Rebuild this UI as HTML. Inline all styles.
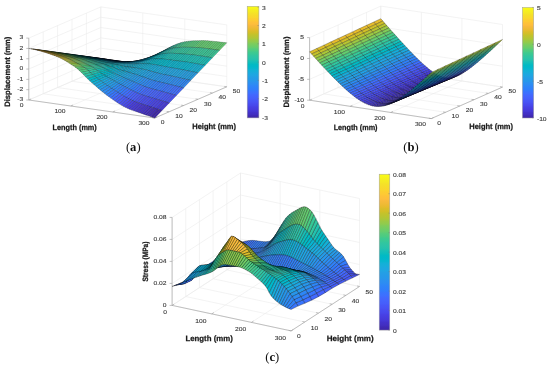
<!DOCTYPE html>
<html><head><meta charset="utf-8"><style>
html,body{margin:0;padding:0;background:#fff;}
body{width:550px;height:369px;overflow:hidden;}
svg{display:block;text-rendering:geometricPrecision;}
.tk{font-family:"Liberation Sans",Arial,sans-serif;font-size:5.7px;fill:#3c3c3c;stroke:#3c3c3c;stroke-width:0.12px;}
.al{font-family:"Liberation Sans",Arial,sans-serif;font-size:7.6px;font-weight:bold;fill:#1a1a1a;stroke:#1a1a1a;stroke-width:0.25px;}
.cap{font-family:"Liberation Serif","Times New Roman",serif;font-size:12.6px;fill:#111;}
</style></head><body>
<svg width="550" height="369" viewBox="0 0 550 369">
<rect width="550" height="369" fill="#fff"/>
<line x1="28.8" y1="100" x2="100.8" y2="68.8" stroke="#ebebeb" stroke-width="0.6"/>
<line x1="70.8" y1="106" x2="142.8" y2="74.8" stroke="#ebebeb" stroke-width="0.6"/>
<line x1="112.8" y1="112" x2="184.8" y2="80.8" stroke="#ebebeb" stroke-width="0.6"/>
<line x1="154.8" y1="118" x2="226.8" y2="86.8" stroke="#ebebeb" stroke-width="0.6"/>
<line x1="28.8" y1="100" x2="154.8" y2="118" stroke="#ebebeb" stroke-width="0.6"/>
<line x1="43.2" y1="93.76" x2="169.2" y2="111.76" stroke="#ebebeb" stroke-width="0.6"/>
<line x1="57.6" y1="87.52" x2="183.6" y2="105.52" stroke="#ebebeb" stroke-width="0.6"/>
<line x1="72" y1="81.28" x2="198" y2="99.28" stroke="#ebebeb" stroke-width="0.6"/>
<line x1="86.4" y1="75.04" x2="212.4" y2="93.04" stroke="#ebebeb" stroke-width="0.6"/>
<line x1="100.8" y1="68.8" x2="226.8" y2="86.8" stroke="#ebebeb" stroke-width="0.6"/>
<line x1="28.8" y1="100" x2="28.8" y2="38.1" stroke="#ebebeb" stroke-width="0.6"/>
<line x1="43.2" y1="93.76" x2="43.2" y2="31.86" stroke="#ebebeb" stroke-width="0.6"/>
<line x1="57.6" y1="87.52" x2="57.6" y2="25.62" stroke="#ebebeb" stroke-width="0.6"/>
<line x1="72" y1="81.28" x2="72" y2="19.38" stroke="#ebebeb" stroke-width="0.6"/>
<line x1="86.4" y1="75.04" x2="86.4" y2="13.14" stroke="#ebebeb" stroke-width="0.6"/>
<line x1="100.8" y1="68.8" x2="100.8" y2="6.9" stroke="#ebebeb" stroke-width="0.6"/>
<line x1="28.8" y1="100" x2="100.8" y2="68.8" stroke="#ebebeb" stroke-width="0.6"/>
<line x1="28.8" y1="89.68" x2="100.8" y2="58.48" stroke="#ebebeb" stroke-width="0.6"/>
<line x1="28.8" y1="79.37" x2="100.8" y2="48.17" stroke="#ebebeb" stroke-width="0.6"/>
<line x1="28.8" y1="69.05" x2="100.8" y2="37.85" stroke="#ebebeb" stroke-width="0.6"/>
<line x1="28.8" y1="58.73" x2="100.8" y2="27.53" stroke="#ebebeb" stroke-width="0.6"/>
<line x1="28.8" y1="48.42" x2="100.8" y2="17.22" stroke="#ebebeb" stroke-width="0.6"/>
<line x1="28.8" y1="38.1" x2="100.8" y2="6.9" stroke="#ebebeb" stroke-width="0.6"/>
<line x1="100.8" y1="68.8" x2="100.8" y2="6.9" stroke="#ebebeb" stroke-width="0.6"/>
<line x1="142.8" y1="74.8" x2="142.8" y2="12.9" stroke="#ebebeb" stroke-width="0.6"/>
<line x1="184.8" y1="80.8" x2="184.8" y2="18.9" stroke="#ebebeb" stroke-width="0.6"/>
<line x1="226.8" y1="86.8" x2="226.8" y2="24.9" stroke="#ebebeb" stroke-width="0.6"/>
<line x1="100.8" y1="68.8" x2="226.8" y2="86.8" stroke="#ebebeb" stroke-width="0.6"/>
<line x1="100.8" y1="58.48" x2="226.8" y2="76.48" stroke="#ebebeb" stroke-width="0.6"/>
<line x1="100.8" y1="48.17" x2="226.8" y2="66.17" stroke="#ebebeb" stroke-width="0.6"/>
<line x1="100.8" y1="37.85" x2="226.8" y2="55.85" stroke="#ebebeb" stroke-width="0.6"/>
<line x1="100.8" y1="27.53" x2="226.8" y2="45.53" stroke="#ebebeb" stroke-width="0.6"/>
<line x1="100.8" y1="17.22" x2="226.8" y2="35.22" stroke="#ebebeb" stroke-width="0.6"/>
<line x1="100.8" y1="6.9" x2="226.8" y2="24.9" stroke="#ebebeb" stroke-width="0.6"/>
<line x1="28.8" y1="100" x2="154.8" y2="118" stroke="#9a9a9a" stroke-width="0.6"/>
<line x1="154.8" y1="118" x2="226.8" y2="86.8" stroke="#9a9a9a" stroke-width="0.6"/>
<line x1="28.8" y1="100" x2="28.8" y2="38.1" stroke="#9a9a9a" stroke-width="0.6"/>
<line x1="28.8" y1="100" x2="31.09" y2="99.01" stroke="#9a9a9a" stroke-width="0.6"/>
<line x1="70.8" y1="106" x2="73.09" y2="105.01" stroke="#9a9a9a" stroke-width="0.6"/>
<line x1="112.8" y1="112" x2="115.09" y2="111.01" stroke="#9a9a9a" stroke-width="0.6"/>
<line x1="154.8" y1="118" x2="157.09" y2="117.01" stroke="#9a9a9a" stroke-width="0.6"/>
<line x1="154.8" y1="118" x2="152.33" y2="117.65" stroke="#9a9a9a" stroke-width="0.6"/>
<line x1="169.2" y1="111.76" x2="166.73" y2="111.41" stroke="#9a9a9a" stroke-width="0.6"/>
<line x1="183.6" y1="105.52" x2="181.13" y2="105.17" stroke="#9a9a9a" stroke-width="0.6"/>
<line x1="198" y1="99.28" x2="195.53" y2="98.93" stroke="#9a9a9a" stroke-width="0.6"/>
<line x1="212.4" y1="93.04" x2="209.93" y2="92.69" stroke="#9a9a9a" stroke-width="0.6"/>
<line x1="226.8" y1="86.8" x2="224.33" y2="86.45" stroke="#9a9a9a" stroke-width="0.6"/>
<line x1="28.8" y1="100" x2="26.3" y2="100" stroke="#9a9a9a" stroke-width="0.6"/>
<line x1="28.8" y1="89.68" x2="26.3" y2="89.68" stroke="#9a9a9a" stroke-width="0.6"/>
<line x1="28.8" y1="79.37" x2="26.3" y2="79.37" stroke="#9a9a9a" stroke-width="0.6"/>
<line x1="28.8" y1="69.05" x2="26.3" y2="69.05" stroke="#9a9a9a" stroke-width="0.6"/>
<line x1="28.8" y1="58.73" x2="26.3" y2="58.73" stroke="#9a9a9a" stroke-width="0.6"/>
<line x1="28.8" y1="48.42" x2="26.3" y2="48.42" stroke="#9a9a9a" stroke-width="0.6"/>
<line x1="28.8" y1="38.1" x2="26.3" y2="38.1" stroke="#9a9a9a" stroke-width="0.6"/>
<g stroke="#000" stroke-width="0.3" stroke-opacity="0.7" stroke-linejoin="round">
<polygon points="93.6,57.48 95.7,57.78 102.9,58.78 100.8,58.48" fill="#3e6fff"/>
<polygon points="95.7,57.78 97.8,58.09 105,59.08 102.9,58.78" fill="#3e6fff"/>
<polygon points="97.8,58.09 99.9,58.4 107.1,59.38 105,59.08" fill="#3e6fff"/>
<polygon points="99.9,58.4 102,58.71 109.2,59.67 107.1,59.38" fill="#3e6fff"/>
<polygon points="102,58.71 104.1,59.03 111.3,59.96 109.2,59.67" fill="#3e6fff"/>
<polygon points="104.1,59.03 106.2,59.35 113.4,60.25 111.3,59.96" fill="#3e6fff"/>
<polygon points="106.2,59.35 108.3,59.68 115.5,60.54 113.4,60.25" fill="#3e6fff"/>
<polygon points="108.3,59.68 110.4,60 117.6,60.83 115.5,60.54" fill="#3e6fff"/>
<polygon points="110.4,60 112.5,60.33 119.7,61.11 117.6,60.83" fill="#3e6fff"/>
<polygon points="112.5,60.33 114.6,60.65 121.8,61.4 119.7,61.11" fill="#3e6fff"/>
<polygon points="114.6,60.65 116.7,60.98 123.9,61.67 121.8,61.4" fill="#3e6fff"/>
<polygon points="116.7,60.98 118.8,61.26 126,61.9 123.9,61.67" fill="#3e6fff"/>
<polygon points="86.4,56.47 88.5,56.78 95.7,57.78 93.6,57.48" fill="#2d8cf3"/>
<polygon points="118.8,61.26 120.9,61.47 128.1,62.06 126,61.9" fill="#3e6fff"/>
<polygon points="88.5,56.78 90.6,57.09 97.8,58.09 95.7,57.78" fill="#2d8cf3"/>
<polygon points="120.9,61.47 123,61.65 130.2,62.16 128.1,62.06" fill="#3e6fff"/>
<polygon points="90.6,57.09 92.7,57.42 99.9,58.4 97.8,58.09" fill="#2d8cf3"/>
<polygon points="123,61.65 125.1,61.8 132.3,62.21 130.2,62.16" fill="#3e6fff"/>
<polygon points="92.7,57.42 94.8,57.76 102,58.71 99.9,58.4" fill="#2d8cf3"/>
<polygon points="125.1,61.8 127.2,61.92 134.4,62.23 132.3,62.21" fill="#3875fe"/>
<polygon points="94.8,57.76 96.9,58.1 104.1,59.03 102,58.71" fill="#2d8cf3"/>
<polygon points="127.2,61.92 129.3,62.02 136.5,62.21 134.4,62.23" fill="#3875fe"/>
<polygon points="96.9,58.1 99,58.45 106.2,59.35 104.1,59.03" fill="#2d8cf3"/>
<polygon points="129.3,62.02 131.4,61.99 138.6,62.04 136.5,62.21" fill="#3875fe"/>
<polygon points="99,58.45 101.1,58.81 108.3,59.68 106.2,59.35" fill="#2d8cf3"/>
<polygon points="101.1,58.81 103.2,59.18 110.4,60 108.3,59.68" fill="#2e87f7"/>
<polygon points="131.4,61.99 133.5,61.82 140.7,61.71 138.6,62.04" fill="#3875fe"/>
<polygon points="103.2,59.18 105.3,59.54 112.5,60.33 110.4,60" fill="#2e87f7"/>
<polygon points="133.5,61.82 135.6,61.54 142.8,61.25 140.7,61.71" fill="#327cfc"/>
<polygon points="105.3,59.54 107.4,59.91 114.6,60.65 112.5,60.33" fill="#2e87f7"/>
<polygon points="135.6,61.54 137.7,61.18 144.9,60.69 142.8,61.25" fill="#327cfc"/>
<polygon points="107.4,59.91 109.5,60.28 116.7,60.98 114.6,60.65" fill="#2e87f7"/>
<polygon points="137.7,61.18 139.8,60.77 147,60.08 144.9,60.69" fill="#2f81fa"/>
<polygon points="109.5,60.28 111.6,60.61 118.8,61.26 116.7,60.98" fill="#2e87f7"/>
<polygon points="79.2,55.46 81.3,55.77 88.5,56.78 86.4,56.47" fill="#23a0e5"/>
<polygon points="139.8,60.77 141.9,60.31 149.1,59.38 147,60.08" fill="#2e87f7"/>
<polygon points="111.6,60.61 113.7,60.89 120.9,61.47 118.8,61.26" fill="#2e87f7"/>
<polygon points="81.3,55.77 83.4,56.1 90.6,57.09 88.5,56.78" fill="#23a0e5"/>
<polygon points="141.9,60.31 144,59.67 151.2,58.48 149.1,59.38" fill="#2d8cf3"/>
<polygon points="113.7,60.89 115.8,61.14 123,61.65 120.9,61.47" fill="#2e87f7"/>
<polygon points="83.4,56.1 85.5,56.44 92.7,57.42 90.6,57.09" fill="#23a0e5"/>
<polygon points="115.8,61.14 117.9,61.38 125.1,61.8 123,61.65" fill="#2e87f7"/>
<polygon points="144,59.67 146.1,58.9 153.3,57.4 151.2,58.48" fill="#2b91ef"/>
<polygon points="85.5,56.44 87.6,56.8 94.8,57.76 92.7,57.42" fill="#23a0e5"/>
<polygon points="117.9,61.38 120,61.61 127.2,61.92 125.1,61.8" fill="#2e87f7"/>
<polygon points="87.6,56.8 89.7,57.17 96.9,58.1 94.8,57.76" fill="#23a0e5"/>
<polygon points="146.1,58.9 148.2,58.05 155.4,56.22 153.3,57.4" fill="#2797eb"/>
<polygon points="120,61.61 122.1,61.82 129.3,62.02 127.2,61.92" fill="#2e87f7"/>
<polygon points="89.7,57.17 91.8,57.56 99,58.45 96.9,58.1" fill="#23a0e5"/>
<polygon points="148.2,58.05 150.3,57.16 157.5,54.99 155.4,56.22" fill="#259be8"/>
<polygon points="122.1,61.82 124.2,61.93 131.4,61.99 129.3,62.02" fill="#2e87f7"/>
<polygon points="91.8,57.56 93.9,57.95 101.1,58.81 99,58.45" fill="#23a0e5"/>
<polygon points="150.3,57.16 152.4,56.27 159.6,53.77 157.5,54.99" fill="#23a0e5"/>
<polygon points="124.2,61.93 126.3,61.93 133.5,61.82 131.4,61.99" fill="#2d8cf3"/>
<polygon points="93.9,57.95 96,58.35 103.2,59.18 101.1,58.81" fill="#23a0e5"/>
<polygon points="96,58.35 98.1,58.76 105.3,59.54 103.2,59.18" fill="#259be8"/>
<polygon points="126.3,61.93 128.4,61.83 135.6,61.54 133.5,61.82" fill="#2d8cf3"/>
<polygon points="152.4,56.27 154.5,55.37 161.7,52.54 159.6,53.77" fill="#20a5e3"/>
<polygon points="98.1,58.76 100.2,59.17 107.4,59.91 105.3,59.54" fill="#259be8"/>
<polygon points="128.4,61.83 130.5,61.67 137.7,61.18 135.6,61.54" fill="#2d8cf3"/>
<polygon points="154.5,55.37 156.6,54.35 163.8,51.2 161.7,52.54" fill="#18addb"/>
<polygon points="100.2,59.17 102.3,59.59 109.5,60.28 107.4,59.91" fill="#259be8"/>
<polygon points="130.5,61.67 132.6,61.47 139.8,60.77 137.7,61.18" fill="#2b91ef"/>
<polygon points="156.6,54.35 158.7,53.28 165.9,49.81 163.8,51.2" fill="#12b1d6"/>
<polygon points="102.3,59.59 104.4,59.97 111.6,60.61 109.5,60.28" fill="#259be8"/>
<polygon points="132.6,61.47 134.7,61.23 141.9,60.31 139.8,60.77" fill="#2b91ef"/>
<polygon points="72,54.46 74.1,54.77 81.3,55.77 79.2,55.46" fill="#12b1d6"/>
<polygon points="104.4,59.97 106.5,60.31 113.7,60.89 111.6,60.61" fill="#259be8"/>
<polygon points="158.7,53.28 160.8,52.24 168,48.44 165.9,49.81" fill="#08b5d0"/>
<polygon points="74.1,54.77 76.2,55.11 83.4,56.1 81.3,55.77" fill="#12b1d6"/>
<polygon points="134.7,61.23 136.8,60.86 144,59.67 141.9,60.31" fill="#2797eb"/>
<polygon points="106.5,60.31 108.6,60.63 115.8,61.14 113.7,60.89" fill="#259be8"/>
<polygon points="76.2,55.11 78.3,55.47 85.5,56.44 83.4,56.1" fill="#12b1d6"/>
<polygon points="160.8,52.24 162.9,51.29 170.1,47.19 168,48.44" fill="#02bac3"/>
<polygon points="136.8,60.86 138.9,60.4 146.1,58.9 144,59.67" fill="#259be8"/>
<polygon points="108.6,60.63 110.7,60.96 117.9,61.38 115.8,61.14" fill="#259be8"/>
<polygon points="78.3,55.47 80.4,55.85 87.6,56.8 85.5,56.44" fill="#12b1d6"/>
<polygon points="162.9,51.29 165,50.5 172.2,46.11 170.1,47.19" fill="#0bbdbd"/>
<polygon points="110.7,60.96 112.8,61.3 120,61.61 117.9,61.38" fill="#259be8"/>
<polygon points="138.9,60.4 141,59.88 148.2,58.05 146.1,58.9" fill="#259be8"/>
<polygon points="80.4,55.85 82.5,56.24 89.7,57.17 87.6,56.8" fill="#12b1d6"/>
<polygon points="112.8,61.3 114.9,61.63 122.1,61.82 120,61.61" fill="#259be8"/>
<polygon points="165,50.5 167.1,49.83 174.3,45.18 172.2,46.11" fill="#19bfb6"/>
<polygon points="141,59.88 143.1,59.32 150.3,57.16 148.2,58.05" fill="#23a0e5"/>
<polygon points="82.5,56.24 84.6,56.66 91.8,57.56 89.7,57.17" fill="#12b1d6"/>
<polygon points="114.9,61.63 117,61.88 124.2,61.93 122.1,61.82" fill="#259be8"/>
<polygon points="167.1,49.83 169.2,49.19 176.4,44.29 174.3,45.18" fill="#24c1ae"/>
<polygon points="84.6,56.66 86.7,57.08 93.9,57.95 91.8,57.56" fill="#12b1d6"/>
<polygon points="143.1,59.32 145.2,58.78 152.4,56.27 150.3,57.16" fill="#20a5e3"/>
<polygon points="117,61.88 119.1,62.04 126.3,61.93 124.2,61.93" fill="#259be8"/>
<polygon points="86.7,57.08 88.8,57.52 96,58.35 93.9,57.95" fill="#12b1d6"/>
<polygon points="169.2,49.19 171.3,48.62 178.5,43.47 176.4,44.29" fill="#2cc4a7"/>
<polygon points="145.2,58.78 147.3,58.2 154.5,55.37 152.4,56.27" fill="#1ca9df"/>
<polygon points="119.1,62.04 121.2,62.12 128.4,61.83 126.3,61.93" fill="#259be8"/>
<polygon points="88.8,57.52 90.9,57.97 98.1,58.76 96,58.35" fill="#12b1d6"/>
<polygon points="171.3,48.62 173.4,48.13 180.6,42.76 178.5,43.47" fill="#31c69f"/>
<polygon points="147.3,58.2 149.4,57.5 156.6,54.35 154.5,55.37" fill="#18addb"/>
<polygon points="121.2,62.12 123.3,62.16 130.5,61.67 128.4,61.83" fill="#259be8"/>
<polygon points="90.9,57.97 93,58.43 100.2,59.17 98.1,58.76" fill="#18addb"/>
<polygon points="173.4,48.13 175.5,47.76 182.7,42.18 180.6,42.76" fill="#37c897"/>
<polygon points="149.4,57.5 151.5,56.75 158.7,53.28 156.6,54.35" fill="#12b1d6"/>
<polygon points="93,58.43 95.1,58.89 102.3,59.59 100.2,59.17" fill="#18addb"/>
<polygon points="123.3,62.16 125.4,62.17 132.6,61.47 130.5,61.67" fill="#23a0e5"/>
<polygon points="175.5,47.76 177.6,47.54 184.8,41.76 182.7,42.18" fill="#3fca8e"/>
<polygon points="95.1,58.89 97.2,59.32 104.4,59.97 102.3,59.59" fill="#18addb"/>
<polygon points="125.4,62.17 127.5,62.15 134.7,61.23 132.6,61.47" fill="#23a0e5"/>
<polygon points="151.5,56.75 153.6,56.03 160.8,52.24 158.7,53.28" fill="#08b5d0"/>
<polygon points="64.8,53.45 66.9,53.77 74.1,54.77 72,54.46" fill="#19bfb6"/>
<polygon points="177.6,47.54 179.7,47.4 186.9,41.45 184.8,41.76" fill="#3fca8e"/>
<polygon points="97.2,59.32 99.3,59.72 106.5,60.31 104.4,59.97" fill="#18addb"/>
<polygon points="127.5,62.15 129.6,62.05 136.8,60.86 134.7,61.23" fill="#23a0e5"/>
<polygon points="153.6,56.03 155.7,55.39 162.9,51.29 160.8,52.24" fill="#01b8ca"/>
<polygon points="66.9,53.77 69,54.11 76.2,55.11 74.1,54.77" fill="#0bbdbd"/>
<polygon points="99.3,59.72 101.4,60.13 108.6,60.63 106.5,60.31" fill="#18addb"/>
<polygon points="179.7,47.4 181.8,47.32 189,41.2 186.9,41.45" fill="#4acb84"/>
<polygon points="129.6,62.05 131.7,61.9 138.9,60.4 136.8,60.86" fill="#20a5e3"/>
<polygon points="69,54.11 71.1,54.49 78.3,55.47 76.2,55.11" fill="#0bbdbd"/>
<polygon points="155.7,55.39 157.8,54.88 165,50.5 162.9,51.29" fill="#02bac3"/>
<polygon points="101.4,60.13 103.5,60.55 110.7,60.96 108.6,60.63" fill="#18addb"/>
<polygon points="181.8,47.32 183.9,47.29 191.1,41.01 189,41.2" fill="#4acb84"/>
<polygon points="71.1,54.49 73.2,54.89 80.4,55.85 78.3,55.47" fill="#0bbdbd"/>
<polygon points="131.7,61.9 133.8,61.71 141,59.88 138.9,60.4" fill="#20a5e3"/>
<polygon points="157.8,54.88 159.9,54.47 167.1,49.83 165,50.5" fill="#0bbdbd"/>
<polygon points="103.5,60.55 105.6,60.98 112.8,61.3 110.7,60.96" fill="#18addb"/>
<polygon points="183.9,47.29 186,47.29 193.2,40.87 191.1,41.01" fill="#4acb84"/>
<polygon points="73.2,54.89 75.3,55.31 82.5,56.24 80.4,55.85" fill="#0bbdbd"/>
<polygon points="133.8,61.71 135.9,61.49 143.1,59.32 141,59.88" fill="#1ca9df"/>
<polygon points="105.6,60.98 107.7,61.43 114.9,61.63 112.8,61.3" fill="#1ca9df"/>
<polygon points="159.9,54.47 162,54.1 169.2,49.19 167.1,49.83" fill="#19bfb6"/>
<polygon points="186,47.29 188.1,47.33 195.3,40.78 193.2,40.87" fill="#57cc7a"/>
<polygon points="75.3,55.31 77.4,55.76 84.6,56.66 82.5,56.24" fill="#0bbdbd"/>
<polygon points="135.9,61.49 138,61.28 145.2,58.78 143.1,59.32" fill="#1ca9df"/>
<polygon points="107.7,61.43 109.8,61.82 117,61.88 114.9,61.63" fill="#1ca9df"/>
<polygon points="162,54.1 164.1,53.76 171.3,48.62 169.2,49.19" fill="#19bfb6"/>
<polygon points="188.1,47.33 190.2,47.37 197.4,40.71 195.3,40.78" fill="#57cc7a"/>
<polygon points="77.4,55.76 79.5,56.22 86.7,57.08 84.6,56.66" fill="#0bbdbd"/>
<polygon points="109.8,61.82 111.9,62.15 119.1,62.04 117,61.88" fill="#1ca9df"/>
<polygon points="138,61.28 140.1,61.03 147.3,58.2 145.2,58.78" fill="#18addb"/>
<polygon points="79.5,56.22 81.6,56.7 88.8,57.52 86.7,57.08" fill="#0bbdbd"/>
<polygon points="164.1,53.76 166.2,53.5 173.4,48.13 171.3,48.62" fill="#24c1ae"/>
<polygon points="190.2,47.37 192.3,47.42 199.5,40.65 197.4,40.71" fill="#57cc7a"/>
<polygon points="111.9,62.15 114,62.42 121.2,62.12 119.1,62.04" fill="#1ca9df"/>
<polygon points="140.1,61.03 142.2,60.65 149.4,57.5 147.3,58.2" fill="#18addb"/>
<polygon points="81.6,56.7 83.7,57.19 90.9,57.97 88.8,57.52" fill="#0bbdbd"/>
<polygon points="192.3,47.42 194.4,47.48 201.6,40.62 199.5,40.65" fill="#57cc7a"/>
<polygon points="166.2,53.5 168.3,53.34 175.5,47.76 173.4,48.13" fill="#2cc4a7"/>
<polygon points="114,62.42 116.1,62.65 123.3,62.16 121.2,62.12" fill="#1ca9df"/>
<polygon points="83.7,57.19 85.8,57.69 93,58.43 90.9,57.97" fill="#02bac3"/>
<polygon points="142.2,60.65 144.3,60.23 151.5,56.75 149.4,57.5" fill="#12b1d6"/>
<polygon points="194.4,47.48 196.5,47.56 203.7,40.62 201.6,40.62" fill="#64cd6f"/>
<polygon points="168.3,53.34 170.4,53.31 177.6,47.54 175.5,47.76" fill="#2cc4a7"/>
<polygon points="116.1,62.65 118.2,62.87 125.4,62.17 123.3,62.16" fill="#1ca9df"/>
<polygon points="85.8,57.69 87.9,58.19 95.1,58.89 93,58.43" fill="#02bac3"/>
<polygon points="144.3,60.23 146.4,59.82 153.6,56.03 151.5,56.75" fill="#08b5d0"/>
<polygon points="196.5,47.56 198.6,47.69 205.8,40.68 203.7,40.62" fill="#64cd6f"/>
<polygon points="170.4,53.31 172.5,53.35 179.7,47.4 177.6,47.54" fill="#2cc4a7"/>
<polygon points="118.2,62.87 120.3,63.07 127.5,62.15 125.4,62.17" fill="#1ca9df"/>
<polygon points="87.9,58.19 90,58.68 97.2,59.32 95.1,58.89" fill="#02bac3"/>
<polygon points="198.6,47.69 200.7,47.87 207.9,40.79 205.8,40.68" fill="#64cd6f"/>
<polygon points="146.4,59.82 148.5,59.49 155.7,55.39 153.6,56.03" fill="#08b5d0"/>
<polygon points="172.5,53.35 174.6,53.44 181.8,47.32 179.7,47.4" fill="#31c69f"/>
<polygon points="57.6,52.44 59.7,52.76 66.9,53.77 64.8,53.45" fill="#37c897"/>
<polygon points="120.3,63.07 122.4,63.25 129.6,62.05 127.5,62.15" fill="#1ca9df"/>
<polygon points="90,58.68 92.1,59.14 99.3,59.72 97.2,59.32" fill="#02bac3"/>
<polygon points="200.7,47.87 202.8,48.1 210,40.97 207.9,40.79" fill="#64cd6f"/>
<polygon points="59.7,52.76 61.8,53.12 69,54.11 66.9,53.77" fill="#37c897"/>
<polygon points="148.5,59.49 150.6,59.26 157.8,54.88 155.7,55.39" fill="#01b8ca"/>
<polygon points="174.6,53.44 176.7,53.57 183.9,47.29 181.8,47.32" fill="#31c69f"/>
<polygon points="122.4,63.25 124.5,63.4 131.7,61.9 129.6,62.05" fill="#18addb"/>
<polygon points="92.1,59.14 94.2,59.62 101.4,60.13 99.3,59.72" fill="#02bac3"/>
<polygon points="202.8,48.1 204.9,48.35 212.1,41.17 210,40.97" fill="#64cd6f"/>
<polygon points="61.8,53.12 63.9,53.51 71.1,54.49 69,54.11" fill="#37c897"/>
<polygon points="176.7,53.57 178.8,53.71 186,47.29 183.9,47.29" fill="#31c69f"/>
<polygon points="150.6,59.26 152.7,59.12 159.9,54.47 157.8,54.88" fill="#02bac3"/>
<polygon points="94.2,59.62 96.3,60.13 103.5,60.55 101.4,60.13" fill="#01b8ca"/>
<polygon points="124.5,63.4 126.6,63.54 133.8,61.71 131.7,61.9" fill="#18addb"/>
<polygon points="204.9,48.35 207,48.62 214.2,41.39 212.1,41.17" fill="#64cd6f"/>
<polygon points="63.9,53.51 66,53.93 73.2,54.89 71.1,54.49" fill="#37c897"/>
<polygon points="178.8,53.71 180.9,53.88 188.1,47.33 186,47.29" fill="#31c69f"/>
<polygon points="96.3,60.13 98.4,60.67 105.6,60.98 103.5,60.55" fill="#01b8ca"/>
<polygon points="152.7,59.12 154.8,59 162,54.1 159.9,54.47" fill="#02bac3"/>
<polygon points="126.6,63.54 128.7,63.66 135.9,61.49 133.8,61.71" fill="#18addb"/>
<polygon points="207,48.62 209.1,48.9 216.3,41.62 214.2,41.39" fill="#64cd6f"/>
<polygon points="66,53.93 68.1,54.38 75.3,55.31 73.2,54.89" fill="#31c69f"/>
<polygon points="180.9,53.88 183,54.04 190.2,47.37 188.1,47.33" fill="#31c69f"/>
<polygon points="98.4,60.67 100.5,61.24 107.7,61.43 105.6,60.98" fill="#01b8ca"/>
<polygon points="154.8,59 156.9,58.91 164.1,53.76 162,54.1" fill="#02bac3"/>
<polygon points="128.7,63.66 130.8,63.78 138,61.28 135.9,61.49" fill="#18addb"/>
<polygon points="68.1,54.38 70.2,54.86 77.4,55.76 75.3,55.31" fill="#31c69f"/>
<polygon points="209.1,48.9 211.2,49.18 218.4,41.85 216.3,41.62" fill="#64cd6f"/>
<polygon points="100.5,61.24 102.6,61.77 109.8,61.82 107.7,61.43" fill="#01b8ca"/>
<polygon points="183,54.04 185.1,54.18 192.3,47.42 190.2,47.37" fill="#31c69f"/>
<polygon points="156.9,58.91 159,58.87 166.2,53.5 164.1,53.76" fill="#0bbdbd"/>
<polygon points="130.8,63.78 132.9,63.85 140.1,61.03 138,61.28" fill="#18addb"/>
<polygon points="70.2,54.86 72.3,55.36 79.5,56.22 77.4,55.76" fill="#31c69f"/>
<polygon points="211.2,49.18 213.3,49.46 220.5,42.08 218.4,41.85" fill="#64cd6f"/>
<polygon points="102.6,61.77 104.7,62.26 111.9,62.15 109.8,61.82" fill="#08b5d0"/>
<polygon points="185.1,54.18 187.2,54.33 194.4,47.48 192.3,47.42" fill="#37c897"/>
<polygon points="159,58.87 161.1,58.92 168.3,53.34 166.2,53.5" fill="#0bbdbd"/>
<polygon points="132.9,63.85 135,63.8 142.2,60.65 140.1,61.03" fill="#12b1d6"/>
<polygon points="72.3,55.36 74.4,55.87 81.6,56.7 79.5,56.22" fill="#31c69f"/>
<polygon points="213.3,49.46 215.4,49.74 222.6,42.31 220.5,42.08" fill="#64cd6f"/>
<polygon points="104.7,62.26 106.8,62.71 114,62.42 111.9,62.15" fill="#08b5d0"/>
<polygon points="187.2,54.33 189.3,54.5 196.5,47.56 194.4,47.48" fill="#37c897"/>
<polygon points="161.1,58.92 163.2,59.08 170.4,53.31 168.3,53.34" fill="#0bbdbd"/>
<polygon points="74.4,55.87 76.5,56.4 83.7,57.19 81.6,56.7" fill="#31c69f"/>
<polygon points="135,63.8 137.1,63.7 144.3,60.23 142.2,60.65" fill="#12b1d6"/>
<polygon points="215.4,49.74 217.5,50.01 224.7,42.53 222.6,42.31" fill="#64cd6f"/>
<polygon points="106.8,62.71 108.9,63.14 116.1,62.65 114,62.42" fill="#08b5d0"/>
<polygon points="189.3,54.5 191.4,54.69 198.6,47.69 196.5,47.56" fill="#37c897"/>
<polygon points="163.2,59.08 165.3,59.31 172.5,53.35 170.4,53.31" fill="#19bfb6"/>
<polygon points="76.5,56.4 78.6,56.95 85.8,57.69 83.7,57.19" fill="#2cc4a7"/>
<polygon points="217.5,50.01 219.6,50.27 226.8,42.75 224.7,42.53" fill="#64cd6f"/>
<polygon points="137.1,63.7 139.2,63.62 146.4,59.82 144.3,60.23" fill="#12b1d6"/>
<polygon points="108.9,63.14 111,63.56 118.2,62.87 116.1,62.65" fill="#08b5d0"/>
<polygon points="191.4,54.69 193.5,54.94 200.7,47.87 198.6,47.69" fill="#37c897"/>
<polygon points="78.6,56.95 80.7,57.5 87.9,58.19 85.8,57.69" fill="#2cc4a7"/>
<polygon points="165.3,59.31 167.4,59.56 174.6,53.44 172.5,53.35" fill="#19bfb6"/>
<polygon points="139.2,63.62 141.3,63.58 148.5,59.49 146.4,59.82" fill="#08b5d0"/>
<polygon points="111,63.56 113.1,63.99 120.3,63.07 118.2,62.87" fill="#08b5d0"/>
<polygon points="193.5,54.94 195.6,55.22 202.8,48.1 200.7,47.87" fill="#37c897"/>
<polygon points="80.7,57.5 82.8,58.04 90,58.68 87.9,58.19" fill="#2cc4a7"/>
<polygon points="167.4,59.56 169.5,59.84 176.7,53.57 174.6,53.44" fill="#19bfb6"/>
<polygon points="113.1,63.99 115.2,64.44 122.4,63.25 120.3,63.07" fill="#08b5d0"/>
<polygon points="141.3,63.58 143.4,63.65 150.6,59.26 148.5,59.49" fill="#08b5d0"/>
<polygon points="50.4,51.44 52.5,51.76 59.7,52.76 57.6,52.44" fill="#64cd6f"/>
<polygon points="195.6,55.22 197.7,55.53 204.9,48.35 202.8,48.1" fill="#37c897"/>
<polygon points="82.8,58.04 84.9,58.56 92.1,59.14 90,58.68" fill="#2cc4a7"/>
<polygon points="169.5,59.84 171.6,60.14 178.8,53.71 176.7,53.57" fill="#19bfb6"/>
<polygon points="115.2,64.44 117.3,64.9 124.5,63.4 122.4,63.25" fill="#08b5d0"/>
<polygon points="143.4,63.65 145.5,63.77 152.7,59.12 150.6,59.26" fill="#08b5d0"/>
<polygon points="52.5,51.76 54.6,52.13 61.8,53.12 59.7,52.76" fill="#64cd6f"/>
<polygon points="197.7,55.53 199.8,55.84 207,48.62 204.9,48.35" fill="#37c897"/>
<polygon points="84.9,58.56 87,59.11 94.2,59.62 92.1,59.14" fill="#24c1ae"/>
<polygon points="171.6,60.14 173.7,60.43 180.9,53.88 178.8,53.71" fill="#19bfb6"/>
<polygon points="117.3,64.9 119.4,65.37 126.6,63.54 124.5,63.4" fill="#12b1d6"/>
<polygon points="54.6,52.13 56.7,52.53 63.9,53.51 61.8,53.12" fill="#64cd6f"/>
<polygon points="145.5,63.77 147.6,63.91 154.8,59 152.7,59.12" fill="#08b5d0"/>
<polygon points="199.8,55.84 201.9,56.17 209.1,48.9 207,48.62" fill="#37c897"/>
<polygon points="87,59.11 89.1,59.71 96.3,60.13 94.2,59.62" fill="#24c1ae"/>
<polygon points="173.7,60.43 175.8,60.7 183,54.04 180.9,53.88" fill="#19bfb6"/>
<polygon points="119.4,65.37 121.5,65.83 128.7,63.66 126.6,63.54" fill="#12b1d6"/>
<polygon points="56.7,52.53 58.8,52.98 66,53.93 63.9,53.51" fill="#64cd6f"/>
<polygon points="147.6,63.91 149.7,64.06 156.9,58.91 154.8,59" fill="#01b8ca"/>
<polygon points="201.9,56.17 204,56.51 211.2,49.18 209.1,48.9" fill="#37c897"/>
<polygon points="89.1,59.71 91.2,60.36 98.4,60.67 96.3,60.13" fill="#24c1ae"/>
<polygon points="175.8,60.7 177.9,60.95 185.1,54.18 183,54.04" fill="#19bfb6"/>
<polygon points="121.5,65.83 123.6,66.29 130.8,63.78 128.7,63.66" fill="#12b1d6"/>
<polygon points="58.8,52.98 60.9,53.45 68.1,54.38 66,53.93" fill="#64cd6f"/>
<polygon points="91.2,60.36 93.3,61.04 100.5,61.24 98.4,60.67" fill="#24c1ae"/>
<polygon points="204,56.51 206.1,56.84 213.3,49.46 211.2,49.18" fill="#37c897"/>
<polygon points="149.7,64.06 151.8,64.25 159,58.87 156.9,58.91" fill="#01b8ca"/>
<polygon points="177.9,60.95 180,61.19 187.2,54.33 185.1,54.18" fill="#19bfb6"/>
<polygon points="123.6,66.29 125.7,66.68 132.9,63.85 130.8,63.78" fill="#12b1d6"/>
<polygon points="60.9,53.45 63,53.96 70.2,54.86 68.1,54.38" fill="#57cc7a"/>
<polygon points="93.3,61.04 95.4,61.72 102.6,61.77 100.5,61.24" fill="#19bfb6"/>
<polygon points="206.1,56.84 208.2,57.17 215.4,49.74 213.3,49.46" fill="#37c897"/>
<polygon points="151.8,64.25 153.9,64.51 161.1,58.92 159,58.87" fill="#01b8ca"/>
<polygon points="180,61.19 182.1,61.43 189.3,54.5 187.2,54.33" fill="#19bfb6"/>
<polygon points="63,53.96 65.1,54.49 72.3,55.36 70.2,54.86" fill="#57cc7a"/>
<polygon points="125.7,66.68 127.8,66.95 135,63.8 132.9,63.85" fill="#12b1d6"/>
<polygon points="95.4,61.72 97.5,62.36 104.7,62.26 102.6,61.77" fill="#19bfb6"/>
<polygon points="208.2,57.17 210.3,57.49 217.5,50.01 215.4,49.74" fill="#37c897"/>
<polygon points="153.9,64.51 156,64.86 163.2,59.08 161.1,58.92" fill="#01b8ca"/>
<polygon points="182.1,61.43 184.2,61.7 191.4,54.69 189.3,54.5" fill="#19bfb6"/>
<polygon points="65.1,54.49 67.2,55.04 74.4,55.87 72.3,55.36" fill="#57cc7a"/>
<polygon points="97.5,62.36 99.6,63 106.8,62.71 104.7,62.26" fill="#0bbdbd"/>
<polygon points="127.8,66.95 129.9,67.17 137.1,63.7 135,63.8" fill="#12b1d6"/>
<polygon points="210.3,57.49 212.4,57.8 219.6,50.27 217.5,50.01" fill="#37c897"/>
<polygon points="156,64.86 158.1,65.26 165.3,59.31 163.2,59.08" fill="#01b8ca"/>
<polygon points="184.2,61.7 186.3,62.01 193.5,54.94 191.4,54.69" fill="#19bfb6"/>
<polygon points="67.2,55.04 69.3,55.62 76.5,56.4 74.4,55.87" fill="#57cc7a"/>
<polygon points="99.6,63 101.7,63.63 108.9,63.14 106.8,62.71" fill="#0bbdbd"/>
<polygon points="129.9,67.17 132,67.41 139.2,63.62 137.1,63.7" fill="#12b1d6"/>
<polygon points="158.1,65.26 160.2,65.69 167.4,59.56 165.3,59.31" fill="#01b8ca"/>
<polygon points="186.3,62.01 188.4,62.35 195.6,55.22 193.5,54.94" fill="#19bfb6"/>
<polygon points="69.3,55.62 71.4,56.2 78.6,56.95 76.5,56.4" fill="#57cc7a"/>
<polygon points="101.7,63.63 103.8,64.26 111,63.56 108.9,63.14" fill="#0bbdbd"/>
<polygon points="132,67.41 134.1,67.68 141.3,63.58 139.2,63.62" fill="#12b1d6"/>
<polygon points="160.2,65.69 162.3,66.12 169.5,59.84 167.4,59.56" fill="#01b8ca"/>
<polygon points="188.4,62.35 190.5,62.7 197.7,55.53 195.6,55.22" fill="#19bfb6"/>
<polygon points="71.4,56.2 73.5,56.8 80.7,57.5 78.6,56.95" fill="#4acb84"/>
<polygon points="103.8,64.26 105.9,64.91 113.1,63.99 111,63.56" fill="#02bac3"/>
<polygon points="134.1,67.68 136.2,68.03 143.4,63.65 141.3,63.58" fill="#12b1d6"/>
<polygon points="162.3,66.12 164.4,66.56 171.6,60.14 169.5,59.84" fill="#01b8ca"/>
<polygon points="73.5,56.8 75.6,57.39 82.8,58.04 80.7,57.5" fill="#4acb84"/>
<polygon points="190.5,62.7 192.6,63.07 199.8,55.84 197.7,55.53" fill="#19bfb6"/>
<polygon points="105.9,64.91 108,65.63 115.2,64.44 113.1,63.99" fill="#02bac3"/>
<polygon points="136.2,68.03 138.3,68.42 145.5,63.77 143.4,63.65" fill="#12b1d6"/>
<polygon points="164.4,66.56 166.5,66.98 173.7,60.43 171.6,60.14" fill="#08b5d0"/>
<polygon points="43.2,50.43 45.3,50.76 52.5,51.76 50.4,51.44" fill="#9dc943"/>
<polygon points="75.6,57.39 77.7,57.97 84.9,58.56 82.8,58.04" fill="#4acb84"/>
<polygon points="192.6,63.07 194.7,63.45 201.9,56.17 199.8,55.84" fill="#19bfb6"/>
<polygon points="108,65.63 110.1,66.4 117.3,64.9 115.2,64.44" fill="#02bac3"/>
<polygon points="138.3,68.42 140.4,68.81 147.6,63.91 145.5,63.77" fill="#12b1d6"/>
<polygon points="166.5,66.98 168.6,67.37 175.8,60.7 173.7,60.43" fill="#08b5d0"/>
<polygon points="45.3,50.76 47.4,51.13 54.6,52.13 52.5,51.76" fill="#9dc943"/>
<polygon points="77.7,57.97 79.8,58.6 87,59.11 84.9,58.56" fill="#3fca8e"/>
<polygon points="110.1,66.4 112.2,67.2 119.4,65.37 117.3,64.9" fill="#01b8ca"/>
<polygon points="194.7,63.45 196.8,63.84 204,56.51 201.9,56.17" fill="#19bfb6"/>
<polygon points="140.4,68.81 142.5,69.21 149.7,64.06 147.6,63.91" fill="#12b1d6"/>
<polygon points="168.6,67.37 170.7,67.71 177.9,60.95 175.8,60.7" fill="#08b5d0"/>
<polygon points="47.4,51.13 49.5,51.56 56.7,52.53 54.6,52.13" fill="#9dc943"/>
<polygon points="79.8,58.6 81.9,59.3 89.1,59.71 87,59.11" fill="#3fca8e"/>
<polygon points="112.2,67.2 114.3,68 121.5,65.83 119.4,65.37" fill="#01b8ca"/>
<polygon points="196.8,63.84 198.9,64.22 206.1,56.84 204,56.51" fill="#19bfb6"/>
<polygon points="142.5,69.21 144.6,69.62 151.8,64.25 149.7,64.06" fill="#12b1d6"/>
<polygon points="170.7,67.71 172.8,68.04 180,61.19 177.9,60.95" fill="#08b5d0"/>
<polygon points="49.5,51.56 51.6,52.02 58.8,52.98 56.7,52.53" fill="#9dc943"/>
<polygon points="81.9,59.3 84,60.05 91.2,60.36 89.1,59.71" fill="#3fca8e"/>
<polygon points="114.3,68 116.4,68.79 123.6,66.29 121.5,65.83" fill="#08b5d0"/>
<polygon points="198.9,64.22 201,64.6 208.2,57.17 206.1,56.84" fill="#19bfb6"/>
<polygon points="144.6,69.62 146.7,70.09 153.9,64.51 151.8,64.25" fill="#12b1d6"/>
<polygon points="172.8,68.04 174.9,68.37 182.1,61.43 180,61.19" fill="#08b5d0"/>
<polygon points="84,60.05 86.1,60.85 93.3,61.04 91.2,60.36" fill="#37c897"/>
<polygon points="51.6,52.02 53.7,52.52 60.9,53.45 58.8,52.98" fill="#9dc943"/>
<polygon points="116.4,68.79 118.5,69.51 125.7,66.68 123.6,66.29" fill="#08b5d0"/>
<polygon points="201,64.6 203.1,64.96 210.3,57.49 208.2,57.17" fill="#19bfb6"/>
<polygon points="146.7,70.09 148.8,70.63 156,64.86 153.9,64.51" fill="#18addb"/>
<polygon points="86.1,60.85 88.2,61.66 95.4,61.72 93.3,61.04" fill="#37c897"/>
<polygon points="174.9,68.37 177,68.71 184.2,61.7 182.1,61.43" fill="#08b5d0"/>
<polygon points="53.7,52.52 55.8,53.06 63,53.96 60.9,53.45" fill="#9dc943"/>
<polygon points="118.5,69.51 120.6,70.1 127.8,66.95 125.7,66.68" fill="#12b1d6"/>
<polygon points="203.1,64.96 205.2,65.32 212.4,57.8 210.3,57.49" fill="#0bbdbd"/>
<polygon points="148.8,70.63 150.9,71.21 158.1,65.26 156,64.86" fill="#18addb"/>
<polygon points="88.2,61.66 90.3,62.47 97.5,62.36 95.4,61.72" fill="#31c69f"/>
<polygon points="55.8,53.06 57.9,53.63 65.1,54.49 63,53.96" fill="#8fcb4e"/>
<polygon points="177,68.71 179.1,69.08 186.3,62.01 184.2,61.7" fill="#08b5d0"/>
<polygon points="120.6,70.1 122.7,70.65 129.9,67.17 127.8,66.95" fill="#12b1d6"/>
<polygon points="90.3,62.47 92.4,63.29 99.6,63 97.5,62.36" fill="#31c69f"/>
<polygon points="150.9,71.21 153,71.81 160.2,65.69 158.1,65.26" fill="#18addb"/>
<polygon points="57.9,53.63 60,54.22 67.2,55.04 65.1,54.49" fill="#8fcb4e"/>
<polygon points="179.1,69.08 181.2,69.47 188.4,62.35 186.3,62.01" fill="#08b5d0"/>
<polygon points="122.7,70.65 124.8,71.2 132,67.41 129.9,67.17" fill="#12b1d6"/>
<polygon points="92.4,63.29 94.5,64.12 101.7,63.63 99.6,63" fill="#2cc4a7"/>
<polygon points="153,71.81 155.1,72.4 162.3,66.12 160.2,65.69" fill="#18addb"/>
<polygon points="60,54.22 62.1,54.83 69.3,55.62 67.2,55.04" fill="#8fcb4e"/>
<polygon points="181.2,69.47 183.3,69.88 190.5,62.7 188.4,62.35" fill="#08b5d0"/>
<polygon points="124.8,71.2 126.9,71.78 134.1,67.68 132,67.41" fill="#18addb"/>
<polygon points="94.5,64.12 96.6,64.96 103.8,64.26 101.7,63.63" fill="#24c1ae"/>
<polygon points="155.1,72.4 157.2,72.98 164.4,66.56 162.3,66.12" fill="#1ca9df"/>
<polygon points="62.1,54.83 64.2,55.46 71.4,56.2 69.3,55.62" fill="#8fcb4e"/>
<polygon points="183.3,69.88 185.4,70.3 192.6,63.07 190.5,62.7" fill="#08b5d0"/>
<polygon points="126.9,71.78 129,72.41 136.2,68.03 134.1,67.68" fill="#18addb"/>
<polygon points="96.6,64.96 98.7,65.83 105.9,64.91 103.8,64.26" fill="#24c1ae"/>
<polygon points="157.2,72.98 159.3,73.53 166.5,66.98 164.4,66.56" fill="#1ca9df"/>
<polygon points="64.2,55.46 66.3,56.11 73.5,56.8 71.4,56.2" fill="#81cc59"/>
<polygon points="185.4,70.3 187.5,70.73 194.7,63.45 192.6,63.07" fill="#08b5d0"/>
<polygon points="129,72.41 131.1,73.07 138.3,68.42 136.2,68.03" fill="#18addb"/>
<polygon points="98.7,65.83 100.8,66.82 108,65.63 105.9,64.91" fill="#19bfb6"/>
<polygon points="159.3,73.53 161.4,74.03 168.6,67.37 166.5,66.98" fill="#1ca9df"/>
<polygon points="66.3,56.11 68.4,56.75 75.6,57.39 73.5,56.8" fill="#81cc59"/>
<polygon points="187.5,70.73 189.6,71.17 196.8,63.84 194.7,63.45" fill="#12b1d6"/>
<polygon points="131.1,73.07 133.2,73.72 140.4,68.81 138.3,68.42" fill="#1ca9df"/>
<polygon points="100.8,66.82 102.9,67.9 110.1,66.4 108,65.63" fill="#19bfb6"/>
<polygon points="36,49.42 38.1,49.75 45.3,50.76 43.2,50.43" fill="#dcbd29"/>
<polygon points="68.4,56.75 70.5,57.39 77.7,57.97 75.6,57.39" fill="#72cd64"/>
<polygon points="161.4,74.03 163.5,74.48 170.7,67.71 168.6,67.37" fill="#20a5e3"/>
<polygon points="189.6,71.17 191.7,71.6 198.9,64.22 196.8,63.84" fill="#12b1d6"/>
<polygon points="133.2,73.72 135.3,74.35 142.5,69.21 140.4,68.81" fill="#1ca9df"/>
<polygon points="102.9,67.9 105,69.03 112.2,67.2 110.1,66.4" fill="#0bbdbd"/>
<polygon points="38.1,49.75 40.2,50.14 47.4,51.13 45.3,50.76" fill="#dcbd29"/>
<polygon points="70.5,57.39 72.6,58.1 79.8,58.6 77.7,57.97" fill="#72cd64"/>
<polygon points="163.5,74.48 165.6,74.9 172.8,68.04 170.7,67.71" fill="#20a5e3"/>
<polygon points="135.3,74.35 137.4,74.99 144.6,69.62 142.5,69.21" fill="#1ca9df"/>
<polygon points="191.7,71.6 193.8,72.02 201,64.6 198.9,64.22" fill="#12b1d6"/>
<polygon points="105,69.03 107.1,70.17 114.3,68 112.2,67.2" fill="#02bac3"/>
<polygon points="72.6,58.1 74.7,58.88 81.9,59.3 79.8,58.6" fill="#72cd64"/>
<polygon points="40.2,50.14 42.3,50.58 49.5,51.56 47.4,51.13" fill="#d1bf27"/>
<polygon points="165.6,74.9 167.7,75.31 174.9,68.37 172.8,68.04" fill="#20a5e3"/>
<polygon points="137.4,74.99 139.5,75.67 146.7,70.09 144.6,69.62" fill="#20a5e3"/>
<polygon points="107.1,70.17 109.2,71.29 116.4,68.79 114.3,68" fill="#01b8ca"/>
<polygon points="193.8,72.02 195.9,72.44 203.1,64.96 201,64.6" fill="#12b1d6"/>
<polygon points="74.7,58.88 76.8,59.73 84,60.05 81.9,59.3" fill="#64cd6f"/>
<polygon points="42.3,50.58 44.4,51.07 51.6,52.02 49.5,51.56" fill="#d1bf27"/>
<polygon points="167.7,75.31 169.8,75.72 177,68.71 174.9,68.37" fill="#20a5e3"/>
<polygon points="109.2,71.29 111.3,72.34 118.5,69.51 116.4,68.79" fill="#08b5d0"/>
<polygon points="139.5,75.67 141.6,76.41 148.8,70.63 146.7,70.09" fill="#20a5e3"/>
<polygon points="195.9,72.44 198,72.85 205.2,65.32 203.1,64.96" fill="#12b1d6"/>
<polygon points="76.8,59.73 78.9,60.65 86.1,60.85 84,60.05" fill="#64cd6f"/>
<polygon points="44.4,51.07 46.5,51.59 53.7,52.52 51.6,52.02" fill="#d1bf27"/>
<polygon points="169.8,75.72 171.9,76.15 179.1,69.08 177,68.71" fill="#20a5e3"/>
<polygon points="111.3,72.34 113.4,73.25 120.6,70.1 118.5,69.51" fill="#12b1d6"/>
<polygon points="141.6,76.41 143.7,77.17 150.9,71.21 148.8,70.63" fill="#23a0e5"/>
<polygon points="78.9,60.65 81,61.61 88.2,61.66 86.1,60.85" fill="#57cc7a"/>
<polygon points="46.5,51.59 48.6,52.16 55.8,53.06 53.7,52.52" fill="#d1bf27"/>
<polygon points="113.4,73.25 115.5,74.12 122.7,70.65 120.6,70.1" fill="#12b1d6"/>
<polygon points="171.9,76.15 174,76.6 181.2,69.47 179.1,69.08" fill="#20a5e3"/>
<polygon points="143.7,77.17 145.8,77.93 153,71.81 150.9,71.21" fill="#23a0e5"/>
<polygon points="81,61.61 83.1,62.58 90.3,62.47 88.2,61.66" fill="#4acb84"/>
<polygon points="48.6,52.16 50.7,52.76 57.9,53.63 55.8,53.06" fill="#d1bf27"/>
<polygon points="115.5,74.12 117.6,75 124.8,71.2 122.7,70.65" fill="#18addb"/>
<polygon points="145.8,77.93 147.9,78.68 155.1,72.4 153,71.81" fill="#259be8"/>
<polygon points="174,76.6 176.1,77.06 183.3,69.88 181.2,69.47" fill="#20a5e3"/>
<polygon points="83.1,62.58 85.2,63.58 92.4,63.29 90.3,62.47" fill="#4acb84"/>
<polygon points="50.7,52.76 52.8,53.39 60,54.22 57.9,53.63" fill="#c5c22a"/>
<polygon points="117.6,75 119.7,75.88 126.9,71.78 124.8,71.2" fill="#18addb"/>
<polygon points="147.9,78.68 150,79.4 157.2,72.98 155.1,72.4" fill="#259be8"/>
<polygon points="176.1,77.06 178.2,77.53 185.4,70.3 183.3,69.88" fill="#20a5e3"/>
<polygon points="85.2,63.58 87.3,64.61 94.5,64.12 92.4,63.29" fill="#3fca8e"/>
<polygon points="52.8,53.39 54.9,54.05 62.1,54.83 60,54.22" fill="#c5c22a"/>
<polygon points="119.7,75.88 121.8,76.8 129,72.41 126.9,71.78" fill="#1ca9df"/>
<polygon points="150,79.4 152.1,80.08 159.3,73.53 157.2,72.98" fill="#259be8"/>
<polygon points="178.2,77.53 180.3,78.01 187.5,70.73 185.4,70.3" fill="#23a0e5"/>
<polygon points="87.3,64.61 89.4,65.65 96.6,64.96 94.5,64.12" fill="#37c897"/>
<polygon points="54.9,54.05 57,54.72 64.2,55.46 62.1,54.83" fill="#c5c22a"/>
<polygon points="121.8,76.8 123.9,77.72 131.1,73.07 129,72.41" fill="#20a5e3"/>
<polygon points="152.1,80.08 154.2,80.7 161.4,74.03 159.3,73.53" fill="#2797eb"/>
<polygon points="180.3,78.01 182.4,78.5 189.6,71.17 187.5,70.73" fill="#23a0e5"/>
<polygon points="89.4,65.65 91.5,66.75 98.7,65.83 96.6,64.96" fill="#31c69f"/>
<polygon points="123.9,77.72 126,78.62 133.2,73.72 131.1,73.07" fill="#20a5e3"/>
<polygon points="57,54.72 59.1,55.41 66.3,56.11 64.2,55.46" fill="#b9c431"/>
<polygon points="154.2,80.7 156.3,81.24 163.5,74.48 161.4,74.03" fill="#2797eb"/>
<polygon points="91.5,66.75 93.6,68.01 100.8,66.82 98.7,65.83" fill="#31c69f"/>
<polygon points="182.4,78.5 184.5,78.98 191.7,71.6 189.6,71.17" fill="#23a0e5"/>
<polygon points="126,78.62 128.1,79.5 135.3,74.35 133.2,73.72" fill="#23a0e5"/>
<polygon points="59.1,55.41 61.2,56.1 68.4,56.75 66.3,56.11" fill="#b9c431"/>
<polygon points="93.6,68.01 95.7,69.4 102.9,67.9 100.8,66.82" fill="#2cc4a7"/>
<polygon points="156.3,81.24 158.4,81.75 165.6,74.9 163.5,74.48" fill="#2797eb"/>
<polygon points="184.5,78.98 186.6,79.45 193.8,72.02 191.7,71.6" fill="#23a0e5"/>
<polygon points="128.1,79.5 130.2,80.36 137.4,74.99 135.3,74.35" fill="#259be8"/>
<polygon points="28.8,48.42 30.9,48.75 38.1,49.75 36,49.42" fill="#febe3c"/>
<polygon points="61.2,56.1 63.3,56.81 70.5,57.39 68.4,56.75" fill="#abc739"/>
<polygon points="95.7,69.4 97.8,70.86 105,69.03 102.9,67.9" fill="#19bfb6"/>
<polygon points="158.4,81.75 160.5,82.24 167.7,75.31 165.6,74.9" fill="#2b91ef"/>
<polygon points="186.6,79.45 188.7,79.92 195.9,72.44 193.8,72.02" fill="#23a0e5"/>
<polygon points="97.8,70.86 99.9,72.34 107.1,70.17 105,69.03" fill="#0bbdbd"/>
<polygon points="130.2,80.36 132.3,81.25 139.5,75.67 137.4,74.99" fill="#259be8"/>
<polygon points="63.3,56.81 65.4,57.59 72.6,58.1 70.5,57.39" fill="#abc739"/>
<polygon points="30.9,48.75 33,49.15 40.2,50.14 38.1,49.75" fill="#febe3c"/>
<polygon points="160.5,82.24 162.6,82.73 169.8,75.72 167.7,75.31" fill="#2b91ef"/>
<polygon points="188.7,79.92 190.8,80.37 198,72.85 195.9,72.44" fill="#259be8"/>
<polygon points="99.9,72.34 102,73.8 109.2,71.29 107.1,70.17" fill="#02bac3"/>
<polygon points="132.3,81.25 134.4,82.18 141.6,76.41 139.5,75.67" fill="#2797eb"/>
<polygon points="65.4,57.59 67.5,58.46 74.7,58.88 72.6,58.1" fill="#9dc943"/>
<polygon points="33,49.15 35.1,49.6 42.3,50.58 40.2,50.14" fill="#febe3c"/>
<polygon points="162.6,82.73 164.7,83.22 171.9,76.15 169.8,75.72" fill="#2b91ef"/>
<polygon points="102,73.8 104.1,75.17 111.3,72.34 109.2,71.29" fill="#01b8ca"/>
<polygon points="134.4,82.18 136.5,83.12 143.7,77.17 141.6,76.41" fill="#2797eb"/>
<polygon points="67.5,58.46 69.6,59.42 76.8,59.73 74.7,58.88" fill="#9dc943"/>
<polygon points="35.1,49.6 37.2,50.11 44.4,51.07 42.3,50.58" fill="#febe3c"/>
<polygon points="104.1,75.17 106.2,76.4 113.4,73.25 111.3,72.34" fill="#08b5d0"/>
<polygon points="164.7,83.22 166.8,83.73 174,76.6 171.9,76.15" fill="#2b91ef"/>
<polygon points="136.5,83.12 138.6,84.05 145.8,77.93 143.7,77.17" fill="#2b91ef"/>
<polygon points="69.6,59.42 71.7,60.46 78.9,60.65 76.8,59.73" fill="#8fcb4e"/>
<polygon points="37.2,50.11 39.3,50.66 46.5,51.59 44.4,51.07" fill="#f8ba3d"/>
<polygon points="106.2,76.4 108.3,77.6 115.5,74.12 113.4,73.25" fill="#12b1d6"/>
<polygon points="166.8,83.73 168.9,84.24 176.1,77.06 174,76.6" fill="#2b91ef"/>
<polygon points="71.7,60.46 73.8,61.55 81,61.61 78.9,60.65" fill="#81cc59"/>
<polygon points="138.6,84.05 140.7,84.96 147.9,78.68 145.8,77.93" fill="#2d8cf3"/>
<polygon points="39.3,50.66 41.4,51.26 48.6,52.16 46.5,51.59" fill="#f8ba3d"/>
<polygon points="108.3,77.6 110.4,78.79 117.6,75 115.5,74.12" fill="#18addb"/>
<polygon points="168.9,84.24 171,84.76 178.2,77.53 176.1,77.06" fill="#2d8cf3"/>
<polygon points="73.8,61.55 75.9,62.69 83.1,62.58 81,61.61" fill="#81cc59"/>
<polygon points="140.7,84.96 142.8,85.82 150,79.4 147.9,78.68" fill="#2d8cf3"/>
<polygon points="110.4,78.79 112.5,79.98 119.7,75.88 117.6,75" fill="#1ca9df"/>
<polygon points="41.4,51.26 43.5,51.9 50.7,52.76 48.6,52.16" fill="#f8ba3d"/>
<polygon points="75.9,62.69 78,63.88 85.2,63.58 83.1,62.58" fill="#72cd64"/>
<polygon points="171,84.76 173.1,85.29 180.3,78.01 178.2,77.53" fill="#2d8cf3"/>
<polygon points="142.8,85.82 144.9,86.63 152.1,80.08 150,79.4" fill="#2e87f7"/>
<polygon points="112.5,79.98 114.6,81.18 121.8,76.8 119.7,75.88" fill="#20a5e3"/>
<polygon points="43.5,51.9 45.6,52.57 52.8,53.39 50.7,52.76" fill="#f0ba36"/>
<polygon points="78,63.88 80.1,65.1 87.3,64.61 85.2,63.58" fill="#64cd6f"/>
<polygon points="173.1,85.29 175.2,85.83 182.4,78.5 180.3,78.01" fill="#2d8cf3"/>
<polygon points="144.9,86.63 147,87.36 154.2,80.7 152.1,80.08" fill="#2e87f7"/>
<polygon points="114.6,81.18 116.7,82.37 123.9,77.72 121.8,76.8" fill="#23a0e5"/>
<polygon points="45.6,52.57 47.7,53.26 54.9,54.05 52.8,53.39" fill="#f0ba36"/>
<polygon points="80.1,65.1 82.2,66.35 89.4,65.65 87.3,64.61" fill="#57cc7a"/>
<polygon points="175.2,85.83 177.3,86.36 184.5,78.98 182.4,78.5" fill="#2d8cf3"/>
<polygon points="147,87.36 149.1,88.01 156.3,81.24 154.2,80.7" fill="#2f81fa"/>
<polygon points="116.7,82.37 118.8,83.53 126,78.62 123.9,77.72" fill="#259be8"/>
<polygon points="82.2,66.35 84.3,67.68 91.5,66.75 89.4,65.65" fill="#4acb84"/>
<polygon points="47.7,53.26 49.8,53.98 57,54.72 54.9,54.05" fill="#f0ba36"/>
<polygon points="149.1,88.01 151.2,88.61 158.4,81.75 156.3,81.24" fill="#2f81fa"/>
<polygon points="177.3,86.36 179.4,86.88 186.6,79.45 184.5,78.98" fill="#2e87f7"/>
<polygon points="118.8,83.53 120.9,84.65 128.1,79.5 126,78.62" fill="#2797eb"/>
<polygon points="84.3,67.68 86.4,69.21 93.6,68.01 91.5,66.75" fill="#3fca8e"/>
<polygon points="49.8,53.98 51.9,54.71 59.1,55.41 57,54.72" fill="#e6bb2d"/>
<polygon points="120.9,84.65 123,85.73 130.2,80.36 128.1,79.5" fill="#2b91ef"/>
<polygon points="151.2,88.61 153.3,89.18 160.5,82.24 158.4,81.75" fill="#327cfc"/>
<polygon points="179.4,86.88 181.5,87.39 188.7,79.92 186.6,79.45" fill="#2e87f7"/>
<polygon points="86.4,69.21 88.5,70.9 95.7,69.4 93.6,68.01" fill="#37c897"/>
<polygon points="51.9,54.71 54,55.46 61.2,56.1 59.1,55.41" fill="#e6bb2d"/>
<polygon points="88.5,70.9 90.6,72.69 97.8,70.86 95.7,69.4" fill="#2cc4a7"/>
<polygon points="123,85.73 125.1,86.83 132.3,81.25 130.2,80.36" fill="#2b91ef"/>
<polygon points="153.3,89.18 155.4,89.74 162.6,82.73 160.5,82.24" fill="#327cfc"/>
<polygon points="181.5,87.39 183.6,87.9 190.8,80.37 188.7,79.92" fill="#2e87f7"/>
<polygon points="54,55.46 56.1,56.22 63.3,56.81 61.2,56.1" fill="#dcbd29"/>
<polygon points="90.6,72.69 92.7,74.51 99.9,72.34 97.8,70.86" fill="#24c1ae"/>
<polygon points="125.1,86.83 127.2,87.95 134.4,82.18 132.3,81.25" fill="#2d8cf3"/>
<polygon points="155.4,89.74 157.5,90.29 164.7,83.22 162.6,82.73" fill="#327cfc"/>
<polygon points="56.1,56.22 58.2,57.08 65.4,57.59 63.3,56.81" fill="#dcbd29"/>
<polygon points="92.7,74.51 94.8,76.3 102,73.8 99.9,72.34" fill="#0bbdbd"/>
<polygon points="127.2,87.95 129.3,89.08 136.5,83.12 134.4,82.18" fill="#2e87f7"/>
<polygon points="157.5,90.29 159.6,90.85 166.8,83.73 164.7,83.22" fill="#327cfc"/>
<polygon points="94.8,76.3 96.9,78 104.1,75.17 102,73.8" fill="#01b8ca"/>
<polygon points="58.2,57.08 60.3,58.05 67.5,58.46 65.4,57.59" fill="#d1bf27"/>
<polygon points="129.3,89.08 131.4,90.18 138.6,84.05 136.5,83.12" fill="#2f81fa"/>
<polygon points="96.9,78 99,79.55 106.2,76.4 104.1,75.17" fill="#08b5d0"/>
<polygon points="159.6,90.85 161.7,91.41 168.9,84.24 166.8,83.73" fill="#3875fe"/>
<polygon points="60.3,58.05 62.4,59.11 69.6,59.42 67.5,58.46" fill="#d1bf27"/>
<polygon points="131.4,90.18 133.5,91.24 140.7,84.96 138.6,84.05" fill="#327cfc"/>
<polygon points="99,79.55 101.1,81.07 108.3,77.6 106.2,76.4" fill="#12b1d6"/>
<polygon points="161.7,91.41 163.8,91.98 171,84.76 168.9,84.24" fill="#3875fe"/>
<polygon points="62.4,59.11 64.5,60.26 71.7,60.46 69.6,59.42" fill="#c5c22a"/>
<polygon points="133.5,91.24 135.6,92.24 142.8,85.82 140.7,84.96" fill="#3875fe"/>
<polygon points="101.1,81.07 103.2,82.58 110.4,78.79 108.3,77.6" fill="#1ca9df"/>
<polygon points="64.5,60.26 66.6,61.5 73.8,61.55 71.7,60.46" fill="#b9c431"/>
<polygon points="163.8,91.98 165.9,92.57 173.1,85.29 171,84.76" fill="#3875fe"/>
<polygon points="135.6,92.24 137.7,93.18 144.9,86.63 142.8,85.82" fill="#3875fe"/>
<polygon points="103.2,82.58 105.3,84.08 112.5,79.98 110.4,78.79" fill="#20a5e3"/>
<polygon points="66.6,61.5 68.7,62.8 75.9,62.69 73.8,61.55" fill="#abc739"/>
<polygon points="165.9,92.57 168,93.16 175.2,85.83 173.1,85.29" fill="#3875fe"/>
<polygon points="105.3,84.08 107.4,85.56 114.6,81.18 112.5,79.98" fill="#23a0e5"/>
<polygon points="137.7,93.18 139.8,94.02 147,87.36 144.9,86.63" fill="#3e6fff"/>
<polygon points="68.7,62.8 70.8,64.17 78,63.88 75.9,62.69" fill="#9dc943"/>
<polygon points="107.4,85.56 109.5,87.02 116.7,82.37 114.6,81.18" fill="#259be8"/>
<polygon points="168,93.16 170.1,93.73 177.3,86.36 175.2,85.83" fill="#3e6fff"/>
<polygon points="139.8,94.02 141.9,94.77 149.1,88.01 147,87.36" fill="#4269fe"/>
<polygon points="70.8,64.17 72.9,65.59 80.1,65.1 78,63.88" fill="#8fcb4e"/>
<polygon points="109.5,87.02 111.6,88.43 118.8,83.53 116.7,82.37" fill="#2797eb"/>
<polygon points="170.1,93.73 172.2,94.31 179.4,86.88 177.3,86.36" fill="#3e6fff"/>
<polygon points="141.9,94.77 144,95.46 151.2,88.61 149.1,88.01" fill="#4269fe"/>
<polygon points="72.9,65.59 75,67.05 82.2,66.35 80.1,65.1" fill="#81cc59"/>
<polygon points="111.6,88.43 113.7,89.79 120.9,84.65 118.8,83.53" fill="#2d8cf3"/>
<polygon points="172.2,94.31 174.3,94.87 181.5,87.39 179.4,86.88" fill="#3e6fff"/>
<polygon points="75,67.05 77.1,68.6 84.3,67.68 82.2,66.35" fill="#64cd6f"/>
<polygon points="144,95.46 146.1,96.12 153.3,89.18 151.2,88.61" fill="#4269fe"/>
<polygon points="113.7,89.79 115.8,91.11 123,85.73 120.9,84.65" fill="#2e87f7"/>
<polygon points="77.1,68.6 79.2,70.4 86.4,69.21 84.3,67.68" fill="#57cc7a"/>
<polygon points="174.3,94.87 176.4,95.42 183.6,87.9 181.5,87.39" fill="#4269fe"/>
<polygon points="146.1,96.12 148.2,96.75 155.4,89.74 153.3,89.18" fill="#4563fd"/>
<polygon points="115.8,91.11 117.9,92.41 125.1,86.83 123,85.73" fill="#2f81fa"/>
<polygon points="79.2,70.4 81.3,72.4 88.5,70.9 86.4,69.21" fill="#4acb84"/>
<polygon points="148.2,96.75 150.3,97.36 157.5,90.29 155.4,89.74" fill="#4563fd"/>
<polygon points="117.9,92.41 120,93.73 127.2,87.95 125.1,86.83" fill="#327cfc"/>
<polygon points="81.3,72.4 83.4,74.51 90.6,72.69 88.5,70.9" fill="#37c897"/>
<polygon points="83.4,74.51 85.5,76.68 92.7,74.51 90.6,72.69" fill="#2cc4a7"/>
<polygon points="120,93.73 122.1,95.03 129.3,89.08 127.2,87.95" fill="#3875fe"/>
<polygon points="150.3,97.36 152.4,97.98 159.6,90.85 157.5,90.29" fill="#4563fd"/>
<polygon points="85.5,76.68 87.6,78.81 94.8,76.3 92.7,74.51" fill="#19bfb6"/>
<polygon points="122.1,95.03 124.2,96.3 131.4,90.18 129.3,89.08" fill="#3e6fff"/>
<polygon points="152.4,97.98 154.5,98.59 161.7,91.41 159.6,90.85" fill="#465efb"/>
<polygon points="87.6,78.81 89.7,80.82 96.9,78 94.8,76.3" fill="#02bac3"/>
<polygon points="124.2,96.3 126.3,97.52 133.5,91.24 131.4,90.18" fill="#4269fe"/>
<polygon points="89.7,80.82 91.8,82.7 99,79.55 96.9,78" fill="#08b5d0"/>
<polygon points="154.5,98.59 156.6,99.21 163.8,91.98 161.7,91.41" fill="#465efb"/>
<polygon points="126.3,97.52 128.4,98.67 135.6,92.24 133.5,91.24" fill="#4563fd"/>
<polygon points="91.8,82.7 93.9,84.54 101.1,81.07 99,79.55" fill="#12b1d6"/>
<polygon points="156.6,99.21 158.7,99.85 165.9,92.57 163.8,91.98" fill="#465efb"/>
<polygon points="93.9,84.54 96,86.37 103.2,82.58 101.1,81.07" fill="#1ca9df"/>
<polygon points="128.4,98.67 130.5,99.73 137.7,93.18 135.6,92.24" fill="#465efb"/>
<polygon points="158.7,99.85 160.8,100.48 168,93.16 165.9,92.57" fill="#4758f8"/>
<polygon points="96,86.37 98.1,88.18 105.3,84.08 103.2,82.58" fill="#20a5e3"/>
<polygon points="130.5,99.73 132.6,100.69 139.8,94.02 137.7,93.18" fill="#465efb"/>
<polygon points="98.1,88.18 100.2,89.94 107.4,85.56 105.3,84.08" fill="#259be8"/>
<polygon points="160.8,100.48 162.9,101.11 170.1,93.73 168,93.16" fill="#4758f8"/>
<polygon points="132.6,100.69 134.7,101.54 141.9,94.77 139.8,94.02" fill="#4758f8"/>
<polygon points="100.2,89.94 102.3,91.67 109.5,87.02 107.4,85.56" fill="#2b91ef"/>
<polygon points="162.9,101.11 165,101.73 172.2,94.31 170.1,93.73" fill="#4758f8"/>
<polygon points="134.7,101.54 136.8,102.32 144,95.46 141.9,94.77" fill="#4852f4"/>
<polygon points="102.3,91.67 104.4,93.33 111.6,88.43 109.5,87.02" fill="#2d8cf3"/>
<polygon points="165,101.73 167.1,102.35 174.3,94.87 172.2,94.31" fill="#4852f4"/>
<polygon points="104.4,93.33 106.5,94.94 113.7,89.79 111.6,88.43" fill="#2e87f7"/>
<polygon points="136.8,102.32 138.9,103.06 146.1,96.12 144,95.46" fill="#4852f4"/>
<polygon points="167.1,102.35 169.2,102.95 176.4,95.42 174.3,94.87" fill="#4852f4"/>
<polygon points="106.5,94.94 108.6,96.48 115.8,91.11 113.7,89.79" fill="#327cfc"/>
<polygon points="138.9,103.06 141,103.76 148.2,96.75 146.1,96.12" fill="#484df0"/>
<polygon points="108.6,96.48 110.7,97.99 117.9,92.41 115.8,91.11" fill="#3875fe"/>
<polygon points="141,103.76 143.1,104.44 150.3,97.36 148.2,96.75" fill="#484df0"/>
<polygon points="110.7,97.99 112.8,99.5 120,93.73 117.9,92.41" fill="#3e6fff"/>
<polygon points="143.1,104.44 145.2,105.1 152.4,97.98 150.3,97.36" fill="#484df0"/>
<polygon points="112.8,99.5 114.9,100.98 122.1,95.03 120,93.73" fill="#4563fd"/>
<polygon points="145.2,105.1 147.3,105.77 154.5,98.59 152.4,97.98" fill="#4747eb"/>
<polygon points="114.9,100.98 117,102.42 124.2,96.3 122.1,95.03" fill="#465efb"/>
<polygon points="117,102.42 119.1,103.8 126.3,97.52 124.2,96.3" fill="#4758f8"/>
<polygon points="147.3,105.77 149.4,106.44 156.6,99.21 154.5,98.59" fill="#4747eb"/>
<polygon points="119.1,103.8 121.2,105.09 128.4,98.67 126.3,97.52" fill="#4852f4"/>
<polygon points="149.4,106.44 151.5,107.13 158.7,99.85 156.6,99.21" fill="#4741e5"/>
<polygon points="121.2,105.09 123.3,106.28 130.5,99.73 128.4,98.67" fill="#484df0"/>
<polygon points="151.5,107.13 153.6,107.81 160.8,100.48 158.7,99.85" fill="#4741e5"/>
<polygon points="123.3,106.28 125.4,107.35 132.6,100.69 130.5,99.73" fill="#4747eb"/>
<polygon points="153.6,107.81 155.7,108.49 162.9,101.11 160.8,100.48" fill="#4741e5"/>
<polygon points="125.4,107.35 127.5,108.3 134.7,101.54 132.6,100.69" fill="#4741e5"/>
<polygon points="155.7,108.49 157.8,109.16 165,101.73 162.9,101.11" fill="#463cde"/>
<polygon points="127.5,108.3 129.6,109.18 136.8,102.32 134.7,101.54" fill="#463cde"/>
<polygon points="157.8,109.16 159.9,109.82 167.1,102.35 165,101.73" fill="#463cde"/>
<polygon points="129.6,109.18 131.7,109.99 138.9,103.06 136.8,102.32" fill="#463cde"/>
<polygon points="159.9,109.82 162,110.47 169.2,102.95 167.1,102.35" fill="#4537d5"/>
<polygon points="131.7,109.99 133.8,110.77 141,103.76 138.9,103.06" fill="#4537d5"/>
<polygon points="133.8,110.77 135.9,111.51 143.1,104.44 141,103.76" fill="#4537d5"/>
<polygon points="135.9,111.51 138,112.23 145.2,105.1 143.1,104.44" fill="#4332cb"/>
<polygon points="138,112.23 140.1,112.94 147.3,105.77 145.2,105.1" fill="#4332cb"/>
<polygon points="140.1,112.94 142.2,113.67 149.4,106.44 147.3,105.77" fill="#4332cb"/>
<polygon points="142.2,113.67 144.3,114.41 151.5,107.13 149.4,106.44" fill="#422ec0"/>
<polygon points="144.3,114.41 146.4,115.14 153.6,107.81 151.5,107.13" fill="#422ec0"/>
<polygon points="146.4,115.14 148.5,115.87 155.7,108.49 153.6,107.81" fill="#402ab4"/>
<polygon points="148.5,115.87 150.6,116.59 157.8,109.16 155.7,108.49" fill="#402ab4"/>
<polygon points="150.6,116.59 152.7,117.3 159.9,109.82 157.8,109.16" fill="#3e26a8"/>
<polygon points="152.7,117.3 154.8,118 162,110.47 159.9,109.82" fill="#3e26a8"/>
</g>
<line x1="309.6" y1="100.2" x2="380.8" y2="68.7" stroke="#ebebeb" stroke-width="0.6"/>
<line x1="350.17" y1="106.33" x2="421.37" y2="74.83" stroke="#ebebeb" stroke-width="0.6"/>
<line x1="390.73" y1="112.47" x2="461.93" y2="80.97" stroke="#ebebeb" stroke-width="0.6"/>
<line x1="431.3" y1="118.6" x2="502.5" y2="87.1" stroke="#ebebeb" stroke-width="0.6"/>
<line x1="309.6" y1="100.2" x2="431.3" y2="118.6" stroke="#ebebeb" stroke-width="0.6"/>
<line x1="323.84" y1="93.9" x2="445.54" y2="112.3" stroke="#ebebeb" stroke-width="0.6"/>
<line x1="338.08" y1="87.6" x2="459.78" y2="106" stroke="#ebebeb" stroke-width="0.6"/>
<line x1="352.32" y1="81.3" x2="474.02" y2="99.7" stroke="#ebebeb" stroke-width="0.6"/>
<line x1="366.56" y1="75" x2="488.26" y2="93.4" stroke="#ebebeb" stroke-width="0.6"/>
<line x1="380.8" y1="68.7" x2="502.5" y2="87.1" stroke="#ebebeb" stroke-width="0.6"/>
<line x1="309.6" y1="100.2" x2="309.6" y2="37.6" stroke="#ebebeb" stroke-width="0.6"/>
<line x1="323.84" y1="93.9" x2="323.84" y2="31.3" stroke="#ebebeb" stroke-width="0.6"/>
<line x1="338.08" y1="87.6" x2="338.08" y2="25" stroke="#ebebeb" stroke-width="0.6"/>
<line x1="352.32" y1="81.3" x2="352.32" y2="18.7" stroke="#ebebeb" stroke-width="0.6"/>
<line x1="366.56" y1="75" x2="366.56" y2="12.4" stroke="#ebebeb" stroke-width="0.6"/>
<line x1="380.8" y1="68.7" x2="380.8" y2="6.1" stroke="#ebebeb" stroke-width="0.6"/>
<line x1="309.6" y1="100.2" x2="380.8" y2="68.7" stroke="#ebebeb" stroke-width="0.6"/>
<line x1="309.6" y1="79.33" x2="380.8" y2="47.83" stroke="#ebebeb" stroke-width="0.6"/>
<line x1="309.6" y1="58.47" x2="380.8" y2="26.97" stroke="#ebebeb" stroke-width="0.6"/>
<line x1="309.6" y1="37.6" x2="380.8" y2="6.1" stroke="#ebebeb" stroke-width="0.6"/>
<line x1="380.8" y1="68.7" x2="380.8" y2="6.1" stroke="#ebebeb" stroke-width="0.6"/>
<line x1="421.37" y1="74.83" x2="421.37" y2="12.23" stroke="#ebebeb" stroke-width="0.6"/>
<line x1="461.93" y1="80.97" x2="461.93" y2="18.37" stroke="#ebebeb" stroke-width="0.6"/>
<line x1="502.5" y1="87.1" x2="502.5" y2="24.5" stroke="#ebebeb" stroke-width="0.6"/>
<line x1="380.8" y1="68.7" x2="502.5" y2="87.1" stroke="#ebebeb" stroke-width="0.6"/>
<line x1="380.8" y1="47.83" x2="502.5" y2="66.23" stroke="#ebebeb" stroke-width="0.6"/>
<line x1="380.8" y1="26.97" x2="502.5" y2="45.37" stroke="#ebebeb" stroke-width="0.6"/>
<line x1="380.8" y1="6.1" x2="502.5" y2="24.5" stroke="#ebebeb" stroke-width="0.6"/>
<line x1="309.6" y1="100.2" x2="431.3" y2="118.6" stroke="#9a9a9a" stroke-width="0.6"/>
<line x1="431.3" y1="118.6" x2="502.5" y2="87.1" stroke="#9a9a9a" stroke-width="0.6"/>
<line x1="309.6" y1="100.2" x2="309.6" y2="37.6" stroke="#9a9a9a" stroke-width="0.6"/>
<line x1="309.6" y1="100.2" x2="311.89" y2="99.19" stroke="#9a9a9a" stroke-width="0.6"/>
<line x1="350.17" y1="106.33" x2="352.45" y2="105.32" stroke="#9a9a9a" stroke-width="0.6"/>
<line x1="390.73" y1="112.47" x2="393.02" y2="111.46" stroke="#9a9a9a" stroke-width="0.6"/>
<line x1="431.3" y1="118.6" x2="433.59" y2="117.59" stroke="#9a9a9a" stroke-width="0.6"/>
<line x1="431.3" y1="118.6" x2="428.83" y2="118.23" stroke="#9a9a9a" stroke-width="0.6"/>
<line x1="445.54" y1="112.3" x2="443.07" y2="111.93" stroke="#9a9a9a" stroke-width="0.6"/>
<line x1="459.78" y1="106" x2="457.31" y2="105.63" stroke="#9a9a9a" stroke-width="0.6"/>
<line x1="474.02" y1="99.7" x2="471.55" y2="99.33" stroke="#9a9a9a" stroke-width="0.6"/>
<line x1="488.26" y1="93.4" x2="485.79" y2="93.03" stroke="#9a9a9a" stroke-width="0.6"/>
<line x1="502.5" y1="87.1" x2="500.03" y2="86.73" stroke="#9a9a9a" stroke-width="0.6"/>
<line x1="309.6" y1="100.2" x2="307.1" y2="100.2" stroke="#9a9a9a" stroke-width="0.6"/>
<line x1="309.6" y1="79.33" x2="307.1" y2="79.33" stroke="#9a9a9a" stroke-width="0.6"/>
<line x1="309.6" y1="58.47" x2="307.1" y2="58.47" stroke="#9a9a9a" stroke-width="0.6"/>
<line x1="309.6" y1="37.6" x2="307.1" y2="37.6" stroke="#9a9a9a" stroke-width="0.6"/>
<g stroke="#000" stroke-width="0.3" stroke-opacity="0.85" stroke-linejoin="round">
<polygon points="373.68,22.01 375.71,24.32 382.83,21.02 380.8,18.7" fill="#e6bb2d"/>
<polygon points="375.71,24.32 377.74,26.62 384.86,23.33 382.83,21.02" fill="#d1bf27"/>
<polygon points="377.74,26.62 379.76,28.92 386.88,25.63 384.86,23.33" fill="#b9c431"/>
<polygon points="379.76,28.92 381.79,31.21 388.91,27.93 386.88,25.63" fill="#9dc943"/>
<polygon points="381.79,31.21 383.82,33.49 390.94,30.22 388.91,27.93" fill="#81cc59"/>
<polygon points="383.82,33.49 385.85,35.76 392.97,32.49 390.94,30.22" fill="#64cd6f"/>
<polygon points="385.85,35.76 387.88,38.02 395,34.76 392.97,32.49" fill="#4acb84"/>
<polygon points="387.88,38.02 389.91,40.27 397.03,37.01 395,34.76" fill="#37c897"/>
<polygon points="389.91,40.27 391.94,42.5 399.06,39.26 397.03,37.01" fill="#2cc4a7"/>
<polygon points="391.94,42.5 393.96,44.71 401.08,41.48 399.06,39.26" fill="#19bfb6"/>
<polygon points="393.96,44.71 395.99,46.91 403.11,43.69 401.08,41.48" fill="#02bac3"/>
<polygon points="395.99,46.91 398.02,49.1 405.14,45.89 403.11,43.69" fill="#08b5d0"/>
<polygon points="398.02,49.1 400.05,51.26 407.17,48.06 405.14,45.89" fill="#12b1d6"/>
<polygon points="400.05,51.26 402.08,53.39 409.2,50.21 407.17,48.06" fill="#1ca9df"/>
<polygon points="402.08,53.39 404.11,55.5 411.23,52.34 409.2,50.21" fill="#23a0e5"/>
<polygon points="404.11,55.5 406.13,57.58 413.25,54.43 411.23,52.34" fill="#2797eb"/>
<polygon points="406.13,57.58 408.16,59.63 415.28,56.49 413.25,54.43" fill="#2d8cf3"/>
<polygon points="408.16,59.63 410.19,61.63 417.31,58.52 415.28,56.49" fill="#2f81fa"/>
<polygon points="410.19,61.63 412.22,63.59 419.34,60.5 417.31,58.52" fill="#327cfc"/>
<polygon points="366.56,25.31 368.59,27.62 375.71,24.32 373.68,22.01" fill="#e6bb2d"/>
<polygon points="412.22,63.59 414.25,65.51 421.37,62.43 419.34,60.5" fill="#3e6fff"/>
<polygon points="368.59,27.62 370.62,29.92 377.74,26.62 375.71,24.32" fill="#d1bf27"/>
<polygon points="414.25,65.51 416.27,67.36 423.39,64.31 421.37,62.43" fill="#4563fd"/>
<polygon points="370.62,29.92 372.64,32.21 379.76,28.92 377.74,26.62" fill="#b9c431"/>
<polygon points="372.64,32.21 374.67,34.49 381.79,31.21 379.76,28.92" fill="#9dc943"/>
<polygon points="416.27,67.36 418.3,69.15 425.42,66.12 423.39,64.31" fill="#465efb"/>
<polygon points="374.67,34.49 376.7,36.77 383.82,33.49 381.79,31.21" fill="#81cc59"/>
<polygon points="418.3,69.15 420.33,70.86 427.45,67.85 425.42,66.12" fill="#4852f4"/>
<polygon points="376.7,36.77 378.73,39.03 385.85,35.76 383.82,33.49" fill="#64cd6f"/>
<polygon points="420.33,70.86 422.36,72.48 429.48,69.5 427.45,67.85" fill="#484df0"/>
<polygon points="378.73,39.03 380.76,41.28 387.88,38.02 385.85,35.76" fill="#4acb84"/>
<polygon points="422.36,72.48 424.39,74 431.51,71.04 429.48,69.5" fill="#4741e5"/>
<polygon points="380.76,41.28 382.79,43.52 389.91,40.27 387.88,38.02" fill="#37c897"/>
<polygon points="382.79,43.52 384.81,45.74 391.94,42.5 389.91,40.27" fill="#2cc4a7"/>
<polygon points="424.39,74 426.42,75.41 433.54,72.47 431.51,71.04" fill="#463cde"/>
<polygon points="384.81,45.74 386.84,47.95 393.96,44.71 391.94,42.5" fill="#19bfb6"/>
<polygon points="426.42,75.41 428.44,76.68 435.56,73.77 433.54,72.47" fill="#4537d5"/>
<polygon points="386.84,47.95 388.87,50.13 395.99,46.91 393.96,44.71" fill="#02bac3"/>
<polygon points="388.87,50.13 390.9,52.3 398.02,49.1 395.99,46.91" fill="#08b5d0"/>
<polygon points="428.44,76.68 430.47,77.81 437.59,74.91 435.56,73.77" fill="#4332cb"/>
<polygon points="390.9,52.3 392.93,54.45 400.05,51.26 398.02,49.1" fill="#18addb"/>
<polygon points="430.47,77.81 432.5,78.77 439.62,75.89 437.59,74.91" fill="#422ec0"/>
<polygon points="392.93,54.45 394.96,56.57 402.08,53.39 400.05,51.26" fill="#1ca9df"/>
<polygon points="432.5,78.77 434.53,79.55 441.65,76.68 439.62,75.89" fill="#422ec0"/>
<polygon points="394.96,56.57 396.99,58.67 404.11,55.5 402.08,53.39" fill="#23a0e5"/>
<polygon points="396.99,58.67 399.01,60.73 406.13,57.58 404.11,55.5" fill="#2797eb"/>
<polygon points="434.53,79.55 436.56,80.14 443.68,77.28 441.65,76.68" fill="#402ab4"/>
<polygon points="399.01,60.73 401.04,62.76 408.16,59.63 406.13,57.58" fill="#2d8cf3"/>
<polygon points="401.04,62.76 403.07,64.75 410.19,61.63 408.16,59.63" fill="#2f81fa"/>
<polygon points="436.56,80.14 438.59,80.52 445.71,77.66 443.68,77.28" fill="#402ab4"/>
<polygon points="403.07,64.75 405.1,66.69 412.22,63.59 410.19,61.63" fill="#327cfc"/>
<polygon points="359.44,28.62 361.47,30.92 368.59,27.62 366.56,25.31" fill="#e6bb2d"/>
<polygon points="438.59,80.52 440.62,80.69 447.74,77.83 445.71,77.66" fill="#402ab4"/>
<polygon points="405.1,66.69 407.13,68.58 414.25,65.51 412.22,63.59" fill="#3e6fff"/>
<polygon points="361.47,30.92 363.5,33.22 370.62,29.92 368.59,27.62" fill="#d1bf27"/>
<polygon points="363.5,33.22 365.52,35.5 372.64,32.21 370.62,29.92" fill="#b9c431"/>
<polygon points="407.13,68.58 409.15,70.41 416.27,67.36 414.25,65.51" fill="#4563fd"/>
<polygon points="440.62,80.69 442.64,80.65 449.76,77.78 447.74,77.83" fill="#402ab4"/>
<polygon points="365.52,35.5 367.55,37.78 374.67,34.49 372.64,32.21" fill="#9dc943"/>
<polygon points="409.15,70.41 411.18,72.18 418.3,69.15 416.27,67.36" fill="#465efb"/>
<polygon points="367.55,37.78 369.58,40.04 376.7,36.77 374.67,34.49" fill="#81cc59"/>
<polygon points="411.18,72.18 413.21,73.86 420.33,70.86 418.3,69.15" fill="#4852f4"/>
<polygon points="442.64,80.65 444.67,80.41 451.79,77.52 449.76,77.78" fill="#402ab4"/>
<polygon points="369.58,40.04 371.61,42.3 378.73,39.03 376.7,36.77" fill="#64cd6f"/>
<polygon points="413.21,73.86 415.24,75.46 422.36,72.48 420.33,70.86" fill="#484df0"/>
<polygon points="371.61,42.3 373.64,44.54 380.76,41.28 378.73,39.03" fill="#4acb84"/>
<polygon points="444.67,80.41 446.7,79.97 453.82,77.07 451.79,77.52" fill="#422ec0"/>
<polygon points="373.64,44.54 375.67,46.77 382.79,43.52 380.76,41.28" fill="#37c897"/>
<polygon points="415.24,75.46 417.27,76.96 424.39,74 422.36,72.48" fill="#4747eb"/>
<polygon points="375.67,46.77 377.69,48.98 384.81,45.74 382.79,43.52" fill="#2cc4a7"/>
<polygon points="417.27,76.96 419.3,78.34 426.42,75.41 424.39,74" fill="#463cde"/>
<polygon points="446.7,79.97 448.73,79.35 455.85,76.43 453.82,77.07" fill="#422ec0"/>
<polygon points="377.69,48.98 379.72,51.18 386.84,47.95 384.81,45.74" fill="#19bfb6"/>
<polygon points="419.3,78.34 421.32,79.6 428.44,76.68 426.42,75.41" fill="#4537d5"/>
<polygon points="379.72,51.18 381.75,53.35 388.87,50.13 386.84,47.95" fill="#02bac3"/>
<polygon points="381.75,53.35 383.78,55.51 390.9,52.3 388.87,50.13" fill="#08b5d0"/>
<polygon points="448.73,79.35 450.76,78.56 457.88,75.62 455.85,76.43" fill="#4332cb"/>
<polygon points="421.32,79.6 423.35,80.7 430.47,77.81 428.44,76.68" fill="#4332cb"/>
<polygon points="383.78,55.51 385.81,57.65 392.93,54.45 390.9,52.3" fill="#18addb"/>
<polygon points="423.35,80.7 425.38,81.65 432.5,78.77 430.47,77.81" fill="#422ec0"/>
<polygon points="385.81,57.65 387.84,59.75 394.96,56.57 392.93,54.45" fill="#1ca9df"/>
<polygon points="450.76,78.56 452.79,77.63 459.91,74.66 457.88,75.62" fill="#463cde"/>
<polygon points="387.84,59.75 389.87,61.83 396.99,58.67 394.96,56.57" fill="#23a0e5"/>
<polygon points="425.38,81.65 427.41,82.42 434.53,79.55 432.5,78.77" fill="#422ec0"/>
<polygon points="389.87,61.83 391.89,63.88 399.01,60.73 396.99,58.67" fill="#2797eb"/>
<polygon points="452.79,77.63 454.81,76.57 461.93,73.56 459.91,74.66" fill="#4741e5"/>
<polygon points="427.41,82.42 429.44,83 436.56,80.14 434.53,79.55" fill="#402ab4"/>
<polygon points="391.89,63.88 393.92,65.89 401.04,62.76 399.01,60.73" fill="#2d8cf3"/>
<polygon points="393.92,65.89 395.95,67.86 403.07,64.75 401.04,62.76" fill="#2f81fa"/>
<polygon points="429.44,83 431.47,83.38 438.59,80.52 436.56,80.14" fill="#402ab4"/>
<polygon points="454.81,76.57 456.84,75.38 463.96,72.36 461.93,73.56" fill="#4747eb"/>
<polygon points="395.95,67.86 397.98,69.78 405.1,66.69 403.07,64.75" fill="#327cfc"/>
<polygon points="352.32,31.92 354.35,34.22 361.47,30.92 359.44,28.62" fill="#e6bb2d"/>
<polygon points="431.47,83.38 433.5,83.55 440.62,80.69 438.59,80.52" fill="#402ab4"/>
<polygon points="397.98,69.78 400.01,71.65 407.13,68.58 405.1,66.69" fill="#3e6fff"/>
<polygon points="354.35,34.22 356.38,36.51 363.5,33.22 361.47,30.92" fill="#d1bf27"/>
<polygon points="356.38,36.51 358.4,38.79 365.52,35.5 363.5,33.22" fill="#b9c431"/>
<polygon points="456.84,75.38 458.87,74.1 465.99,71.05 463.96,72.36" fill="#4852f4"/>
<polygon points="400.01,71.65 402.03,73.46 409.15,70.41 407.13,68.58" fill="#4563fd"/>
<polygon points="433.5,83.55 435.52,83.52 442.64,80.65 440.62,80.69" fill="#402ab4"/>
<polygon points="358.4,38.79 360.43,41.06 367.55,37.78 365.52,35.5" fill="#9dc943"/>
<polygon points="402.03,73.46 404.06,75.2 411.18,72.18 409.15,70.41" fill="#465efb"/>
<polygon points="360.43,41.06 362.46,43.32 369.58,40.04 367.55,37.78" fill="#81cc59"/>
<polygon points="404.06,75.2 406.09,76.87 413.21,73.86 411.18,72.18" fill="#4852f4"/>
<polygon points="458.87,74.1 460.9,72.73 468.02,69.65 465.99,71.05" fill="#4758f8"/>
<polygon points="435.52,83.52 437.55,83.29 444.67,80.41 442.64,80.65" fill="#402ab4"/>
<polygon points="362.46,43.32 364.49,45.57 371.61,42.3 369.58,40.04" fill="#64cd6f"/>
<polygon points="406.09,76.87 408.12,78.44 415.24,75.46 413.21,73.86" fill="#484df0"/>
<polygon points="364.49,45.57 366.52,47.8 373.64,44.54 371.61,42.3" fill="#4acb84"/>
<polygon points="437.55,83.29 439.58,82.87 446.7,79.97 444.67,80.41" fill="#422ec0"/>
<polygon points="366.52,47.8 368.55,50.02 375.67,46.77 373.64,44.54" fill="#37c897"/>
<polygon points="408.12,78.44 410.15,79.92 417.27,76.96 415.24,75.46" fill="#4747eb"/>
<polygon points="460.9,72.73 462.93,71.28 470.05,68.18 468.02,69.65" fill="#4563fd"/>
<polygon points="368.55,50.02 370.57,52.22 377.69,48.98 375.67,46.77" fill="#2cc4a7"/>
<polygon points="410.15,79.92 412.18,81.28 419.3,78.34 417.27,76.96" fill="#4741e5"/>
<polygon points="370.57,52.22 372.6,54.41 379.72,51.18 377.69,48.98" fill="#19bfb6"/>
<polygon points="439.58,82.87 441.61,82.27 448.73,79.35 446.7,79.97" fill="#4332cb"/>
<polygon points="462.93,71.28 464.95,69.76 472.07,66.64 470.05,68.18" fill="#3e6fff"/>
<polygon points="412.18,81.28 414.2,82.51 421.32,79.6 419.3,78.34" fill="#4537d5"/>
<polygon points="372.6,54.41 374.63,56.58 381.75,53.35 379.72,51.18" fill="#02bac3"/>
<polygon points="374.63,56.58 376.66,58.72 383.78,55.51 381.75,53.35" fill="#08b5d0"/>
<polygon points="441.61,82.27 443.64,81.51 450.76,78.56 448.73,79.35" fill="#4537d5"/>
<polygon points="414.2,82.51 416.23,83.6 423.35,80.7 421.32,79.6" fill="#4537d5"/>
<polygon points="376.66,58.72 378.69,60.84 385.81,57.65 383.78,55.51" fill="#18addb"/>
<polygon points="464.95,69.76 466.98,68.19 474.1,65.04 472.07,66.64" fill="#327cfc"/>
<polygon points="416.23,83.6 418.26,84.53 425.38,81.65 423.35,80.7" fill="#4332cb"/>
<polygon points="378.69,60.84 380.72,62.93 387.84,59.75 385.81,57.65" fill="#20a5e3"/>
<polygon points="443.64,81.51 445.67,80.61 452.79,77.63 450.76,78.56" fill="#463cde"/>
<polygon points="380.72,62.93 382.75,65 389.87,61.83 387.84,59.75" fill="#23a0e5"/>
<polygon points="418.26,84.53 420.29,85.29 427.41,82.42 425.38,81.65" fill="#422ec0"/>
<polygon points="466.98,68.19 469.01,66.56 476.13,63.4 474.1,65.04" fill="#2e87f7"/>
<polygon points="382.75,65 384.77,67.03 391.89,63.88 389.87,61.83" fill="#2797eb"/>
<polygon points="445.67,80.61 447.69,79.57 454.81,76.57 452.79,77.63" fill="#4741e5"/>
<polygon points="420.29,85.29 422.32,85.86 429.44,83 427.41,82.42" fill="#422ec0"/>
<polygon points="384.77,67.03 386.8,69.02 393.92,65.89 391.89,63.88" fill="#2d8cf3"/>
<polygon points="386.8,69.02 388.83,70.97 395.95,67.86 393.92,65.89" fill="#2f81fa"/>
<polygon points="469.01,66.56 471.04,64.89 478.16,61.71 476.13,63.4" fill="#2b91ef"/>
<polygon points="422.32,85.86 424.35,86.24 431.47,83.38 429.44,83" fill="#402ab4"/>
<polygon points="447.69,79.57 449.72,78.41 456.84,75.38 454.81,76.57" fill="#4747eb"/>
<polygon points="388.83,70.97 390.86,72.88 397.98,69.78 395.95,67.86" fill="#327cfc"/>
<polygon points="345.2,35.23 347.23,37.52 354.35,34.22 352.32,31.92" fill="#e6bb2d"/>
<polygon points="347.23,37.52 349.26,39.81 356.38,36.51 354.35,34.22" fill="#d1bf27"/>
<polygon points="424.35,86.24 426.38,86.41 433.5,83.55 431.47,83.38" fill="#402ab4"/>
<polygon points="390.86,72.88 392.89,74.73 400.01,71.65 397.98,69.78" fill="#3e6fff"/>
<polygon points="471.04,64.89 473.07,63.18 480.19,59.98 478.16,61.71" fill="#259be8"/>
<polygon points="349.26,39.81 351.28,42.08 358.4,38.79 356.38,36.51" fill="#b9c431"/>
<polygon points="449.72,78.41 451.75,77.15 458.87,74.1 456.84,75.38" fill="#4852f4"/>
<polygon points="392.89,74.73 394.91,76.51 402.03,73.46 400.01,71.65" fill="#4563fd"/>
<polygon points="426.38,86.41 428.4,86.39 435.52,83.52 433.5,83.55" fill="#402ab4"/>
<polygon points="351.28,42.08 353.31,44.34 360.43,41.06 358.4,38.79" fill="#9dc943"/>
<polygon points="394.91,76.51 396.94,78.23 404.06,75.2 402.03,73.46" fill="#465efb"/>
<polygon points="353.31,44.34 355.34,46.6 362.46,43.32 360.43,41.06" fill="#81cc59"/>
<polygon points="473.07,63.18 475.1,61.43 482.22,58.22 480.19,59.98" fill="#20a5e3"/>
<polygon points="396.94,78.23 398.97,79.87 406.09,76.87 404.06,75.2" fill="#4758f8"/>
<polygon points="451.75,77.15 453.78,75.81 460.9,72.73 458.87,74.1" fill="#4758f8"/>
<polygon points="355.34,46.6 357.37,48.84 364.49,45.57 362.46,43.32" fill="#64cd6f"/>
<polygon points="428.4,86.39 430.43,86.18 437.55,83.29 435.52,83.52" fill="#422ec0"/>
<polygon points="357.37,48.84 359.4,51.06 366.52,47.8 364.49,45.57" fill="#4acb84"/>
<polygon points="398.97,79.87 401,81.43 408.12,78.44 406.09,76.87" fill="#484df0"/>
<polygon points="359.4,51.06 361.43,53.27 368.55,50.02 366.52,47.8" fill="#37c897"/>
<polygon points="430.43,86.18 432.46,85.78 439.58,82.87 437.55,83.29" fill="#422ec0"/>
<polygon points="475.1,61.43 477.12,59.66 484.25,56.43 482.22,58.22" fill="#18addb"/>
<polygon points="401,81.43 403.03,82.88 410.15,79.92 408.12,78.44" fill="#4747eb"/>
<polygon points="453.78,75.81 455.81,74.38 462.93,71.28 460.9,72.73" fill="#4563fd"/>
<polygon points="361.43,53.27 363.46,55.46 370.57,52.22 368.55,50.02" fill="#2cc4a7"/>
<polygon points="403.03,82.88 405.06,84.21 412.18,81.28 410.15,79.92" fill="#4741e5"/>
<polygon points="363.46,55.46 365.48,57.64 372.6,54.41 370.57,52.22" fill="#19bfb6"/>
<polygon points="432.46,85.78 434.49,85.2 441.61,82.27 439.58,82.87" fill="#4332cb"/>
<polygon points="477.12,59.66 479.15,57.86 486.27,54.62 484.25,56.43" fill="#08b5d0"/>
<polygon points="455.81,74.38 457.83,72.89 464.95,69.76 462.93,71.28" fill="#3e6fff"/>
<polygon points="365.48,57.64 367.51,59.8 374.63,56.58 372.6,54.41" fill="#02bac3"/>
<polygon points="405.06,84.21 407.08,85.43 414.2,82.51 412.18,81.28" fill="#463cde"/>
<polygon points="367.51,59.8 369.54,61.93 376.66,58.72 374.63,56.58" fill="#08b5d0"/>
<polygon points="434.49,85.2 436.52,84.46 443.64,81.51 441.61,82.27" fill="#4537d5"/>
<polygon points="407.08,85.43 409.11,86.49 416.23,83.6 414.2,82.51" fill="#4537d5"/>
<polygon points="369.54,61.93 371.57,64.04 378.69,60.84 376.66,58.72" fill="#18addb"/>
<polygon points="457.83,72.89 459.86,71.33 466.98,68.19 464.95,69.76" fill="#327cfc"/>
<polygon points="479.15,57.86 481.18,56.03 488.3,52.78 486.27,54.62" fill="#02bac3"/>
<polygon points="409.11,86.49 411.14,87.41 418.26,84.53 416.23,83.6" fill="#4332cb"/>
<polygon points="371.57,64.04 373.6,66.12 380.72,62.93 378.69,60.84" fill="#20a5e3"/>
<polygon points="436.52,84.46 438.55,83.58 445.67,80.61 443.64,81.51" fill="#463cde"/>
<polygon points="373.6,66.12 375.62,68.16 382.75,65 380.72,62.93" fill="#23a0e5"/>
<polygon points="411.14,87.41 413.17,88.15 420.29,85.29 418.26,84.53" fill="#422ec0"/>
<polygon points="459.86,71.33 461.89,69.73 469.01,66.56 466.98,68.19" fill="#2e87f7"/>
<polygon points="481.18,56.03 483.21,54.18 490.33,50.92 488.3,52.78" fill="#19bfb6"/>
<polygon points="375.62,68.16 377.65,70.18 384.77,67.03 382.75,65" fill="#2797eb"/>
<polygon points="438.55,83.58 440.57,82.57 447.69,79.57 445.67,80.61" fill="#4741e5"/>
<polygon points="413.17,88.15 415.2,88.72 422.32,85.86 420.29,85.29" fill="#422ec0"/>
<polygon points="377.65,70.18 379.68,72.15 386.8,69.02 384.77,67.03" fill="#2d8cf3"/>
<polygon points="379.68,72.15 381.71,74.09 388.83,70.97 386.8,69.02" fill="#2f81fa"/>
<polygon points="461.89,69.73 463.92,68.07 471.04,64.89 469.01,66.56" fill="#2b91ef"/>
<polygon points="415.2,88.72 417.23,89.09 424.35,86.24 422.32,85.86" fill="#422ec0"/>
<polygon points="483.21,54.18 485.24,52.32 492.36,49.05 490.33,50.92" fill="#2cc4a7"/>
<polygon points="440.57,82.57 442.6,81.44 449.72,78.41 447.69,79.57" fill="#484df0"/>
<polygon points="381.71,74.09 383.74,75.97 390.86,72.88 388.83,70.97" fill="#327cfc"/>
<polygon points="338.08,38.53 340.11,40.82 347.23,37.52 345.2,35.23" fill="#e6bb2d"/>
<polygon points="340.11,40.82 342.14,43.1 349.26,39.81 347.23,37.52" fill="#d1bf27"/>
<polygon points="383.74,75.97 385.77,77.8 392.89,74.73 390.86,72.88" fill="#3e6fff"/>
<polygon points="417.23,89.09 419.25,89.28 426.38,86.41 424.35,86.24" fill="#422ec0"/>
<polygon points="463.92,68.07 465.95,66.38 473.07,63.18 471.04,64.89" fill="#259be8"/>
<polygon points="342.14,43.1 344.17,45.37 351.28,42.08 349.26,39.81" fill="#b9c431"/>
<polygon points="485.24,52.32 487.27,50.43 494.39,47.16 492.36,49.05" fill="#3fca8e"/>
<polygon points="442.6,81.44 444.63,80.21 451.75,77.15 449.72,78.41" fill="#4852f4"/>
<polygon points="385.77,77.8 387.79,79.57 394.91,76.51 392.89,74.73" fill="#4269fe"/>
<polygon points="344.17,45.37 346.19,47.63 353.31,44.34 351.28,42.08" fill="#9dc943"/>
<polygon points="419.25,89.28 421.28,89.26 428.4,86.39 426.38,86.41" fill="#422ec0"/>
<polygon points="387.79,79.57 389.82,81.26 396.94,78.23 394.91,76.51" fill="#465efb"/>
<polygon points="346.19,47.63 348.22,49.87 355.34,46.6 353.31,44.34" fill="#81cc59"/>
<polygon points="465.95,66.38 467.98,64.65 475.1,61.43 473.07,63.18" fill="#20a5e3"/>
<polygon points="389.82,81.26 391.85,82.88 398.97,79.87 396.94,78.23" fill="#4758f8"/>
<polygon points="444.63,80.21 446.66,78.88 453.78,75.81 451.75,77.15" fill="#465efb"/>
<polygon points="487.27,50.43 489.3,48.53 496.42,45.25 494.39,47.16" fill="#57cc7a"/>
<polygon points="348.22,49.87 350.25,52.1 357.37,48.84 355.34,46.6" fill="#64cd6f"/>
<polygon points="421.28,89.26 423.31,89.06 430.43,86.18 428.4,86.39" fill="#422ec0"/>
<polygon points="350.25,52.1 352.28,54.32 359.4,51.06 357.37,48.84" fill="#4acb84"/>
<polygon points="391.85,82.88 393.88,84.41 401,81.43 398.97,79.87" fill="#484df0"/>
<polygon points="352.28,54.32 354.31,56.52 361.43,53.27 359.4,51.06" fill="#37c897"/>
<polygon points="467.98,64.65 470,62.89 477.12,59.66 475.1,61.43" fill="#18addb"/>
<polygon points="423.31,89.06 425.34,88.68 432.46,85.78 430.43,86.18" fill="#4332cb"/>
<polygon points="446.66,78.88 448.69,77.48 455.81,74.38 453.78,75.81" fill="#4563fd"/>
<polygon points="393.88,84.41 395.91,85.84 403.03,82.88 401,81.43" fill="#4747eb"/>
<polygon points="489.3,48.53 491.32,46.62 498.44,43.33 496.42,45.25" fill="#72cd64"/>
<polygon points="354.31,56.52 356.34,58.71 363.46,55.46 361.43,53.27" fill="#2cc4a7"/>
<polygon points="395.91,85.84 397.94,87.15 405.06,84.21 403.03,82.88" fill="#4741e5"/>
<polygon points="356.34,58.71 358.36,60.87 365.48,57.64 363.46,55.46" fill="#19bfb6"/>
<polygon points="425.34,88.68 427.37,88.12 434.49,85.2 432.46,85.78" fill="#4332cb"/>
<polygon points="470,62.89 472.03,61.1 479.15,57.86 477.12,59.66" fill="#08b5d0"/>
<polygon points="448.69,77.48 450.71,76.01 457.83,72.89 455.81,74.38" fill="#3e6fff"/>
<polygon points="358.36,60.87 360.39,63.02 367.51,59.8 365.48,57.64" fill="#02bac3"/>
<polygon points="397.94,87.15 399.97,88.34 407.08,85.43 405.06,84.21" fill="#463cde"/>
<polygon points="491.32,46.62 493.35,44.7 500.47,41.4 498.44,43.33" fill="#8fcb4e"/>
<polygon points="360.39,63.02 362.42,65.14 369.54,61.93 367.51,59.8" fill="#08b5d0"/>
<polygon points="427.37,88.12 429.4,87.41 436.52,84.46 434.49,85.2" fill="#4537d5"/>
<polygon points="399.97,88.34 401.99,89.39 409.11,86.49 407.08,85.43" fill="#4537d5"/>
<polygon points="362.42,65.14 364.45,67.23 371.57,64.04 369.54,61.93" fill="#18addb"/>
<polygon points="450.71,76.01 452.74,74.48 459.86,71.33 457.83,72.89" fill="#327cfc"/>
<polygon points="472.03,61.1 474.06,59.28 481.18,56.03 479.15,57.86" fill="#02bac3"/>
<polygon points="401.99,89.39 404.02,90.29 411.14,87.41 409.11,86.49" fill="#4332cb"/>
<polygon points="364.45,67.23 366.48,69.3 373.6,66.12 371.57,64.04" fill="#20a5e3"/>
<polygon points="493.35,44.7 495.38,42.76 502.5,39.46 500.47,41.4" fill="#b9c431"/>
<polygon points="429.4,87.41 431.43,86.55 438.55,83.58 436.52,84.46" fill="#463cde"/>
<polygon points="366.48,69.3 368.51,71.33 375.62,68.16 373.6,66.12" fill="#23a0e5"/>
<polygon points="404.02,90.29 406.05,91.02 413.17,88.15 411.14,87.41" fill="#4332cb"/>
<polygon points="452.74,74.48 454.77,72.89 461.89,69.73 459.86,71.33" fill="#2e87f7"/>
<polygon points="474.06,59.28 476.09,57.44 483.21,54.18 481.18,56.03" fill="#19bfb6"/>
<polygon points="368.51,71.33 370.53,73.33 377.65,70.18 375.62,68.16" fill="#2797eb"/>
<polygon points="431.43,86.55 433.45,85.57 440.57,82.57 438.55,83.58" fill="#4741e5"/>
<polygon points="406.05,91.02 408.08,91.58 415.2,88.72 413.17,88.15" fill="#422ec0"/>
<polygon points="370.53,73.33 372.56,75.29 379.68,72.15 377.65,70.18" fill="#2d8cf3"/>
<polygon points="372.56,75.29 374.59,77.2 381.71,74.09 379.68,72.15" fill="#2f81fa"/>
<polygon points="454.77,72.89 456.8,71.25 463.92,68.07 461.89,69.73" fill="#2b91ef"/>
<polygon points="476.09,57.44 478.12,55.59 485.24,52.32 483.21,54.18" fill="#2cc4a7"/>
<polygon points="408.08,91.58 410.11,91.95 417.23,89.09 415.2,88.72" fill="#422ec0"/>
<polygon points="433.45,85.57 435.48,84.47 442.6,81.44 440.57,82.57" fill="#484df0"/>
<polygon points="330.96,41.84 332.99,44.12 340.11,40.82 338.08,38.53" fill="#e6bb2d"/>
<polygon points="374.59,77.2 376.62,79.06 383.74,75.97 381.71,74.09" fill="#327cfc"/>
<polygon points="332.99,44.12 335.02,46.4 342.14,43.1 340.11,40.82" fill="#c5c22a"/>
<polygon points="376.62,79.06 378.65,80.87 385.77,77.8 383.74,75.97" fill="#3e6fff"/>
<polygon points="410.11,91.95 412.13,92.14 419.25,89.28 417.23,89.09" fill="#422ec0"/>
<polygon points="456.8,71.25 458.83,69.58 465.95,66.38 463.92,68.07" fill="#259be8"/>
<polygon points="335.02,46.4 337.05,48.66 344.17,45.37 342.14,43.1" fill="#abc739"/>
<polygon points="478.12,55.59 480.15,53.71 487.27,50.43 485.24,52.32" fill="#3fca8e"/>
<polygon points="435.48,84.47 437.51,83.26 444.63,80.21 442.6,81.44" fill="#4852f4"/>
<polygon points="378.65,80.87 380.68,82.62 387.79,79.57 385.77,77.8" fill="#4269fe"/>
<polygon points="337.05,48.66 339.07,50.91 346.19,47.63 344.17,45.37" fill="#8fcb4e"/>
<polygon points="412.13,92.14 414.16,92.13 421.28,89.26 419.25,89.28" fill="#422ec0"/>
<polygon points="380.68,82.62 382.7,84.29 389.82,81.26 387.79,79.57" fill="#465efb"/>
<polygon points="339.07,50.91 341.1,53.15 348.22,49.87 346.19,47.63" fill="#72cd64"/>
<polygon points="458.83,69.58 460.86,67.86 467.98,64.65 465.95,66.38" fill="#20a5e3"/>
<polygon points="480.15,53.71 482.18,51.82 489.3,48.53 487.27,50.43" fill="#57cc7a"/>
<polygon points="382.7,84.29 384.73,85.89 391.85,82.88 389.82,81.26" fill="#4758f8"/>
<polygon points="437.51,83.26 439.54,81.96 446.66,78.88 444.63,80.21" fill="#465efb"/>
<polygon points="341.1,53.15 343.13,55.37 350.25,52.1 348.22,49.87" fill="#64cd6f"/>
<polygon points="414.16,92.13 416.19,91.95 423.31,89.06 421.28,89.26" fill="#422ec0"/>
<polygon points="343.13,55.37 345.16,57.58 352.28,54.32 350.25,52.1" fill="#4acb84"/>
<polygon points="384.73,85.89 386.76,87.39 393.88,84.41 391.85,82.88" fill="#484df0"/>
<polygon points="345.16,57.58 347.19,59.77 354.31,56.52 352.28,54.32" fill="#37c897"/>
<polygon points="460.86,67.86 462.88,66.11 470,62.89 467.98,64.65" fill="#18addb"/>
<polygon points="416.19,91.95 418.22,91.58 425.34,88.68 423.31,89.06" fill="#4332cb"/>
<polygon points="439.54,81.96 441.57,80.58 448.69,77.48 446.66,78.88" fill="#4563fd"/>
<polygon points="386.76,87.39 388.79,88.79 395.91,85.84 393.88,84.41" fill="#4747eb"/>
<polygon points="482.18,51.82 484.2,49.91 491.32,46.62 489.3,48.53" fill="#72cd64"/>
<polygon points="347.19,59.77 349.22,61.95 356.34,58.71 354.31,56.52" fill="#2cc4a7"/>
<polygon points="388.79,88.79 390.82,90.09 397.94,87.15 395.91,85.84" fill="#4741e5"/>
<polygon points="349.22,61.95 351.24,64.1 358.36,60.87 356.34,58.71" fill="#19bfb6"/>
<polygon points="418.22,91.58 420.25,91.05 427.37,88.12 425.34,88.68" fill="#4332cb"/>
<polygon points="462.88,66.11 464.91,64.34 472.03,61.1 470,62.89" fill="#08b5d0"/>
<polygon points="441.57,80.58 443.59,79.14 450.71,76.01 448.69,77.48" fill="#3e6fff"/>
<polygon points="351.24,64.1 353.27,66.24 360.39,63.02 358.36,60.87" fill="#02bac3"/>
<polygon points="390.82,90.09 392.85,91.26 399.97,88.34 397.94,87.15" fill="#463cde"/>
<polygon points="484.2,49.91 486.23,47.99 493.35,44.7 491.32,46.62" fill="#8fcb4e"/>
<polygon points="353.27,66.24 355.3,68.34 362.42,65.14 360.39,63.02" fill="#08b5d0"/>
<polygon points="420.25,91.05 422.28,90.36 429.4,87.41 427.37,88.12" fill="#4537d5"/>
<polygon points="392.85,91.26 394.87,92.29 401.99,89.39 399.97,88.34" fill="#4537d5"/>
<polygon points="355.3,68.34 357.33,70.42 364.45,67.23 362.42,65.14" fill="#18addb"/>
<polygon points="443.59,79.14 445.62,77.62 452.74,74.48 450.71,76.01" fill="#327cfc"/>
<polygon points="464.91,64.34 466.94,62.53 474.06,59.28 472.03,61.1" fill="#02bac3"/>
<polygon points="486.23,47.99 488.26,46.06 495.38,42.76 493.35,44.7" fill="#b9c431"/>
<polygon points="357.33,70.42 359.36,72.48 366.48,69.3 364.45,67.23" fill="#20a5e3"/>
<polygon points="394.87,92.29 396.9,93.17 404.02,90.29 401.99,89.39" fill="#4332cb"/>
<polygon points="422.28,90.36 424.31,89.53 431.43,86.55 429.4,87.41" fill="#463cde"/>
<polygon points="359.36,72.48 361.39,74.5 368.51,71.33 366.48,69.3" fill="#23a0e5"/>
<polygon points="396.9,93.17 398.93,93.89 406.05,91.02 404.02,90.29" fill="#4332cb"/>
<polygon points="445.62,77.62 447.65,76.05 454.77,72.89 452.74,74.48" fill="#2e87f7"/>
<polygon points="466.94,62.53 468.97,60.7 476.09,57.44 474.06,59.28" fill="#19bfb6"/>
<polygon points="361.39,74.5 363.41,76.48 370.53,73.33 368.51,71.33" fill="#2797eb"/>
<polygon points="424.31,89.53 426.33,88.57 433.45,85.57 431.43,86.55" fill="#4747eb"/>
<polygon points="363.41,76.48 365.44,78.42 372.56,75.29 370.53,73.33" fill="#2d8cf3"/>
<polygon points="398.93,93.89 400.96,94.44 408.08,91.58 406.05,91.02" fill="#422ec0"/>
<polygon points="365.44,78.42 367.47,80.31 374.59,77.2 372.56,75.29" fill="#2f81fa"/>
<polygon points="447.65,76.05 449.68,74.44 456.8,71.25 454.77,72.89" fill="#2b91ef"/>
<polygon points="468.97,60.7 471,58.85 478.12,55.59 476.09,57.44" fill="#2cc4a7"/>
<polygon points="400.96,94.44 402.99,94.81 410.11,91.95 408.08,91.58" fill="#422ec0"/>
<polygon points="323.84,45.15 325.87,47.42 332.99,44.12 330.96,41.84" fill="#dcbd29"/>
<polygon points="426.33,88.57 428.36,87.49 435.48,84.47 433.45,85.57" fill="#484df0"/>
<polygon points="367.47,80.31 369.5,82.16 376.62,79.06 374.59,77.2" fill="#327cfc"/>
<polygon points="325.87,47.42 327.9,49.69 335.02,46.4 332.99,44.12" fill="#c5c22a"/>
<polygon points="369.5,82.16 371.53,83.95 378.65,80.87 376.62,79.06" fill="#3e6fff"/>
<polygon points="402.99,94.81 405.02,95 412.13,92.14 410.11,91.95" fill="#422ec0"/>
<polygon points="449.68,74.44 451.71,72.78 458.83,69.58 456.8,71.25" fill="#259be8"/>
<polygon points="327.9,49.69 329.93,51.95 337.05,48.66 335.02,46.4" fill="#abc739"/>
<polygon points="471,58.85 473.03,56.99 480.15,53.71 478.12,55.59" fill="#37c897"/>
<polygon points="428.36,87.49 430.39,86.31 437.51,83.26 435.48,84.47" fill="#4852f4"/>
<polygon points="371.53,83.95 373.56,85.67 380.68,82.62 378.65,80.87" fill="#4269fe"/>
<polygon points="329.93,51.95 331.95,54.19 339.07,50.91 337.05,48.66" fill="#8fcb4e"/>
<polygon points="405.02,95 407.04,95 414.16,92.13 412.13,92.14" fill="#422ec0"/>
<polygon points="373.56,85.67 375.58,87.32 382.7,84.29 380.68,82.62" fill="#465efb"/>
<polygon points="331.95,54.19 333.98,56.42 341.1,53.15 339.07,50.91" fill="#72cd64"/>
<polygon points="451.71,72.78 453.74,71.08 460.86,67.86 458.83,69.58" fill="#20a5e3"/>
<polygon points="473.03,56.99 475.06,55.1 482.18,51.82 480.15,53.71" fill="#57cc7a"/>
<polygon points="333.98,56.42 336.01,58.64 343.13,55.37 341.1,53.15" fill="#57cc7a"/>
<polygon points="430.39,86.31 432.42,85.04 439.54,81.96 437.51,83.26" fill="#465efb"/>
<polygon points="375.58,87.32 377.61,88.89 384.73,85.89 382.7,84.29" fill="#4758f8"/>
<polygon points="407.04,95 409.07,94.83 416.19,91.95 414.16,92.13" fill="#4332cb"/>
<polygon points="336.01,58.64 338.04,60.84 345.16,57.58 343.13,55.37" fill="#3fca8e"/>
<polygon points="377.61,88.89 379.64,90.37 386.76,87.39 384.73,85.89" fill="#4852f4"/>
<polygon points="338.04,60.84 340.07,63.02 347.19,59.77 345.16,57.58" fill="#31c69f"/>
<polygon points="453.74,71.08 455.76,69.34 462.88,66.11 460.86,67.86" fill="#18addb"/>
<polygon points="432.42,85.04 434.45,83.69 441.57,80.58 439.54,81.96" fill="#4563fd"/>
<polygon points="409.07,94.83 411.1,94.48 418.22,91.58 416.19,91.95" fill="#4332cb"/>
<polygon points="475.06,55.1 477.08,53.2 484.2,49.91 482.18,51.82" fill="#72cd64"/>
<polygon points="379.64,90.37 381.67,91.75 388.79,88.79 386.76,87.39" fill="#4747eb"/>
<polygon points="340.07,63.02 342.1,65.19 349.22,61.95 347.19,59.77" fill="#2cc4a7"/>
<polygon points="381.67,91.75 383.7,93.02 390.82,90.09 388.79,88.79" fill="#4741e5"/>
<polygon points="342.1,65.19 344.12,67.33 351.24,64.1 349.22,61.95" fill="#19bfb6"/>
<polygon points="411.1,94.48 413.13,93.97 420.25,91.05 418.22,91.58" fill="#4537d5"/>
<polygon points="455.76,69.34 457.79,67.58 464.91,64.34 462.88,66.11" fill="#08b5d0"/>
<polygon points="434.45,83.69 436.48,82.26 443.59,79.14 441.57,80.58" fill="#3e6fff"/>
<polygon points="344.12,67.33 346.15,69.46 353.27,66.24 351.24,64.1" fill="#02bac3"/>
<polygon points="477.08,53.2 479.11,51.28 486.23,47.99 484.2,49.91" fill="#8fcb4e"/>
<polygon points="383.7,93.02 385.73,94.17 392.85,91.26 390.82,90.09" fill="#463cde"/>
<polygon points="346.15,69.46 348.18,71.55 355.3,68.34 353.27,66.24" fill="#08b5d0"/>
<polygon points="413.13,93.97 415.16,93.31 422.28,90.36 420.25,91.05" fill="#463cde"/>
<polygon points="385.73,94.17 387.75,95.18 394.87,92.29 392.85,91.26" fill="#4537d5"/>
<polygon points="348.18,71.55 350.21,73.62 357.33,70.42 355.3,68.34" fill="#18addb"/>
<polygon points="457.79,67.58 459.82,65.78 466.94,62.53 464.91,64.34" fill="#02bac3"/>
<polygon points="436.48,82.26 438.5,80.77 445.62,77.62 443.59,79.14" fill="#327cfc"/>
<polygon points="479.11,51.28 481.14,49.36 488.26,46.06 486.23,47.99" fill="#abc739"/>
<polygon points="350.21,73.62 352.24,75.66 359.36,72.48 357.33,70.42" fill="#20a5e3"/>
<polygon points="387.75,95.18 389.78,96.05 396.9,93.17 394.87,92.29" fill="#4537d5"/>
<polygon points="415.16,93.31 417.19,92.5 424.31,89.53 422.28,90.36" fill="#4741e5"/>
<polygon points="352.24,75.66 354.27,77.66 361.39,74.5 359.36,72.48" fill="#23a0e5"/>
<polygon points="389.78,96.05 391.81,96.76 398.93,93.89 396.9,93.17" fill="#4332cb"/>
<polygon points="438.5,80.77 440.53,79.22 447.65,76.05 445.62,77.62" fill="#2e87f7"/>
<polygon points="459.82,65.78 461.85,63.96 468.97,60.7 466.94,62.53" fill="#19bfb6"/>
<polygon points="354.27,77.66 356.29,79.63 363.41,76.48 361.39,74.5" fill="#2797eb"/>
<polygon points="417.19,92.5 419.21,91.57 426.33,88.57 424.31,89.53" fill="#4747eb"/>
<polygon points="356.29,79.63 358.32,81.55 365.44,78.42 363.41,76.48" fill="#2d8cf3"/>
<polygon points="391.81,96.76 393.84,97.3 400.96,94.44 398.93,93.89" fill="#4332cb"/>
<polygon points="358.32,81.55 360.35,83.43 367.47,80.31 365.44,78.42" fill="#2f81fa"/>
<polygon points="440.53,79.22 442.56,77.62 449.68,74.44 447.65,76.05" fill="#2b91ef"/>
<polygon points="461.85,63.96 463.88,62.12 471,58.85 468.97,60.7" fill="#2cc4a7"/>
<polygon points="393.84,97.3 395.87,97.67 402.99,94.81 400.96,94.44" fill="#4332cb"/>
<polygon points="316.72,48.45 318.75,50.72 325.87,47.42 323.84,45.15" fill="#dcbd29"/>
<polygon points="419.21,91.57 421.24,90.52 428.36,87.49 426.33,88.57" fill="#484df0"/>
<polygon points="360.35,83.43 362.38,85.25 369.5,82.16 367.47,80.31" fill="#327cfc"/>
<polygon points="318.75,50.72 320.78,52.99 327.9,49.69 325.87,47.42" fill="#c5c22a"/>
<polygon points="362.38,85.25 364.41,87.02 371.53,83.95 369.5,82.16" fill="#3e6fff"/>
<polygon points="395.87,97.67 397.9,97.86 405.02,95 402.99,94.81" fill="#422ec0"/>
<polygon points="442.56,77.62 444.59,75.97 451.71,72.78 449.68,74.44" fill="#259be8"/>
<polygon points="320.78,52.99 322.81,55.24 329.93,51.95 327.9,49.69" fill="#abc739"/>
<polygon points="463.88,62.12 465.91,60.26 473.03,56.99 471,58.85" fill="#37c897"/>
<polygon points="364.41,87.02 366.44,88.72 373.56,85.67 371.53,83.95" fill="#4269fe"/>
<polygon points="421.24,90.52 423.27,89.37 430.39,86.31 428.36,87.49" fill="#4852f4"/>
<polygon points="322.81,55.24 324.83,57.48 331.95,54.19 329.93,51.95" fill="#8fcb4e"/>
<polygon points="397.9,97.86 399.92,97.87 407.04,95 405.02,95" fill="#4332cb"/>
<polygon points="366.44,88.72 368.46,90.35 375.58,87.32 373.56,85.67" fill="#465efb"/>
<polygon points="324.83,57.48 326.86,59.7 333.98,56.42 331.95,54.19" fill="#72cd64"/>
<polygon points="444.59,75.97 446.62,74.29 453.74,71.08 451.71,72.78" fill="#20a5e3"/>
<polygon points="465.91,60.26 467.94,58.38 475.06,55.1 473.03,56.99" fill="#57cc7a"/>
<polygon points="326.86,59.7 328.89,61.91 336.01,58.64 333.98,56.42" fill="#57cc7a"/>
<polygon points="423.27,89.37 425.3,88.12 432.42,85.04 430.39,86.31" fill="#465efb"/>
<polygon points="368.46,90.35 370.49,91.9 377.61,88.89 375.58,87.32" fill="#4758f8"/>
<polygon points="399.92,97.87 401.95,97.71 409.07,94.83 407.04,95" fill="#4332cb"/>
<polygon points="328.89,61.91 330.92,64.1 338.04,60.84 336.01,58.64" fill="#3fca8e"/>
<polygon points="370.49,91.9 372.52,93.35 379.64,90.37 377.61,88.89" fill="#4852f4"/>
<polygon points="330.92,64.1 332.95,66.28 340.07,63.02 338.04,60.84" fill="#31c69f"/>
<polygon points="446.62,74.29 448.64,72.57 455.76,69.34 453.74,71.08" fill="#18addb"/>
<polygon points="425.3,88.12 427.33,86.79 434.45,83.69 432.42,85.04" fill="#4563fd"/>
<polygon points="467.94,58.38 469.96,56.49 477.08,53.2 475.06,55.1" fill="#72cd64"/>
<polygon points="401.95,97.71 403.98,97.39 411.1,94.48 409.07,94.83" fill="#4332cb"/>
<polygon points="372.52,93.35 374.55,94.71 381.67,91.75 379.64,90.37" fill="#484df0"/>
<polygon points="332.95,66.28 334.98,68.43 342.1,65.19 340.07,63.02" fill="#24c1ae"/>
<polygon points="334.98,68.43 337,70.57 344.12,67.33 342.1,65.19" fill="#19bfb6"/>
<polygon points="374.55,94.71 376.58,95.96 383.7,93.02 381.67,91.75" fill="#4747eb"/>
<polygon points="403.98,97.39 406.01,96.9 413.13,93.97 411.1,94.48" fill="#4537d5"/>
<polygon points="448.64,72.57 450.67,70.81 457.79,67.58 455.76,69.34" fill="#08b5d0"/>
<polygon points="337,70.57 339.03,72.68 346.15,69.46 344.12,67.33" fill="#02bac3"/>
<polygon points="427.33,86.79 429.36,85.38 436.48,82.26 434.45,83.69" fill="#3e6fff"/>
<polygon points="469.96,56.49 471.99,54.58 479.11,51.28 477.08,53.2" fill="#8fcb4e"/>
<polygon points="376.58,95.96 378.61,97.09 385.73,94.17 383.7,93.02" fill="#4741e5"/>
<polygon points="339.03,72.68 341.06,74.76 348.18,71.55 346.15,69.46" fill="#08b5d0"/>
<polygon points="406.01,96.9 408.04,96.26 415.16,93.31 413.13,93.97" fill="#463cde"/>
<polygon points="378.61,97.09 380.63,98.08 387.75,95.18 385.73,94.17" fill="#463cde"/>
<polygon points="341.06,74.76 343.09,76.81 350.21,73.62 348.18,71.55" fill="#18addb"/>
<polygon points="450.67,70.81 452.7,69.03 459.82,65.78 457.79,67.58" fill="#02bac3"/>
<polygon points="429.36,85.38 431.38,83.91 438.5,80.77 436.48,82.26" fill="#327cfc"/>
<polygon points="471.99,54.58 474.02,52.65 481.14,49.36 479.11,51.28" fill="#abc739"/>
<polygon points="343.09,76.81 345.12,78.84 352.24,75.66 350.21,73.62" fill="#20a5e3"/>
<polygon points="380.63,98.08 382.66,98.93 389.78,96.05 387.75,95.18" fill="#4537d5"/>
<polygon points="408.04,96.26 410.07,95.48 417.19,92.5 415.16,93.31" fill="#4741e5"/>
<polygon points="345.12,78.84 347.15,80.83 354.27,77.66 352.24,75.66" fill="#23a0e5"/>
<polygon points="382.66,98.93 384.69,99.62 391.81,96.76 389.78,96.05" fill="#4332cb"/>
<polygon points="431.38,83.91 433.41,82.38 440.53,79.22 438.5,80.77" fill="#2e87f7"/>
<polygon points="452.7,69.03 454.73,67.22 461.85,63.96 459.82,65.78" fill="#19bfb6"/>
<polygon points="347.15,80.83 349.17,82.78 356.29,79.63 354.27,77.66" fill="#2797eb"/>
<polygon points="410.07,95.48 412.09,94.57 419.21,91.57 417.19,92.5" fill="#4747eb"/>
<polygon points="349.17,82.78 351.2,84.68 358.32,81.55 356.29,79.63" fill="#2d8cf3"/>
<polygon points="384.69,99.62 386.72,100.16 393.84,97.3 391.81,96.76" fill="#4332cb"/>
<polygon points="351.2,84.68 353.23,86.54 360.35,83.43 358.32,81.55" fill="#2f81fa"/>
<polygon points="433.41,82.38 435.44,80.8 442.56,77.62 440.53,79.22" fill="#2b91ef"/>
<polygon points="454.73,67.22 456.76,65.39 463.88,62.12 461.85,63.96" fill="#2cc4a7"/>
<polygon points="309.6,51.76 311.63,54.03 318.75,50.72 316.72,48.45" fill="#dcbd29"/>
<polygon points="386.72,100.16 388.75,100.53 395.87,97.67 393.84,97.3" fill="#4332cb"/>
<polygon points="353.23,86.54 355.26,88.35 362.38,85.25 360.35,83.43" fill="#327cfc"/>
<polygon points="412.09,94.57 414.12,93.55 421.24,90.52 419.21,91.57" fill="#484df0"/>
<polygon points="311.63,54.03 313.66,56.28 320.78,52.99 318.75,50.72" fill="#c5c22a"/>
<polygon points="355.26,88.35 357.29,90.09 364.41,87.02 362.38,85.25" fill="#3e6fff"/>
<polygon points="435.44,80.8 437.47,79.17 444.59,75.97 442.56,77.62" fill="#2797eb"/>
<polygon points="388.75,100.53 390.78,100.72 397.9,97.86 395.87,97.67" fill="#4332cb"/>
<polygon points="313.66,56.28 315.69,58.53 322.81,55.24 320.78,52.99" fill="#abc739"/>
<polygon points="456.76,65.39 458.79,63.54 465.91,60.26 463.88,62.12" fill="#37c897"/>
<polygon points="357.29,90.09 359.31,91.77 366.44,88.72 364.41,87.02" fill="#4269fe"/>
<polygon points="414.12,93.55 416.15,92.42 423.27,89.37 421.24,90.52" fill="#4852f4"/>
<polygon points="315.69,58.53 317.71,60.76 324.83,57.48 322.81,55.24" fill="#8fcb4e"/>
<polygon points="390.78,100.72 392.8,100.75 399.92,97.87 397.9,97.86" fill="#4332cb"/>
<polygon points="317.71,60.76 319.74,62.98 326.86,59.7 324.83,57.48" fill="#72cd64"/>
<polygon points="359.31,91.77 361.34,93.38 368.46,90.35 366.44,88.72" fill="#465efb"/>
<polygon points="437.47,79.17 439.5,77.5 446.62,74.29 444.59,75.97" fill="#23a0e5"/>
<polygon points="458.79,63.54 460.82,61.67 467.94,58.38 465.91,60.26" fill="#4acb84"/>
<polygon points="319.74,62.98 321.77,65.18 328.89,61.91 326.86,59.7" fill="#57cc7a"/>
<polygon points="416.15,92.42 418.18,91.2 425.3,88.12 423.27,89.37" fill="#465efb"/>
<polygon points="361.34,93.38 363.37,94.9 370.49,91.9 368.46,90.35" fill="#4758f8"/>
<polygon points="392.8,100.75 394.83,100.6 401.95,97.71 399.92,97.87" fill="#4332cb"/>
<polygon points="321.77,65.18 323.8,67.36 330.92,64.1 328.89,61.91" fill="#3fca8e"/>
<polygon points="363.37,94.9 365.4,96.34 372.52,93.35 370.49,91.9" fill="#4852f4"/>
<polygon points="323.8,67.36 325.83,69.53 332.95,66.28 330.92,64.1" fill="#31c69f"/>
<polygon points="439.5,77.5 441.53,75.8 448.64,72.57 446.62,74.29" fill="#1ca9df"/>
<polygon points="460.82,61.67 462.84,59.78 469.96,56.49 467.94,58.38" fill="#72cd64"/>
<polygon points="418.18,91.2 420.21,89.89 427.33,86.79 425.3,88.12" fill="#4269fe"/>
<polygon points="394.83,100.6 396.86,100.29 403.98,97.39 401.95,97.71" fill="#4537d5"/>
<polygon points="365.4,96.34 367.43,97.67 374.55,94.71 372.52,93.35" fill="#484df0"/>
<polygon points="325.83,69.53 327.86,71.67 334.98,68.43 332.95,66.28" fill="#24c1ae"/>
<polygon points="327.86,71.67 329.88,73.8 337,70.57 334.98,68.43" fill="#0bbdbd"/>
<polygon points="367.43,97.67 369.46,98.9 376.58,95.96 374.55,94.71" fill="#4747eb"/>
<polygon points="441.53,75.8 443.55,74.05 450.67,70.81 448.64,72.57" fill="#08b5d0"/>
<polygon points="396.86,100.29 398.89,99.82 406.01,96.9 403.98,97.39" fill="#4537d5"/>
<polygon points="329.88,73.8 331.91,75.9 339.03,72.68 337,70.57" fill="#02bac3"/>
<polygon points="420.21,89.89 422.24,88.51 429.36,85.38 427.33,86.79" fill="#3e6fff"/>
<polygon points="462.84,59.78 464.87,57.87 471.99,54.58 469.96,56.49" fill="#8fcb4e"/>
<polygon points="369.46,98.9 371.49,100 378.61,97.09 376.58,95.96" fill="#4741e5"/>
<polygon points="331.91,75.9 333.94,77.97 341.06,74.76 339.03,72.68" fill="#08b5d0"/>
<polygon points="398.89,99.82 400.92,99.2 408.04,96.26 406.01,96.9" fill="#463cde"/>
<polygon points="333.94,77.97 335.97,80.01 343.09,76.81 341.06,74.76" fill="#18addb"/>
<polygon points="371.49,100 373.51,100.97 380.63,98.08 378.61,97.09" fill="#463cde"/>
<polygon points="443.55,74.05 445.58,72.28 452.7,69.03 450.67,70.81" fill="#02bac3"/>
<polygon points="422.24,88.51 424.26,87.06 431.38,83.91 429.36,85.38" fill="#327cfc"/>
<polygon points="464.87,57.87 466.9,55.95 474.02,52.65 471.99,54.58" fill="#abc739"/>
<polygon points="335.97,80.01 338,82.02 345.12,78.84 343.09,76.81" fill="#20a5e3"/>
<polygon points="373.51,100.97 375.54,101.81 382.66,98.93 380.63,98.08" fill="#4537d5"/>
<polygon points="400.92,99.2 402.95,98.45 410.07,95.48 408.04,96.26" fill="#4741e5"/>
<polygon points="338,82.02 340.03,83.99 347.15,80.83 345.12,78.84" fill="#259be8"/>
<polygon points="445.58,72.28 447.61,70.48 454.73,67.22 452.7,69.03" fill="#19bfb6"/>
<polygon points="424.26,87.06 426.29,85.55 433.41,82.38 431.38,83.91" fill="#2e87f7"/>
<polygon points="375.54,101.81 377.57,102.49 384.69,99.62 382.66,98.93" fill="#4537d5"/>
<polygon points="340.03,83.99 342.05,85.93 349.17,82.78 347.15,80.83" fill="#2797eb"/>
<polygon points="342.05,85.93 344.08,87.81 351.2,84.68 349.17,82.78" fill="#2d8cf3"/>
<polygon points="402.95,98.45 404.97,97.57 412.09,94.57 410.07,95.48" fill="#4747eb"/>
<polygon points="377.57,102.49 379.6,103.02 386.72,100.16 384.69,99.62" fill="#4332cb"/>
<polygon points="344.08,87.81 346.11,89.65 353.23,86.54 351.2,84.68" fill="#2f81fa"/>
<polygon points="426.29,85.55 428.32,83.98 435.44,80.8 433.41,82.38" fill="#2b91ef"/>
<polygon points="447.61,70.48 449.64,68.66 456.76,65.39 454.73,67.22" fill="#2cc4a7"/>
<polygon points="379.6,103.02 381.63,103.38 388.75,100.53 386.72,100.16" fill="#4332cb"/>
<polygon points="346.11,89.65 348.14,91.44 355.26,88.35 353.23,86.54" fill="#327cfc"/>
<polygon points="404.97,97.57 407,96.57 414.12,93.55 412.09,94.57" fill="#484df0"/>
<polygon points="348.14,91.44 350.17,93.17 357.29,90.09 355.26,88.35" fill="#3e6fff"/>
<polygon points="428.32,83.98 430.35,82.37 437.47,79.17 435.44,80.8" fill="#2797eb"/>
<polygon points="381.63,103.38 383.66,103.58 390.78,100.72 388.75,100.53" fill="#4332cb"/>
<polygon points="449.64,68.66 451.67,66.82 458.79,63.54 456.76,65.39" fill="#37c897"/>
<polygon points="350.17,93.17 352.19,94.82 359.31,91.77 357.29,90.09" fill="#4269fe"/>
<polygon points="407,96.57 409.03,95.47 416.15,92.42 414.12,93.55" fill="#4758f8"/>
<polygon points="383.66,103.58 385.68,103.62 392.8,100.75 390.78,100.72" fill="#4332cb"/>
<polygon points="352.19,94.82 354.22,96.41 361.34,93.38 359.31,91.77" fill="#4563fd"/>
<polygon points="430.35,82.37 432.38,80.72 439.5,77.5 437.47,79.17" fill="#23a0e5"/>
<polygon points="451.67,66.82 453.7,64.95 460.82,61.67 458.79,63.54" fill="#4acb84"/>
<polygon points="409.03,95.47 411.06,94.28 418.18,91.2 416.15,92.42" fill="#465efb"/>
<polygon points="354.22,96.41 356.25,97.91 363.37,94.9 361.34,93.38" fill="#4758f8"/>
<polygon points="385.68,103.62 387.71,103.48 394.83,100.6 392.8,100.75" fill="#4332cb"/>
<polygon points="356.25,97.91 358.28,99.32 365.4,96.34 363.37,94.9" fill="#4852f4"/>
<polygon points="432.38,80.72 434.41,79.02 441.53,75.8 439.5,77.5" fill="#1ca9df"/>
<polygon points="453.7,64.95 455.72,63.07 462.84,59.78 460.82,61.67" fill="#72cd64"/>
<polygon points="411.06,94.28 413.09,92.99 420.21,89.89 418.18,91.2" fill="#4269fe"/>
<polygon points="387.71,103.48 389.74,103.19 396.86,100.29 394.83,100.6" fill="#4537d5"/>
<polygon points="358.28,99.32 360.31,100.63 367.43,97.67 365.4,96.34" fill="#484df0"/>
<polygon points="360.31,100.63 362.34,101.83 369.46,98.9 367.43,97.67" fill="#4747eb"/>
<polygon points="434.41,79.02 436.43,77.29 443.55,74.05 441.53,75.8" fill="#12b1d6"/>
<polygon points="389.74,103.19 391.77,102.74 398.89,99.82 396.86,100.29" fill="#463cde"/>
<polygon points="413.09,92.99 415.12,91.63 422.24,88.51 420.21,89.89" fill="#3e6fff"/>
<polygon points="455.72,63.07 457.75,61.17 464.87,57.87 462.84,59.78" fill="#8fcb4e"/>
<polygon points="362.34,101.83 364.37,102.92 371.49,100 369.46,98.9" fill="#4741e5"/>
<polygon points="391.77,102.74 393.8,102.15 400.92,99.2 398.89,99.82" fill="#463cde"/>
<polygon points="364.37,102.92 366.39,103.87 373.51,100.97 371.49,100" fill="#463cde"/>
<polygon points="436.43,77.29 438.46,75.53 445.58,72.28 443.55,74.05" fill="#02bac3"/>
<polygon points="415.12,91.63 417.14,90.2 424.26,87.06 422.24,88.51" fill="#327cfc"/>
<polygon points="457.75,61.17 459.78,59.25 466.9,55.95 464.87,57.87" fill="#abc739"/>
<polygon points="366.39,103.87 368.42,104.69 375.54,101.81 373.51,100.97" fill="#463cde"/>
<polygon points="393.8,102.15 395.83,101.43 402.95,98.45 400.92,99.2" fill="#4741e5"/>
<polygon points="438.46,75.53 440.49,73.74 447.61,70.48 445.58,72.28" fill="#19bfb6"/>
<polygon points="417.14,90.2 419.17,88.71 426.29,85.55 424.26,87.06" fill="#2e87f7"/>
<polygon points="368.42,104.69 370.45,105.36 377.57,102.49 375.54,101.81" fill="#4537d5"/>
<polygon points="395.83,101.43 397.85,100.57 404.97,97.57 402.95,98.45" fill="#4747eb"/>
<polygon points="370.45,105.36 372.48,105.88 379.6,103.02 377.57,102.49" fill="#4537d5"/>
<polygon points="419.17,88.71 421.2,87.17 428.32,83.98 426.29,85.55" fill="#2b91ef"/>
<polygon points="440.49,73.74 442.52,71.93 449.64,68.66 447.61,70.48" fill="#2cc4a7"/>
<polygon points="372.48,105.88 374.51,106.24 381.63,103.38 379.6,103.02" fill="#4332cb"/>
<polygon points="397.85,100.57 399.88,99.6 407,96.57 404.97,97.57" fill="#484df0"/>
<polygon points="421.2,87.17 423.23,85.57 430.35,82.37 428.32,83.98" fill="#2797eb"/>
<polygon points="442.52,71.93 444.55,70.09 451.67,66.82 449.64,68.66" fill="#37c897"/>
<polygon points="374.51,106.24 376.54,106.44 383.66,103.58 381.63,103.38" fill="#4332cb"/>
<polygon points="399.88,99.6 401.91,98.53 409.03,95.47 407,96.57" fill="#4758f8"/>
<polygon points="376.54,106.44 378.56,106.49 385.68,103.62 383.66,103.58" fill="#4332cb"/>
<polygon points="423.23,85.57 425.26,83.93 432.38,80.72 430.35,82.37" fill="#23a0e5"/>
<polygon points="444.55,70.09 446.58,68.23 453.7,64.95 451.67,66.82" fill="#4acb84"/>
<polygon points="401.91,98.53 403.94,97.35 411.06,94.28 409.03,95.47" fill="#465efb"/>
<polygon points="378.56,106.49 380.59,106.37 387.71,103.48 385.68,103.62" fill="#4537d5"/>
<polygon points="425.26,83.93 427.29,82.25 434.41,79.02 432.38,80.72" fill="#1ca9df"/>
<polygon points="446.58,68.23 448.6,66.36 455.72,63.07 453.7,64.95" fill="#64cd6f"/>
<polygon points="403.94,97.35 405.97,96.09 413.09,92.99 411.06,94.28" fill="#4269fe"/>
<polygon points="380.59,106.37 382.62,106.09 389.74,103.19 387.71,103.48" fill="#4537d5"/>
<polygon points="427.29,82.25 429.31,80.53 436.43,77.29 434.41,79.02" fill="#12b1d6"/>
<polygon points="382.62,106.09 384.65,105.67 391.77,102.74 389.74,103.19" fill="#463cde"/>
<polygon points="405.97,96.09 408,94.76 415.12,91.63 413.09,92.99" fill="#3e6fff"/>
<polygon points="448.6,66.36 450.63,64.46 457.75,61.17 455.72,63.07" fill="#8fcb4e"/>
<polygon points="384.65,105.67 386.68,105.1 393.8,102.15 391.77,102.74" fill="#4741e5"/>
<polygon points="429.31,80.53 431.34,78.78 438.46,75.53 436.43,77.29" fill="#01b8ca"/>
<polygon points="408,94.76 410.02,93.35 417.14,90.2 415.12,91.63" fill="#327cfc"/>
<polygon points="450.63,64.46 452.66,62.55 459.78,59.25 457.75,61.17" fill="#abc739"/>
<polygon points="386.68,105.1 388.71,104.4 395.83,101.43 393.8,102.15" fill="#4741e5"/>
<polygon points="431.34,78.78 433.37,77 440.49,73.74 438.46,75.53" fill="#19bfb6"/>
<polygon points="410.02,93.35 412.05,91.88 419.17,88.71 417.14,90.2" fill="#2e87f7"/>
<polygon points="388.71,104.4 390.73,103.57 397.85,100.57 395.83,101.43" fill="#4747eb"/>
<polygon points="412.05,91.88 414.08,90.35 421.2,87.17 419.17,88.71" fill="#2b91ef"/>
<polygon points="433.37,77 435.4,75.2 442.52,71.93 440.49,73.74" fill="#2cc4a7"/>
<polygon points="390.73,103.57 392.76,102.63 399.88,99.6 397.85,100.57" fill="#4852f4"/>
<polygon points="414.08,90.35 416.11,88.77 423.23,85.57 421.2,87.17" fill="#2797eb"/>
<polygon points="435.4,75.2 437.43,73.37 444.55,70.09 442.52,71.93" fill="#37c897"/>
<polygon points="392.76,102.63 394.79,101.58 401.91,98.53 399.88,99.6" fill="#4758f8"/>
<polygon points="416.11,88.77 418.14,87.14 425.26,83.93 423.23,85.57" fill="#23a0e5"/>
<polygon points="437.43,73.37 439.46,71.52 446.58,68.23 444.55,70.09" fill="#4acb84"/>
<polygon points="394.79,101.58 396.82,100.43 403.94,97.35 401.91,98.53" fill="#465efb"/>
<polygon points="418.14,87.14 420.17,85.48 427.29,82.25 425.26,83.93" fill="#1ca9df"/>
<polygon points="439.46,71.52 441.48,69.65 448.6,66.36 446.58,68.23" fill="#64cd6f"/>
<polygon points="396.82,100.43 398.85,99.2 405.97,96.09 403.94,97.35" fill="#4269fe"/>
<polygon points="420.17,85.48 422.19,83.77 429.31,80.53 427.29,82.25" fill="#12b1d6"/>
<polygon points="441.48,69.65 443.51,67.76 450.63,64.46 448.6,66.36" fill="#81cc59"/>
<polygon points="398.85,99.2 400.88,97.88 408,94.76 405.97,96.09" fill="#3e6fff"/>
<polygon points="422.19,83.77 424.22,82.03 431.34,78.78 429.31,80.53" fill="#01b8ca"/>
<polygon points="400.88,97.88 402.9,96.49 410.02,93.35 408,94.76" fill="#327cfc"/>
<polygon points="443.51,67.76 445.54,65.85 452.66,62.55 450.63,64.46" fill="#abc739"/>
<polygon points="424.22,82.03 426.25,80.26 433.37,77 431.34,78.78" fill="#0bbdbd"/>
<polygon points="402.9,96.49 404.93,95.04 412.05,91.88 410.02,93.35" fill="#2e87f7"/>
<polygon points="426.25,80.26 428.28,78.47 435.4,75.2 433.37,77" fill="#2cc4a7"/>
<polygon points="404.93,95.04 406.96,93.53 414.08,90.35 412.05,91.88" fill="#2b91ef"/>
<polygon points="406.96,93.53 408.99,91.97 416.11,88.77 414.08,90.35" fill="#2797eb"/>
<polygon points="428.28,78.47 430.31,76.65 437.43,73.37 435.4,75.2" fill="#37c897"/>
<polygon points="408.99,91.97 411.02,90.36 418.14,87.14 416.11,88.77" fill="#23a0e5"/>
<polygon points="430.31,76.65 432.34,74.8 439.46,71.52 437.43,73.37" fill="#4acb84"/>
<polygon points="411.02,90.36 413.05,88.7 420.17,85.48 418.14,87.14" fill="#1ca9df"/>
<polygon points="432.34,74.8 434.36,72.93 441.48,69.65 439.46,71.52" fill="#64cd6f"/>
<polygon points="413.05,88.7 415.07,87.01 422.19,83.77 420.17,85.48" fill="#12b1d6"/>
<polygon points="434.36,72.93 436.39,71.05 443.51,67.76 441.48,69.65" fill="#81cc59"/>
<polygon points="415.07,87.01 417.1,85.28 424.22,82.03 422.19,83.77" fill="#01b8ca"/>
<polygon points="436.39,71.05 438.42,69.15 445.54,65.85 443.51,67.76" fill="#abc739"/>
<polygon points="417.1,85.28 419.13,83.52 426.25,80.26 424.22,82.03" fill="#0bbdbd"/>
<polygon points="419.13,83.52 421.16,81.74 428.28,78.47 426.25,80.26" fill="#24c1ae"/>
<polygon points="421.16,81.74 423.19,79.92 430.31,76.65 428.28,78.47" fill="#37c897"/>
<polygon points="423.19,79.92 425.22,78.08 432.34,74.8 430.31,76.65" fill="#4acb84"/>
<polygon points="425.22,78.08 427.24,76.22 434.36,72.93 432.34,74.8" fill="#64cd6f"/>
<polygon points="427.24,76.22 429.27,74.34 436.39,71.05 434.36,72.93" fill="#81cc59"/>
<polygon points="429.27,74.34 431.3,72.45 438.42,69.15 436.39,71.05" fill="#9dc943"/>
</g>
<line x1="172.1" y1="305.4" x2="240.5" y2="261" stroke="#ebebeb" stroke-width="0.6"/>
<line x1="211.77" y1="313.9" x2="280.17" y2="269.5" stroke="#ebebeb" stroke-width="0.6"/>
<line x1="251.43" y1="322.4" x2="319.83" y2="278" stroke="#ebebeb" stroke-width="0.6"/>
<line x1="291.1" y1="330.9" x2="359.5" y2="286.5" stroke="#ebebeb" stroke-width="0.6"/>
<line x1="172.1" y1="305.4" x2="291.1" y2="330.9" stroke="#ebebeb" stroke-width="0.6"/>
<line x1="185.78" y1="296.52" x2="304.78" y2="322.02" stroke="#ebebeb" stroke-width="0.6"/>
<line x1="199.46" y1="287.64" x2="318.46" y2="313.14" stroke="#ebebeb" stroke-width="0.6"/>
<line x1="213.14" y1="278.76" x2="332.14" y2="304.26" stroke="#ebebeb" stroke-width="0.6"/>
<line x1="226.82" y1="269.88" x2="345.82" y2="295.38" stroke="#ebebeb" stroke-width="0.6"/>
<line x1="240.5" y1="261" x2="359.5" y2="286.5" stroke="#ebebeb" stroke-width="0.6"/>
<line x1="172.1" y1="305.4" x2="172.1" y2="217.4" stroke="#ebebeb" stroke-width="0.6"/>
<line x1="185.78" y1="296.52" x2="185.78" y2="208.52" stroke="#ebebeb" stroke-width="0.6"/>
<line x1="199.46" y1="287.64" x2="199.46" y2="199.64" stroke="#ebebeb" stroke-width="0.6"/>
<line x1="213.14" y1="278.76" x2="213.14" y2="190.76" stroke="#ebebeb" stroke-width="0.6"/>
<line x1="226.82" y1="269.88" x2="226.82" y2="181.88" stroke="#ebebeb" stroke-width="0.6"/>
<line x1="240.5" y1="261" x2="240.5" y2="173" stroke="#ebebeb" stroke-width="0.6"/>
<line x1="172.1" y1="305.4" x2="240.5" y2="261" stroke="#ebebeb" stroke-width="0.6"/>
<line x1="172.1" y1="283.4" x2="240.5" y2="239" stroke="#ebebeb" stroke-width="0.6"/>
<line x1="172.1" y1="261.4" x2="240.5" y2="217" stroke="#ebebeb" stroke-width="0.6"/>
<line x1="172.1" y1="239.4" x2="240.5" y2="195" stroke="#ebebeb" stroke-width="0.6"/>
<line x1="172.1" y1="217.4" x2="240.5" y2="173" stroke="#ebebeb" stroke-width="0.6"/>
<line x1="240.5" y1="261" x2="240.5" y2="173" stroke="#ebebeb" stroke-width="0.6"/>
<line x1="280.17" y1="269.5" x2="280.17" y2="181.5" stroke="#ebebeb" stroke-width="0.6"/>
<line x1="319.83" y1="278" x2="319.83" y2="190" stroke="#ebebeb" stroke-width="0.6"/>
<line x1="359.5" y1="286.5" x2="359.5" y2="198.5" stroke="#ebebeb" stroke-width="0.6"/>
<line x1="240.5" y1="261" x2="359.5" y2="286.5" stroke="#ebebeb" stroke-width="0.6"/>
<line x1="240.5" y1="239" x2="359.5" y2="264.5" stroke="#ebebeb" stroke-width="0.6"/>
<line x1="240.5" y1="217" x2="359.5" y2="242.5" stroke="#ebebeb" stroke-width="0.6"/>
<line x1="240.5" y1="195" x2="359.5" y2="220.5" stroke="#ebebeb" stroke-width="0.6"/>
<line x1="240.5" y1="173" x2="359.5" y2="198.5" stroke="#ebebeb" stroke-width="0.6"/>
<line x1="172.1" y1="305.4" x2="291.1" y2="330.9" stroke="#9a9a9a" stroke-width="0.6"/>
<line x1="291.1" y1="330.9" x2="359.5" y2="286.5" stroke="#9a9a9a" stroke-width="0.6"/>
<line x1="172.1" y1="305.4" x2="172.1" y2="217.4" stroke="#9a9a9a" stroke-width="0.6"/>
<line x1="172.1" y1="305.4" x2="174.2" y2="304.04" stroke="#9a9a9a" stroke-width="0.6"/>
<line x1="211.77" y1="313.9" x2="213.86" y2="312.54" stroke="#9a9a9a" stroke-width="0.6"/>
<line x1="251.43" y1="322.4" x2="253.53" y2="321.04" stroke="#9a9a9a" stroke-width="0.6"/>
<line x1="291.1" y1="330.9" x2="293.2" y2="329.54" stroke="#9a9a9a" stroke-width="0.6"/>
<line x1="291.1" y1="330.9" x2="288.66" y2="330.38" stroke="#9a9a9a" stroke-width="0.6"/>
<line x1="304.78" y1="322.02" x2="302.34" y2="321.5" stroke="#9a9a9a" stroke-width="0.6"/>
<line x1="318.46" y1="313.14" x2="316.02" y2="312.62" stroke="#9a9a9a" stroke-width="0.6"/>
<line x1="332.14" y1="304.26" x2="329.7" y2="303.74" stroke="#9a9a9a" stroke-width="0.6"/>
<line x1="345.82" y1="295.38" x2="343.38" y2="294.86" stroke="#9a9a9a" stroke-width="0.6"/>
<line x1="359.5" y1="286.5" x2="357.06" y2="285.98" stroke="#9a9a9a" stroke-width="0.6"/>
<line x1="172.1" y1="305.4" x2="169.6" y2="305.4" stroke="#9a9a9a" stroke-width="0.6"/>
<line x1="172.1" y1="283.4" x2="169.6" y2="283.4" stroke="#9a9a9a" stroke-width="0.6"/>
<line x1="172.1" y1="261.4" x2="169.6" y2="261.4" stroke="#9a9a9a" stroke-width="0.6"/>
<line x1="172.1" y1="239.4" x2="169.6" y2="239.4" stroke="#9a9a9a" stroke-width="0.6"/>
<line x1="172.1" y1="217.4" x2="169.6" y2="217.4" stroke="#9a9a9a" stroke-width="0.6"/>
<g stroke="#000" stroke-width="0.35" stroke-opacity="0.85" stroke-linejoin="round">
<polygon points="233.66,247.29 235.64,247.68 242.48,241.92 240.5,242.52" fill="#4269fe"/>
<polygon points="235.64,247.68 237.63,248.01 244.47,241.39 242.48,241.92" fill="#4269fe"/>
<polygon points="237.63,248.01 239.61,248.28 246.45,240.96 244.47,241.39" fill="#3e6fff"/>
<polygon points="239.61,248.28 241.59,248.49 248.43,240.63 246.45,240.96" fill="#3e6fff"/>
<polygon points="241.59,248.49 243.58,248.65 250.42,240.43 248.43,240.63" fill="#3e6fff"/>
<polygon points="243.58,248.65 245.56,248.75 252.4,240.37 250.42,240.43" fill="#3875fe"/>
<polygon points="245.56,248.75 247.54,248.8 254.38,240.46 252.4,240.37" fill="#3875fe"/>
<polygon points="247.54,248.8 249.53,248.8 256.37,240.68 254.38,240.46" fill="#3875fe"/>
<polygon points="249.53,248.8 251.51,248.76 258.35,240.98 256.37,240.68" fill="#327cfc"/>
<polygon points="226.82,252.28 228.8,252.67 235.64,247.68 233.66,247.29" fill="#4269fe"/>
<polygon points="251.51,248.76 253.49,248.67 260.33,241.28 258.35,240.98" fill="#327cfc"/>
<polygon points="228.8,252.67 230.79,253 237.63,248.01 235.64,247.68" fill="#4269fe"/>
<polygon points="253.49,248.67 255.48,248.53 262.32,241.54 260.33,241.28" fill="#327cfc"/>
<polygon points="230.79,253 232.77,253.27 239.61,248.28 237.63,248.01" fill="#4269fe"/>
<polygon points="255.48,248.53 257.46,248.36 264.3,241.69 262.32,241.54" fill="#327cfc"/>
<polygon points="232.77,253.27 234.75,253.48 241.59,248.49 239.61,248.28" fill="#4269fe"/>
<polygon points="257.46,248.36 259.44,248.15 266.28,241.69 264.3,241.69" fill="#2f81fa"/>
<polygon points="234.75,253.48 236.74,253.64 243.58,248.65 241.59,248.49" fill="#4269fe"/>
<polygon points="259.44,248.15 261.43,247.9 268.27,241.5 266.28,241.69" fill="#2f81fa"/>
<polygon points="236.74,253.64 238.72,253.75 245.56,248.75 243.58,248.65" fill="#4269fe"/>
<polygon points="261.43,247.9 263.41,247.62 270.25,240.99 268.27,241.5" fill="#2e87f7"/>
<polygon points="238.72,253.75 240.7,253.81 247.54,248.8 245.56,248.75" fill="#4269fe"/>
<polygon points="240.7,253.81 242.69,253.83 249.53,248.8 247.54,248.8" fill="#3e6fff"/>
<polygon points="263.41,247.62 265.39,246.95 272.23,239.28 270.25,240.99" fill="#2e87f7"/>
<polygon points="242.69,253.83 244.67,253.82 251.51,248.76 249.53,248.8" fill="#3e6fff"/>
<polygon points="265.39,246.95 267.38,245.65 274.22,236.73 272.23,239.28" fill="#2b91ef"/>
<polygon points="244.67,253.82 246.65,253.77 253.49,248.67 251.51,248.76" fill="#3e6fff"/>
<polygon points="219.98,256.72 221.96,257.07 228.8,252.67 226.82,252.28" fill="#4563fd"/>
<polygon points="246.65,253.77 248.64,253.69 255.48,248.53 253.49,248.67" fill="#3875fe"/>
<polygon points="221.96,257.07 223.95,257.38 230.79,253 228.8,252.67" fill="#4563fd"/>
<polygon points="267.38,245.65 269.36,243.86 276.2,233.97 274.22,236.73" fill="#259be8"/>
<polygon points="248.64,253.69 250.62,253.59 257.46,248.36 255.48,248.53" fill="#3875fe"/>
<polygon points="223.95,257.38 225.93,257.65 232.77,253.27 230.79,253" fill="#4563fd"/>
<polygon points="269.36,243.86 271.34,241.75 278.18,230.65 276.2,233.97" fill="#20a5e3"/>
<polygon points="225.93,257.65 227.91,257.88 234.75,253.48 232.77,253.27" fill="#4269fe"/>
<polygon points="250.62,253.59 252.6,253.46 259.44,248.15 257.46,248.36" fill="#327cfc"/>
<polygon points="227.91,257.88 229.9,258.07 236.74,253.64 234.75,253.48" fill="#4269fe"/>
<polygon points="252.6,253.46 254.59,253.32 261.43,247.9 259.44,248.15" fill="#327cfc"/>
<polygon points="229.9,258.07 231.88,258.23 238.72,253.75 236.74,253.64" fill="#4269fe"/>
<polygon points="271.34,241.75 273.33,239.46 280.17,227.08 278.18,230.65" fill="#18addb"/>
<polygon points="254.59,253.32 256.57,253.16 263.41,247.62 261.43,247.9" fill="#327cfc"/>
<polygon points="231.88,258.23 233.86,258.36 240.7,253.81 238.72,253.75" fill="#4269fe"/>
<polygon points="256.57,253.16 258.55,252.83 265.39,246.95 263.41,247.62" fill="#2f81fa"/>
<polygon points="233.86,258.36 235.85,258.46 242.69,253.83 240.7,253.81" fill="#4269fe"/>
<polygon points="273.33,239.46 275.31,237.15 282.15,223.85 280.17,227.08" fill="#08b5d0"/>
<polygon points="258.55,252.83 260.54,252.22 267.38,245.65 265.39,246.95" fill="#2e87f7"/>
<polygon points="235.85,258.46 237.83,258.54 244.67,253.82 242.69,253.83" fill="#3e6fff"/>
<polygon points="275.31,237.15 277.29,234.98 284.13,220.66 282.15,223.85" fill="#0bbdbd"/>
<polygon points="237.83,258.54 239.81,258.6 246.65,253.77 244.67,253.82" fill="#3e6fff"/>
<polygon points="260.54,252.22 262.52,251.37 269.36,243.86 267.38,245.65" fill="#2d8cf3"/>
<polygon points="213.14,261.16 215.12,261.39 221.96,257.07 219.98,256.72" fill="#4563fd"/>
<polygon points="239.81,258.6 241.8,258.64 248.64,253.69 246.65,253.77" fill="#3e6fff"/>
<polygon points="215.12,261.39 217.11,261.62 223.95,257.38 221.96,257.07" fill="#4563fd"/>
<polygon points="262.52,251.37 264.5,250.35 271.34,241.75 269.36,243.86" fill="#2b91ef"/>
<polygon points="277.29,234.98 279.28,233.09 286.12,217.82 284.13,220.66" fill="#24c1ae"/>
<polygon points="241.8,258.64 243.78,258.67 250.62,253.59 248.64,253.69" fill="#3875fe"/>
<polygon points="217.11,261.62 219.09,261.85 225.93,257.65 223.95,257.38" fill="#4269fe"/>
<polygon points="243.78,258.67 245.76,258.69 252.6,253.46 250.62,253.59" fill="#3875fe"/>
<polygon points="264.5,250.35 266.49,249.19 273.33,239.46 271.34,241.75" fill="#259be8"/>
<polygon points="219.09,261.85 221.07,262.07 227.91,257.88 225.93,257.65" fill="#4269fe"/>
<polygon points="279.28,233.09 281.26,231.64 288.1,215.69 286.12,217.82" fill="#2cc4a7"/>
<polygon points="245.76,258.69 247.75,258.69 254.59,253.32 252.6,253.46" fill="#3875fe"/>
<polygon points="221.07,262.07 223.06,262.28 229.9,258.07 227.91,257.88" fill="#4269fe"/>
<polygon points="266.49,249.19 268.47,247.96 275.31,237.15 273.33,239.46" fill="#23a0e5"/>
<polygon points="281.26,231.64 283.24,230.41 290.08,214 288.1,215.69" fill="#31c69f"/>
<polygon points="247.75,258.69 249.73,258.69 256.57,253.16 254.59,253.32" fill="#327cfc"/>
<polygon points="223.06,262.28 225.04,262.49 231.88,258.23 229.9,258.07" fill="#4269fe"/>
<polygon points="225.04,262.49 227.02,262.7 233.86,258.36 231.88,258.23" fill="#4269fe"/>
<polygon points="249.73,258.69 251.71,258.63 258.55,252.83 256.57,253.16" fill="#327cfc"/>
<polygon points="268.47,247.96 270.45,246.69 277.29,234.98 275.31,237.15" fill="#1ca9df"/>
<polygon points="283.24,230.41 285.23,229.11 292.07,212.59 290.08,214" fill="#37c897"/>
<polygon points="227.02,262.7 229.01,262.9 235.85,258.46 233.86,258.36" fill="#4269fe"/>
<polygon points="251.71,258.63 253.7,258.43 260.54,252.22 258.55,252.83" fill="#2f81fa"/>
<polygon points="270.45,246.69 272.44,245.45 279.28,233.09 277.29,234.98" fill="#18addb"/>
<polygon points="285.23,229.11 287.21,227.83 294.05,211.38 292.07,212.59" fill="#3fca8e"/>
<polygon points="229.01,262.9 230.99,263.1 237.83,258.54 235.85,258.46" fill="#3e6fff"/>
<polygon points="253.7,258.43 255.68,258.14 262.52,251.37 260.54,252.22" fill="#2f81fa"/>
<polygon points="230.99,263.1 232.97,263.3 239.81,258.6 237.83,258.54" fill="#3e6fff"/>
<polygon points="287.21,227.83 289.19,226.63 296.03,210.32 294.05,211.38" fill="#4acb84"/>
<polygon points="272.44,245.45 274.42,244.29 281.26,231.64 279.28,233.09" fill="#08b5d0"/>
<polygon points="206.3,265.6 208.28,265.65 215.12,261.39 213.14,261.16" fill="#4563fd"/>
<polygon points="255.68,258.14 257.66,257.78 264.5,250.35 262.52,251.37" fill="#2e87f7"/>
<polygon points="232.97,263.3 234.96,263.49 241.8,258.64 239.81,258.6" fill="#3e6fff"/>
<polygon points="208.28,265.65 210.27,265.7 217.11,261.62 215.12,261.39" fill="#4269fe"/>
<polygon points="289.19,226.63 291.18,225.59 298.02,209.17 296.03,210.32" fill="#57cc7a"/>
<polygon points="274.42,244.29 276.4,243.25 283.24,230.41 281.26,231.64" fill="#01b8ca"/>
<polygon points="257.66,257.78 259.65,257.36 266.49,249.19 264.5,250.35" fill="#2d8cf3"/>
<polygon points="234.96,263.49 236.94,263.68 243.78,258.67 241.8,258.64" fill="#3e6fff"/>
<polygon points="210.27,265.7 212.25,265.76 219.09,261.85 217.11,261.62" fill="#4269fe"/>
<polygon points="236.94,263.68 238.92,263.87 245.76,258.69 243.78,258.67" fill="#3e6fff"/>
<polygon points="291.18,225.59 293.16,224.78 300,208.03 298.02,209.17" fill="#57cc7a"/>
<polygon points="276.4,243.25 278.39,242.39 285.23,229.11 283.24,230.41" fill="#02bac3"/>
<polygon points="259.65,257.36 261.63,256.91 268.47,247.96 266.49,249.19" fill="#2b91ef"/>
<polygon points="212.25,265.76 214.23,265.81 221.07,262.07 219.09,261.85" fill="#4269fe"/>
<polygon points="238.92,263.87 240.91,264.05 247.75,258.69 245.76,258.69" fill="#3875fe"/>
<polygon points="293.16,224.78 295.14,224.28 301.98,207.14 300,208.03" fill="#64cd6f"/>
<polygon points="214.23,265.81 216.22,265.87 223.06,262.28 221.07,262.07" fill="#4269fe"/>
<polygon points="261.63,256.91 263.61,256.46 270.45,246.69 268.47,247.96" fill="#2797eb"/>
<polygon points="278.39,242.39 280.37,241.76 287.21,227.83 285.23,229.11" fill="#0bbdbd"/>
<polygon points="240.91,264.05 242.89,264.24 249.73,258.69 247.75,258.69" fill="#3875fe"/>
<polygon points="216.22,265.87 218.2,265.92 225.04,262.49 223.06,262.28" fill="#4269fe"/>
<polygon points="295.14,224.28 297.13,224.16 303.97,206.71 301.98,207.14" fill="#64cd6f"/>
<polygon points="263.61,256.46 265.6,256.04 272.44,245.45 270.45,246.69" fill="#259be8"/>
<polygon points="280.37,241.76 282.35,241.21 289.19,226.63 287.21,227.83" fill="#0bbdbd"/>
<polygon points="242.89,264.24 244.87,264.39 251.71,258.63 249.73,258.69" fill="#3875fe"/>
<polygon points="218.2,265.92 220.18,265.98 227.02,262.7 225.04,262.49" fill="#3e6fff"/>
<polygon points="297.13,224.16 299.11,224.5 305.95,206.98 303.97,206.71" fill="#64cd6f"/>
<polygon points="244.87,264.39 246.86,264.5 253.7,258.43 251.71,258.63" fill="#327cfc"/>
<polygon points="265.6,256.04 267.58,255.65 274.42,244.29 272.44,245.45" fill="#259be8"/>
<polygon points="282.35,241.21 284.34,240.64 291.18,225.59 289.19,226.63" fill="#19bfb6"/>
<polygon points="299.11,224.5 301.09,225.47 307.93,208.1 305.95,206.98" fill="#64cd6f"/>
<polygon points="220.18,265.98 222.17,266.04 229.01,262.9 227.02,262.7" fill="#3e6fff"/>
<polygon points="301.09,225.47 303.08,227.01 309.92,209.81 307.93,208.1" fill="#64cd6f"/>
<polygon points="246.86,264.5 248.84,264.58 255.68,258.14 253.7,258.43" fill="#327cfc"/>
<polygon points="303.08,227.01 305.06,229.01 311.9,211.83 309.92,209.81" fill="#57cc7a"/>
<polygon points="267.58,255.65 269.56,255.33 276.4,243.25 274.42,244.29" fill="#23a0e5"/>
<polygon points="222.17,266.04 224.15,266.11 230.99,263.1 229.01,262.9" fill="#3e6fff"/>
<polygon points="284.34,240.64 286.32,240.14 293.16,224.78 291.18,225.59" fill="#24c1ae"/>
<polygon points="312.99,239.09 314.98,241.53 321.82,230.25 319.83,226.68" fill="#19bfb6"/>
<polygon points="311.01,236.5 312.99,239.09 319.83,226.68 317.85,222.55" fill="#24c1ae"/>
<polygon points="314.98,241.53 316.96,243.69 323.8,233.34 321.82,230.25" fill="#02bac3"/>
<polygon points="309.03,233.87 311.01,236.5 317.85,222.55 315.87,218.68" fill="#31c69f"/>
<polygon points="305.06,229.01 307.04,231.34 313.88,214.93 311.9,211.83" fill="#4acb84"/>
<polygon points="307.04,231.34 309.03,233.87 315.87,218.68 313.88,214.93" fill="#37c897"/>
<polygon points="316.96,243.69 318.94,245.65 325.78,236.22 323.8,233.34" fill="#01b8ca"/>
<polygon points="318.94,245.65 320.93,247.58 327.77,239.05 325.78,236.22" fill="#08b5d0"/>
<polygon points="248.84,264.58 250.82,264.64 257.66,257.78 255.68,258.14" fill="#327cfc"/>
<polygon points="320.93,247.58 322.91,249.48 329.75,242.01 327.77,239.05" fill="#12b1d6"/>
<polygon points="224.15,266.11 226.13,266.17 232.97,263.3 230.99,263.1" fill="#3e6fff"/>
<polygon points="322.91,249.48 324.89,251.37 331.73,244.92 329.75,242.01" fill="#1ca9df"/>
<polygon points="269.56,255.33 271.55,255.11 278.39,242.39 276.4,243.25" fill="#20a5e3"/>
<polygon points="324.89,251.37 326.88,253.24 333.72,247.48 331.73,244.92" fill="#20a5e3"/>
<polygon points="199.46,271.14 201.44,270.78 208.28,265.65 206.3,265.6" fill="#4563fd"/>
<polygon points="286.32,240.14 288.3,239.78 295.14,224.28 293.16,224.78" fill="#24c1ae"/>
<polygon points="326.88,253.24 328.86,255.1 335.7,249.44 333.72,247.48" fill="#23a0e5"/>
<polygon points="250.82,264.64 252.81,264.7 259.65,257.36 257.66,257.78" fill="#2f81fa"/>
<polygon points="226.13,266.17 228.12,266.23 234.96,263.49 232.97,263.3" fill="#3875fe"/>
<polygon points="328.86,255.1 330.84,256.96 337.68,251.03 335.7,249.44" fill="#259be8"/>
<polygon points="201.44,270.78 203.43,270.42 210.27,265.7 208.28,265.65" fill="#4269fe"/>
<polygon points="288.3,239.78 290.29,239.68 297.13,224.16 295.14,224.28" fill="#2cc4a7"/>
<polygon points="271.55,255.11 273.53,255 280.37,241.76 278.39,242.39" fill="#1ca9df"/>
<polygon points="330.84,256.96 332.83,258.83 339.67,252.56 337.68,251.03" fill="#2797eb"/>
<polygon points="252.81,264.7 254.79,264.77 261.63,256.91 259.65,257.36" fill="#2f81fa"/>
<polygon points="332.83,258.83 334.81,260.72 341.65,254.34 339.67,252.56" fill="#2b91ef"/>
<polygon points="228.12,266.23 230.1,266.3 236.94,263.68 234.96,263.49" fill="#3875fe"/>
<polygon points="334.81,260.72 336.79,262.61 343.63,256.84 341.65,254.34" fill="#2d8cf3"/>
<polygon points="290.29,239.68 292.27,239.9 299.11,224.5 297.13,224.16" fill="#2cc4a7"/>
<polygon points="203.43,270.42 205.41,270.04 212.25,265.76 210.27,265.7" fill="#4269fe"/>
<polygon points="336.79,262.61 338.78,264.5 345.62,260.29 343.63,256.84" fill="#2f81fa"/>
<polygon points="273.53,255 275.51,254.93 282.35,241.21 280.37,241.76" fill="#1ca9df"/>
<polygon points="338.78,264.5 340.76,266.39 347.6,264.03 345.62,260.29" fill="#327cfc"/>
<polygon points="340.76,266.39 342.74,268.28 349.58,267.35 347.6,264.03" fill="#3e6fff"/>
<polygon points="342.74,268.28 344.73,270.17 351.57,269.78 349.58,267.35" fill="#4269fe"/>
<polygon points="254.79,264.77 256.77,264.85 263.61,256.46 261.63,256.91" fill="#2f81fa"/>
<polygon points="230.1,266.3 232.08,266.34 238.92,263.87 236.94,263.68" fill="#3875fe"/>
<polygon points="344.73,270.17 346.71,272.06 353.55,272.01 351.57,269.78" fill="#465efb"/>
<polygon points="292.27,239.9 294.25,240.49 301.09,225.47 299.11,224.5" fill="#2cc4a7"/>
<polygon points="205.41,270.04 207.39,269.66 214.23,265.81 212.25,265.76" fill="#4269fe"/>
<polygon points="346.71,272.06 348.69,273.96 355.53,273.66 353.55,272.01" fill="#4758f8"/>
<polygon points="275.51,254.93 277.5,254.86 284.34,240.64 282.35,241.21" fill="#1ca9df"/>
<polygon points="294.25,240.49 296.24,241.37 303.08,227.01 301.09,225.47" fill="#2cc4a7"/>
<polygon points="232.08,266.34 234.07,266.35 240.91,264.05 238.92,263.87" fill="#3875fe"/>
<polygon points="256.77,264.85 258.76,264.97 265.6,256.04 263.61,256.46" fill="#2f81fa"/>
<polygon points="348.69,273.96 350.68,275.85 357.52,274.3 355.53,273.66" fill="#4852f4"/>
<polygon points="296.24,241.37 298.22,242.48 305.06,229.01 303.08,227.01" fill="#24c1ae"/>
<polygon points="207.39,269.66 209.38,269.27 216.22,265.87 214.23,265.81" fill="#3e6fff"/>
<polygon points="350.68,275.85 352.66,277.74 359.5,274.4 357.52,274.3" fill="#4852f4"/>
<polygon points="277.5,254.86 279.48,254.82 286.32,240.14 284.34,240.64" fill="#18addb"/>
<polygon points="234.07,266.35 236.05,266.32 242.89,264.24 240.91,264.05" fill="#3875fe"/>
<polygon points="298.22,242.48 300.2,243.78 307.04,231.34 305.06,229.01" fill="#19bfb6"/>
<polygon points="258.76,264.97 260.74,265.14 267.58,255.65 265.6,256.04" fill="#2e87f7"/>
<polygon points="300.2,243.78 302.19,245.23 309.03,233.87 307.04,231.34" fill="#0bbdbd"/>
<polygon points="209.38,269.27 211.36,268.87 218.2,265.92 216.22,265.87" fill="#3e6fff"/>
<polygon points="302.19,245.23 304.17,246.76 311.01,236.5 309.03,233.87" fill="#02bac3"/>
<polygon points="279.48,254.82 281.46,254.86 288.3,239.78 286.32,240.14" fill="#18addb"/>
<polygon points="236.05,266.32 238.03,266.28 244.87,264.39 242.89,264.24" fill="#327cfc"/>
<polygon points="304.17,246.76 306.15,248.34 312.99,239.09 311.01,236.5" fill="#01b8ca"/>
<polygon points="260.74,265.14 262.72,265.36 269.56,255.33 267.58,255.65" fill="#2e87f7"/>
<polygon points="306.15,248.34 308.14,249.91 314.98,241.53 312.99,239.09" fill="#08b5d0"/>
<polygon points="308.14,249.91 310.12,251.43 316.96,243.69 314.98,241.53" fill="#12b1d6"/>
<polygon points="211.36,268.87 213.34,268.47 220.18,265.98 218.2,265.92" fill="#3875fe"/>
<polygon points="238.03,266.28 240.02,266.25 246.86,264.5 244.87,264.39" fill="#327cfc"/>
<polygon points="281.46,254.86 283.45,255.02 290.29,239.68 288.3,239.78" fill="#12b1d6"/>
<polygon points="262.72,265.36 264.71,265.66 271.55,255.11 269.56,255.33" fill="#2e87f7"/>
<polygon points="310.12,251.43 312.1,252.98 318.94,245.65 316.96,243.69" fill="#18addb"/>
<polygon points="312.1,252.98 314.09,254.65 320.93,247.58 318.94,245.65" fill="#1ca9df"/>
<polygon points="213.34,268.47 215.33,268.06 222.17,266.04 220.18,265.98" fill="#3875fe"/>
<polygon points="283.45,255.02 285.43,255.34 292.27,239.9 290.29,239.68" fill="#12b1d6"/>
<polygon points="240.02,266.25 242,266.22 248.84,264.58 246.86,264.5" fill="#327cfc"/>
<polygon points="314.09,254.65 316.07,256.43 322.91,249.48 320.93,247.58" fill="#1ca9df"/>
<polygon points="264.71,265.66 266.69,266.04 273.53,255 271.55,255.11" fill="#2f81fa"/>
<polygon points="316.07,256.43 318.05,258.27 324.89,251.37 322.91,249.48" fill="#20a5e3"/>
<polygon points="318.05,258.27 320.04,260.15 326.88,253.24 324.89,251.37" fill="#259be8"/>
<polygon points="285.43,255.34 287.41,255.87 294.25,240.49 292.27,239.9" fill="#12b1d6"/>
<polygon points="215.33,268.06 217.31,267.64 224.15,266.11 222.17,266.04" fill="#327cfc"/>
<polygon points="242,266.22 243.98,266.22 250.82,264.64 248.84,264.58" fill="#2f81fa"/>
<polygon points="266.69,266.04 268.67,266.46 275.51,254.93 273.53,255" fill="#2f81fa"/>
<polygon points="320.04,260.15 322.02,262.03 328.86,255.1 326.88,253.24" fill="#2797eb"/>
<polygon points="192.62,276.68 194.6,274.6 201.44,270.78 199.46,271.14" fill="#4563fd"/>
<polygon points="322.02,262.03 324,263.88 330.84,256.96 328.86,255.1" fill="#2b91ef"/>
<polygon points="287.41,255.87 289.4,256.56 296.24,241.37 294.25,240.49" fill="#12b1d6"/>
<polygon points="243.98,266.22 245.97,266.25 252.81,264.7 250.82,264.64" fill="#2f81fa"/>
<polygon points="324,263.88 325.99,265.66 332.83,258.83 330.84,256.96" fill="#2d8cf3"/>
<polygon points="217.31,267.64 219.29,267.21 226.13,266.17 224.15,266.11" fill="#327cfc"/>
<polygon points="268.67,266.46 270.66,266.88 277.5,254.86 275.51,254.93" fill="#2f81fa"/>
<polygon points="289.4,256.56 291.38,257.4 298.22,242.48 296.24,241.37" fill="#18addb"/>
<polygon points="325.99,265.66 327.97,267.36 334.81,260.72 332.83,258.83" fill="#2e87f7"/>
<polygon points="194.6,274.6 196.59,272.67 203.43,270.42 201.44,270.78" fill="#4269fe"/>
<polygon points="327.97,267.36 329.95,268.98 336.79,262.61 334.81,260.72" fill="#2f81fa"/>
<polygon points="245.97,266.25 247.95,266.33 254.79,264.77 252.81,264.7" fill="#2f81fa"/>
<polygon points="291.38,257.4 293.36,258.34 300.2,243.78 298.22,242.48" fill="#18addb"/>
<polygon points="270.66,266.88 272.64,267.31 279.48,254.82 277.5,254.86" fill="#327cfc"/>
<polygon points="219.29,267.21 221.28,266.78 228.12,266.23 226.13,266.17" fill="#327cfc"/>
<polygon points="329.95,268.98 331.94,270.58 338.78,264.5 336.79,262.61" fill="#327cfc"/>
<polygon points="293.36,258.34 295.35,259.36 302.19,245.23 300.2,243.78" fill="#1ca9df"/>
<polygon points="331.94,270.58 333.92,272.16 340.76,266.39 338.78,264.5" fill="#3875fe"/>
<polygon points="247.95,266.33 249.93,266.48 256.77,264.85 254.79,264.77" fill="#2f81fa"/>
<polygon points="272.64,267.31 274.62,267.74 281.46,254.86 279.48,254.82" fill="#327cfc"/>
<polygon points="196.59,272.67 198.57,270.93 205.41,270.04 203.43,270.42" fill="#3e6fff"/>
<polygon points="333.92,272.16 335.9,273.71 342.74,268.28 340.76,266.39" fill="#3875fe"/>
<polygon points="221.28,266.78 223.26,266.34 230.1,266.3 228.12,266.23" fill="#2f81fa"/>
<polygon points="295.35,259.36 297.33,260.43 304.17,246.76 302.19,245.23" fill="#1ca9df"/>
<polygon points="335.9,273.71 337.89,275.24 344.73,270.17 342.74,268.28" fill="#3e6fff"/>
<polygon points="297.33,260.43 299.31,261.51 306.15,248.34 304.17,246.76" fill="#20a5e3"/>
<polygon points="274.62,267.74 276.61,268.16 283.45,255.02 281.46,254.86" fill="#327cfc"/>
<polygon points="249.93,266.48 251.92,266.71 258.76,264.97 256.77,264.85" fill="#2f81fa"/>
<polygon points="337.89,275.24 339.87,276.74 346.71,272.06 344.73,270.17" fill="#4269fe"/>
<polygon points="223.26,266.34 225.24,265.82 232.08,266.34 230.1,266.3" fill="#2f81fa"/>
<polygon points="299.31,261.51 301.3,262.56 308.14,249.91 306.15,248.34" fill="#20a5e3"/>
<polygon points="198.57,270.93 200.55,269.4 207.39,269.66 205.41,270.04" fill="#3875fe"/>
<polygon points="339.87,276.74 341.85,278.22 348.69,273.96 346.71,272.06" fill="#4563fd"/>
<polygon points="276.61,268.16 278.59,268.58 285.43,255.34 283.45,255.02" fill="#327cfc"/>
<polygon points="251.92,266.71 253.9,267.02 260.74,265.14 258.76,264.97" fill="#2e87f7"/>
<polygon points="341.85,278.22 343.84,279.66 350.68,275.85 348.69,273.96" fill="#465efb"/>
<polygon points="301.3,262.56 303.28,263.57 310.12,251.43 308.14,249.91" fill="#23a0e5"/>
<polygon points="225.24,265.82 227.23,265.17 234.07,266.35 232.08,266.34" fill="#2e87f7"/>
<polygon points="343.84,279.66 345.82,281.08 352.66,277.74 350.68,275.85" fill="#4758f8"/>
<polygon points="303.28,263.57 305.26,264.54 312.1,252.98 310.12,251.43" fill="#23a0e5"/>
<polygon points="278.59,268.58 280.57,269.01 287.41,255.87 285.43,255.34" fill="#327cfc"/>
<polygon points="200.55,269.4 202.54,268.12 209.38,269.27 207.39,269.66" fill="#327cfc"/>
<polygon points="253.9,267.02 255.88,267.43 262.72,265.36 260.74,265.14" fill="#2e87f7"/>
<polygon points="305.26,264.54 307.25,265.52 314.09,254.65 312.1,252.98" fill="#259be8"/>
<polygon points="227.23,265.17 229.21,264.43 236.05,266.32 234.07,266.35" fill="#2e87f7"/>
<polygon points="280.57,269.01 282.56,269.44 289.4,256.56 287.41,255.87" fill="#327cfc"/>
<polygon points="255.88,267.43 257.87,267.85 264.71,265.66 262.72,265.36" fill="#2e87f7"/>
<polygon points="307.25,265.52 309.23,266.52 316.07,256.43 314.09,254.65" fill="#2797eb"/>
<polygon points="202.54,268.12 204.52,267.13 211.36,268.87 209.38,269.27" fill="#2f81fa"/>
<polygon points="309.23,266.52 311.21,267.53 318.05,258.27 316.07,256.43" fill="#2797eb"/>
<polygon points="282.56,269.44 284.54,269.86 291.38,257.4 289.4,256.56" fill="#327cfc"/>
<polygon points="257.87,267.85 259.85,268.28 266.69,266.04 264.71,265.66" fill="#2e87f7"/>
<polygon points="229.21,264.43 231.19,263.64 238.03,266.28 236.05,266.32" fill="#2d8cf3"/>
<polygon points="311.21,267.53 313.2,268.56 320.04,260.15 318.05,258.27" fill="#2b91ef"/>
<polygon points="284.54,269.86 286.52,270.29 293.36,258.34 291.38,257.4" fill="#327cfc"/>
<polygon points="204.52,267.13 206.5,266.44 213.34,268.47 211.36,268.87" fill="#2e87f7"/>
<polygon points="313.2,268.56 315.18,269.61 322.02,262.03 320.04,260.15" fill="#2d8cf3"/>
<polygon points="259.85,268.28 261.83,268.7 268.67,266.46 266.69,266.04" fill="#2e87f7"/>
<polygon points="231.19,263.64 233.18,262.85 240.02,266.25 238.03,266.28" fill="#2b91ef"/>
<polygon points="315.18,269.61 317.16,270.68 324,263.88 322.02,262.03" fill="#2d8cf3"/>
<polygon points="286.52,270.29 288.51,270.71 295.35,259.36 293.36,258.34" fill="#2f81fa"/>
<polygon points="185.78,281.12 187.76,281.25 194.6,274.6 192.62,276.68" fill="#465efb"/>
<polygon points="261.83,268.7 263.82,269.12 270.66,266.88 268.67,266.46" fill="#2e87f7"/>
<polygon points="317.16,270.68 319.15,271.77 325.99,265.66 324,263.88" fill="#2e87f7"/>
<polygon points="206.5,266.44 208.49,265.96 215.33,268.06 213.34,268.47" fill="#2e87f7"/>
<polygon points="288.51,270.71 290.49,271.13 297.33,260.43 295.35,259.36" fill="#2f81fa"/>
<polygon points="319.15,271.77 321.13,272.89 327.97,267.36 325.99,265.66" fill="#2f81fa"/>
<polygon points="233.18,262.85 235.16,262.09 242,266.22 240.02,266.25" fill="#2b91ef"/>
<polygon points="263.82,269.12 265.8,269.55 272.64,267.31 270.66,266.88" fill="#2f81fa"/>
<polygon points="290.49,271.13 292.47,271.4 299.31,261.51 297.33,260.43" fill="#2f81fa"/>
<polygon points="321.13,272.89 323.11,274.05 329.95,268.98 327.97,267.36" fill="#327cfc"/>
<polygon points="187.76,281.25 189.75,280.89 196.59,272.67 194.6,274.6" fill="#4563fd"/>
<polygon points="208.49,265.96 210.47,265.59 217.31,267.64 215.33,268.06" fill="#2d8cf3"/>
<polygon points="323.11,274.05 325.1,275.24 331.94,270.58 329.95,268.98" fill="#327cfc"/>
<polygon points="235.16,262.09 237.14,261.4 243.98,266.22 242,266.22" fill="#2797eb"/>
<polygon points="265.8,269.55 267.78,269.87 274.62,267.74 272.64,267.31" fill="#2f81fa"/>
<polygon points="292.47,271.4 294.46,271.41 301.3,262.56 299.31,261.51" fill="#2e87f7"/>
<polygon points="325.1,275.24 327.08,276.47 333.92,272.16 331.94,270.58" fill="#3875fe"/>
<polygon points="210.47,265.59 212.45,265.24 219.29,267.21 217.31,267.64" fill="#2b91ef"/>
<polygon points="189.75,280.89 191.73,280.19 198.57,270.93 196.59,272.67" fill="#3e6fff"/>
<polygon points="267.78,269.87 269.77,270.03 276.61,268.16 274.62,267.74" fill="#2f81fa"/>
<polygon points="294.46,271.41 296.44,271.31 303.28,263.57 301.3,262.56" fill="#2e87f7"/>
<polygon points="327.08,276.47 329.06,277.72 335.9,273.71 333.92,272.16" fill="#3e6fff"/>
<polygon points="237.14,261.4 239.13,260.82 245.97,266.25 243.98,266.22" fill="#2797eb"/>
<polygon points="329.06,277.72 331.05,279.01 337.89,275.24 335.9,273.71" fill="#3e6fff"/>
<polygon points="212.45,265.24 214.44,264.8 221.28,266.78 219.29,267.21" fill="#2b91ef"/>
<polygon points="269.77,270.03 271.75,270.05 278.59,268.58 276.61,268.16" fill="#2e87f7"/>
<polygon points="296.44,271.31 298.42,271.21 305.26,264.54 303.28,263.57" fill="#2e87f7"/>
<polygon points="331.05,279.01 333.03,280.32 339.87,276.74 337.89,275.24" fill="#4269fe"/>
<polygon points="239.13,260.82 241.11,260.4 247.95,266.33 245.97,266.25" fill="#259be8"/>
<polygon points="191.73,280.19 193.71,277.2 200.55,269.4 198.57,270.93" fill="#3875fe"/>
<polygon points="333.03,280.32 335.01,281.66 341.85,278.22 339.87,276.74" fill="#4563fd"/>
<polygon points="298.42,271.21 300.41,271.22 307.25,265.52 305.26,264.54" fill="#2d8cf3"/>
<polygon points="271.75,270.05 273.73,270.01 280.57,269.01 278.59,268.58" fill="#2e87f7"/>
<polygon points="214.44,264.8 216.42,264.18 223.26,266.34 221.28,266.78" fill="#2797eb"/>
<polygon points="335.01,281.66 337,283.03 343.84,279.66 341.85,278.22" fill="#465efb"/>
<polygon points="241.11,260.4 243.09,260.16 249.93,266.48 247.95,266.33" fill="#259be8"/>
<polygon points="300.41,271.22 302.39,271.49 309.23,266.52 307.25,265.52" fill="#2d8cf3"/>
<polygon points="273.73,270.01 275.72,269.94 282.56,269.44 280.57,269.01" fill="#2e87f7"/>
<polygon points="337,283.03 338.98,284.42 345.82,281.08 343.84,279.66" fill="#465efb"/>
<polygon points="216.42,264.18 218.4,263.38 225.24,265.82 223.26,266.34" fill="#259be8"/>
<polygon points="243.09,260.16 245.08,260.17 251.92,266.71 249.93,266.48" fill="#259be8"/>
<polygon points="302.39,271.49 304.37,272 311.21,267.53 309.23,266.52" fill="#2d8cf3"/>
<polygon points="193.71,277.2 195.7,271.88 202.54,268.12 200.55,269.4" fill="#2e87f7"/>
<polygon points="275.72,269.94 277.7,269.9 284.54,269.86 282.56,269.44" fill="#2e87f7"/>
<polygon points="304.37,272 306.36,272.68 313.2,268.56 311.21,267.53" fill="#2e87f7"/>
<polygon points="245.08,260.17 247.06,260.44 253.9,267.02 251.92,266.71" fill="#23a0e5"/>
<polygon points="218.4,263.38 220.39,262.43 227.23,265.17 225.24,265.82" fill="#259be8"/>
<polygon points="277.7,269.9 279.68,269.78 286.52,270.29 284.54,269.86" fill="#2d8cf3"/>
<polygon points="306.36,272.68 308.34,273.48 315.18,269.61 313.2,268.56" fill="#2e87f7"/>
<polygon points="247.06,260.44 249.04,261.19 255.88,267.43 253.9,267.02" fill="#23a0e5"/>
<polygon points="195.7,271.88 197.68,267.31 204.52,267.13 202.54,268.12" fill="#2b91ef"/>
<polygon points="308.34,273.48 310.32,274.36 317.16,270.68 315.18,269.61" fill="#2e87f7"/>
<polygon points="279.68,269.78 281.67,269.5 288.51,270.71 286.52,270.29" fill="#2d8cf3"/>
<polygon points="220.39,262.43 222.37,261.24 229.21,264.43 227.23,265.17" fill="#23a0e5"/>
<polygon points="249.04,261.19 251.03,262.43 257.87,267.85 255.88,267.43" fill="#259be8"/>
<polygon points="310.32,274.36 312.31,275.29 319.15,271.77 317.16,270.68" fill="#2f81fa"/>
<polygon points="178.94,283.91 180.92,284.12 187.76,281.25 185.78,281.12" fill="#465efb"/>
<polygon points="251.03,262.43 253.01,263.92 259.85,268.28 257.87,267.85" fill="#259be8"/>
<polygon points="281.67,269.5 283.65,269.19 290.49,271.13 288.51,270.71" fill="#2d8cf3"/>
<polygon points="312.31,275.29 314.29,276.24 321.13,272.89 319.15,271.77" fill="#2f81fa"/>
<polygon points="222.37,261.24 224.35,259.72 231.19,263.64 229.21,264.43" fill="#20a5e3"/>
<polygon points="197.68,267.31 199.66,265.83 206.5,266.44 204.52,267.13" fill="#259be8"/>
<polygon points="253.01,263.92 254.99,265.4 261.83,268.7 259.85,268.28" fill="#259be8"/>
<polygon points="180.92,284.12 182.91,283.96 189.75,280.89 187.76,281.25" fill="#4563fd"/>
<polygon points="314.29,276.24 316.27,277.22 323.11,274.05 321.13,272.89" fill="#2f81fa"/>
<polygon points="283.65,269.19 285.63,268.96 292.47,271.4 290.49,271.13" fill="#2b91ef"/>
<polygon points="254.99,265.4 256.98,266.64 263.82,269.12 261.83,268.7" fill="#2797eb"/>
<polygon points="316.27,277.22 318.26,278.31 325.1,275.24 323.11,274.05" fill="#327cfc"/>
<polygon points="199.66,265.83 201.65,265.32 208.49,265.96 206.5,266.44" fill="#23a0e5"/>
<polygon points="182.91,283.96 184.89,283.53 191.73,280.19 189.75,280.89" fill="#4269fe"/>
<polygon points="224.35,259.72 226.34,257.3 233.18,262.85 231.19,263.64" fill="#18addb"/>
<polygon points="285.63,268.96 287.62,268.91 294.46,271.41 292.47,271.4" fill="#2b91ef"/>
<polygon points="256.98,266.64 258.96,267.39 265.8,269.55 263.82,269.12" fill="#2797eb"/>
<polygon points="318.26,278.31 320.24,279.5 327.08,276.47 325.1,275.24" fill="#3875fe"/>
<polygon points="320.24,279.5 322.22,280.77 329.06,277.72 327.08,276.47" fill="#3875fe"/>
<polygon points="201.65,265.32 203.63,265.11 210.47,265.59 208.49,265.96" fill="#20a5e3"/>
<polygon points="258.96,267.39 260.94,267.71 267.78,269.87 265.8,269.55" fill="#2797eb"/>
<polygon points="287.62,268.91 289.6,269.15 296.44,271.31 294.46,271.41" fill="#2797eb"/>
<polygon points="322.22,280.77 324.21,282.13 331.05,279.01 329.06,277.72" fill="#3e6fff"/>
<polygon points="184.89,283.53 186.87,281.03 193.71,277.2 191.73,280.19" fill="#3e6fff"/>
<polygon points="226.34,257.3 228.32,253.64 235.16,262.09 233.18,262.85" fill="#12b1d6"/>
<polygon points="260.94,267.71 262.93,267.87 269.77,270.03 267.78,269.87" fill="#2797eb"/>
<polygon points="324.21,282.13 326.19,283.57 333.03,280.32 331.05,279.01" fill="#3e6fff"/>
<polygon points="289.6,269.15 291.58,269.57 298.42,271.21 296.44,271.31" fill="#2797eb"/>
<polygon points="203.63,265.11 205.61,264.98 212.45,265.24 210.47,265.59" fill="#1ca9df"/>
<polygon points="326.19,283.57 328.17,285.09 335.01,281.66 333.03,280.32" fill="#4269fe"/>
<polygon points="262.93,267.87 264.91,267.89 271.75,270.05 269.77,270.03" fill="#259be8"/>
<polygon points="291.58,269.57 293.57,270 300.41,271.22 298.42,271.21" fill="#2797eb"/>
<polygon points="328.17,285.09 330.16,286.67 337,283.03 335.01,281.66" fill="#4563fd"/>
<polygon points="205.61,264.98 207.6,264.75 214.44,264.8 212.45,265.24" fill="#1ca9df"/>
<polygon points="228.32,253.64 230.3,249.91 237.14,261.4 235.16,262.09" fill="#01b8ca"/>
<polygon points="330.16,286.67 332.14,288.31 338.98,284.42 337,283.03" fill="#465efb"/>
<polygon points="186.87,281.03 188.86,276.72 195.7,271.88 193.71,277.2" fill="#2e87f7"/>
<polygon points="293.57,270 295.55,270.43 302.39,271.49 300.41,271.22" fill="#2797eb"/>
<polygon points="264.91,267.89 266.89,267.85 273.73,270.01 271.75,270.05" fill="#259be8"/>
<polygon points="207.6,264.75 209.58,264.22 216.42,264.18 214.44,264.8" fill="#18addb"/>
<polygon points="295.55,270.43 297.53,270.85 304.37,272 302.39,271.49" fill="#2797eb"/>
<polygon points="266.89,267.85 268.88,267.78 275.72,269.94 273.73,270.01" fill="#23a0e5"/>
<polygon points="230.3,249.91 232.29,247.28 239.13,260.82 237.14,261.4" fill="#0bbdbd"/>
<polygon points="209.58,264.22 211.56,263.22 218.4,263.38 216.42,264.18" fill="#18addb"/>
<polygon points="297.53,270.85 299.52,271.28 306.36,272.68 304.37,272" fill="#2797eb"/>
<polygon points="268.88,267.78 270.86,267.74 277.7,269.9 275.72,269.94" fill="#23a0e5"/>
<polygon points="188.86,276.72 190.84,273.81 197.68,267.31 195.7,271.88" fill="#2797eb"/>
<polygon points="299.52,271.28 301.5,271.7 308.34,273.48 306.36,272.68" fill="#2797eb"/>
<polygon points="232.29,247.28 234.27,245.17 241.11,260.4 239.13,260.82" fill="#24c1ae"/>
<polygon points="211.56,263.22 213.55,261.77 220.39,262.43 218.4,263.38" fill="#12b1d6"/>
<polygon points="270.86,267.74 272.84,267.62 279.68,269.78 277.7,269.9" fill="#20a5e3"/>
<polygon points="301.5,271.7 303.48,272.3 310.32,274.36 308.34,273.48" fill="#2797eb"/>
<polygon points="172.1,286.48 174.08,285.7 180.92,284.12 178.94,283.91" fill="#4269fe"/>
<polygon points="234.27,245.17 236.25,243.28 243.09,260.16 241.11,260.4" fill="#2cc4a7"/>
<polygon points="303.48,272.3 305.47,273.22 312.31,275.29 310.32,274.36" fill="#2797eb"/>
<polygon points="190.84,273.81 192.82,272.9 199.66,265.83 197.68,267.31" fill="#20a5e3"/>
<polygon points="272.84,267.62 274.83,267.34 281.67,269.5 279.68,269.78" fill="#20a5e3"/>
<polygon points="213.55,261.77 215.53,259.9 222.37,261.24 220.39,262.43" fill="#01b8ca"/>
<polygon points="174.08,285.7 176.07,284.93 182.91,283.96 180.92,284.12" fill="#3e6fff"/>
<polygon points="305.47,273.22 307.45,274.38 314.29,276.24 312.31,275.29" fill="#2b91ef"/>
<polygon points="236.25,243.28 238.24,242.01 245.08,260.17 243.09,260.16" fill="#31c69f"/>
<polygon points="274.83,267.34 276.81,267.03 283.65,269.19 281.67,269.5" fill="#1ca9df"/>
<polygon points="307.45,274.38 309.43,275.72 316.27,277.22 314.29,276.24" fill="#2b91ef"/>
<polygon points="192.82,272.9 194.81,272.36 201.65,265.32 199.66,265.83" fill="#18addb"/>
<polygon points="176.07,284.93 178.05,284.16 184.89,283.53 182.91,283.96" fill="#3e6fff"/>
<polygon points="309.43,275.72 311.42,277.16 318.26,278.31 316.27,277.22" fill="#2d8cf3"/>
<polygon points="215.53,259.9 217.51,257.69 224.35,259.72 222.37,261.24" fill="#02bac3"/>
<polygon points="238.24,242.01 240.22,241.78 247.06,260.44 245.08,260.17" fill="#31c69f"/>
<polygon points="276.81,267.03 278.79,266.8 285.63,268.96 283.65,269.19" fill="#18addb"/>
<polygon points="194.81,272.36 196.79,272.04 203.63,265.11 201.65,265.32" fill="#12b1d6"/>
<polygon points="311.42,277.16 313.4,278.65 320.24,279.5 318.26,278.31" fill="#2e87f7"/>
<polygon points="313.4,278.65 315.38,280.31 322.22,280.77 320.24,279.5" fill="#2f81fa"/>
<polygon points="240.22,241.78 242.2,242.45 249.04,261.19 247.06,260.44" fill="#31c69f"/>
<polygon points="178.05,284.16 180.03,283.39 186.87,281.03 184.89,283.53" fill="#327cfc"/>
<polygon points="278.79,266.8 280.78,266.75 287.62,268.91 285.63,268.96" fill="#18addb"/>
<polygon points="315.38,280.31 317.37,282.3 324.21,282.13 322.22,280.77" fill="#2f81fa"/>
<polygon points="196.79,272.04 198.77,271.78 205.61,264.98 203.63,265.11" fill="#12b1d6"/>
<polygon points="217.51,257.69 219.5,254.6 226.34,257.3 224.35,259.72" fill="#19bfb6"/>
<polygon points="242.2,242.45 244.19,243.49 251.03,262.43 249.04,261.19" fill="#31c69f"/>
<polygon points="317.37,282.3 319.35,284.57 326.19,283.57 324.21,282.13" fill="#327cfc"/>
<polygon points="319.35,284.57 321.33,287.08 328.17,285.09 326.19,283.57" fill="#3e6fff"/>
<polygon points="280.78,266.75 282.76,266.99 289.6,269.15 287.62,268.91" fill="#12b1d6"/>
<polygon points="244.19,243.49 246.17,244.73 253.01,263.92 251.03,262.43" fill="#31c69f"/>
<polygon points="198.77,271.78 200.76,271.44 207.6,264.75 205.61,264.98" fill="#08b5d0"/>
<polygon points="321.33,287.08 323.32,289.78 330.16,286.67 328.17,285.09" fill="#4269fe"/>
<polygon points="180.03,283.39 182.02,282.63 188.86,276.72 186.87,281.03" fill="#2e87f7"/>
<polygon points="323.32,289.78 325.3,292.64 332.14,288.31 330.16,286.67" fill="#4563fd"/>
<polygon points="246.17,244.73 248.15,246.08 254.99,265.4 253.01,263.92" fill="#2cc4a7"/>
<polygon points="282.76,266.99 284.74,267.45 291.58,269.57 289.6,269.15" fill="#12b1d6"/>
<polygon points="248.15,246.08 250.14,247.92 256.98,266.64 254.99,265.4" fill="#24c1ae"/>
<polygon points="200.76,271.44 202.74,270.86 209.58,264.22 207.6,264.75" fill="#08b5d0"/>
<polygon points="219.5,254.6 221.48,250.51 228.32,253.64 226.34,257.3" fill="#31c69f"/>
<polygon points="250.14,247.92 252.12,250.14 258.96,267.39 256.98,266.64" fill="#24c1ae"/>
<polygon points="284.74,267.45 286.73,267.99 293.57,270 291.58,269.57" fill="#12b1d6"/>
<polygon points="252.12,250.14 254.1,252.5 260.94,267.71 258.96,267.39" fill="#19bfb6"/>
<polygon points="182.02,282.63 184,281.87 190.84,273.81 188.86,276.72" fill="#2b91ef"/>
<polygon points="286.73,267.99 288.71,268.58 295.55,270.43 293.57,270" fill="#12b1d6"/>
<polygon points="202.74,270.86 204.72,270.07 211.56,263.22 209.58,264.22" fill="#01b8ca"/>
<polygon points="254.1,252.5 256.09,254.73 262.93,267.87 260.94,267.71" fill="#19bfb6"/>
<polygon points="288.71,268.58 290.69,269.23 297.53,270.85 295.55,270.43" fill="#12b1d6"/>
<polygon points="256.09,254.73 258.07,256.61 264.91,267.89 262.93,267.87" fill="#0bbdbd"/>
<polygon points="221.48,250.51 223.46,247.09 230.3,249.91 228.32,253.64" fill="#4acb84"/>
<polygon points="184,281.87 185.98,281.11 192.82,272.9 190.84,273.81" fill="#259be8"/>
<polygon points="204.72,270.07 206.71,269.14 213.55,261.77 211.56,263.22" fill="#02bac3"/>
<polygon points="258.07,256.61 260.05,258.18 266.89,267.85 264.91,267.89" fill="#0bbdbd"/>
<polygon points="290.69,269.23 292.68,269.92 299.52,271.28 297.53,270.85" fill="#12b1d6"/>
<polygon points="185.98,281.11 187.97,280.35 194.81,272.36 192.82,272.9" fill="#23a0e5"/>
<polygon points="260.05,258.18 262.04,259.69 268.88,267.78 266.89,267.85" fill="#0bbdbd"/>
<polygon points="292.68,269.92 294.66,270.64 301.5,271.7 299.52,271.28" fill="#18addb"/>
<polygon points="206.71,269.14 208.69,267.95 215.53,259.9 213.55,261.77" fill="#0bbdbd"/>
<polygon points="223.46,247.09 225.45,244.25 232.29,247.28 230.3,249.91" fill="#72cd64"/>
<polygon points="262.04,259.69 264.02,261.11 270.86,267.74 268.88,267.78" fill="#0bbdbd"/>
<polygon points="294.66,270.64 296.64,271.56 303.48,272.3 301.5,271.7" fill="#18addb"/>
<polygon points="187.97,280.35 189.95,279.59 196.79,272.04 194.81,272.36" fill="#20a5e3"/>
<polygon points="264.02,261.11 266,262.42 272.84,267.62 270.86,267.74" fill="#0bbdbd"/>
<polygon points="296.64,271.56 298.63,272.81 305.47,273.22 303.48,272.3" fill="#18addb"/>
<polygon points="208.69,267.95 210.67,266.41 217.51,257.69 215.53,259.9" fill="#19bfb6"/>
<polygon points="298.63,272.81 300.61,274.32 307.45,274.38 305.47,273.22" fill="#1ca9df"/>
<polygon points="189.95,279.59 191.93,278.83 198.77,271.78 196.79,272.04" fill="#1ca9df"/>
<polygon points="266,262.42 267.99,263.61 274.83,267.34 272.84,267.62" fill="#0bbdbd"/>
<polygon points="225.45,244.25 227.43,241.65 234.27,245.17 232.29,247.28" fill="#9dc943"/>
<polygon points="300.61,274.32 302.59,276.03 309.43,275.72 307.45,274.38" fill="#20a5e3"/>
<polygon points="302.59,276.03 304.58,277.87 311.42,277.16 309.43,275.72" fill="#23a0e5"/>
<polygon points="267.99,263.61 269.97,264.65 276.81,267.03 274.83,267.34" fill="#0bbdbd"/>
<polygon points="191.93,278.83 193.92,278.08 200.76,271.44 198.77,271.78" fill="#18addb"/>
<polygon points="304.58,277.87 306.56,279.79 313.4,278.65 311.42,277.16" fill="#259be8"/>
<polygon points="210.67,266.41 212.66,263.79 219.5,254.6 217.51,257.69" fill="#2cc4a7"/>
<polygon points="306.56,279.79 308.54,281.9 315.38,280.31 313.4,278.65" fill="#2797eb"/>
<polygon points="269.97,264.65 271.95,265.56 278.79,266.8 276.81,267.03" fill="#0bbdbd"/>
<polygon points="308.54,281.9 310.53,284.34 317.37,282.3 315.38,280.31" fill="#2d8cf3"/>
<polygon points="227.43,241.65 229.41,238.58 236.25,243.28 234.27,245.17" fill="#b9c431"/>
<polygon points="310.53,284.34 312.51,287.08 319.35,284.57 317.37,282.3" fill="#2e87f7"/>
<polygon points="193.92,278.08 195.9,277.34 202.74,270.86 200.76,271.44" fill="#18addb"/>
<polygon points="312.51,287.08 314.49,290.06 321.33,287.08 319.35,284.57" fill="#327cfc"/>
<polygon points="314.49,290.06 316.48,293.26 323.32,289.78 321.33,287.08" fill="#3e6fff"/>
<polygon points="316.48,293.26 318.46,296.64 325.3,292.64 323.32,289.78" fill="#4563fd"/>
<polygon points="271.95,265.56 273.94,266.37 280.78,266.75 278.79,266.8" fill="#0bbdbd"/>
<polygon points="273.94,266.37 275.92,267.11 282.76,266.99 280.78,266.75" fill="#19bfb6"/>
<polygon points="212.66,263.79 214.64,260.08 221.48,250.51 219.5,254.6" fill="#3fca8e"/>
<polygon points="195.9,277.34 197.88,276.62 204.72,270.07 202.74,270.86" fill="#12b1d6"/>
<polygon points="229.41,238.58 231.4,236.22 238.24,242.01 236.25,243.28" fill="#d1bf27"/>
<polygon points="275.92,267.11 277.9,267.81 284.74,267.45 282.76,266.99" fill="#19bfb6"/>
<polygon points="197.88,276.62 199.87,275.93 206.71,269.14 204.72,270.07" fill="#12b1d6"/>
<polygon points="231.4,236.22 233.38,236.47 240.22,241.78 238.24,242.01" fill="#dcbd29"/>
<polygon points="277.9,267.81 279.89,268.51 286.73,267.99 284.74,267.45" fill="#19bfb6"/>
<polygon points="214.64,260.08 216.62,257.34 223.46,247.09 221.48,250.51" fill="#64cd6f"/>
<polygon points="233.38,236.47 235.36,237.67 242.2,242.45 240.22,241.78" fill="#e6bb2d"/>
<polygon points="279.89,268.51 281.87,269.22 288.71,268.58 286.73,267.99" fill="#19bfb6"/>
<polygon points="199.87,275.93 201.85,275.3 208.69,267.95 206.71,269.14" fill="#08b5d0"/>
<polygon points="235.36,237.67 237.35,239.25 244.19,243.49 242.2,242.45" fill="#dcbd29"/>
<polygon points="281.87,269.22 283.85,269.98 290.69,269.23 288.71,268.58" fill="#19bfb6"/>
<polygon points="237.35,239.25 239.33,240.9 246.17,244.73 244.19,243.49" fill="#dcbd29"/>
<polygon points="201.85,275.3 203.83,274.72 210.67,266.41 208.69,267.95" fill="#01b8ca"/>
<polygon points="283.85,269.98 285.84,270.83 292.68,269.92 290.69,269.23" fill="#0bbdbd"/>
<polygon points="239.33,240.9 241.31,242.57 248.15,246.08 246.17,244.73" fill="#dcbd29"/>
<polygon points="216.62,257.34 218.61,255.32 225.45,244.25 223.46,247.09" fill="#8fcb4e"/>
<polygon points="241.31,242.57 243.3,244.47 250.14,247.92 248.15,246.08" fill="#dcbd29"/>
<polygon points="285.84,270.83 287.82,271.78 294.66,270.64 292.68,269.92" fill="#0bbdbd"/>
<polygon points="243.3,244.47 245.28,246.57 252.12,250.14 250.14,247.92" fill="#d1bf27"/>
<polygon points="245.28,246.57 247.26,249.08 254.1,252.5 252.12,250.14" fill="#c5c22a"/>
<polygon points="247.26,249.08 249.25,251.88 256.09,254.73 254.1,252.5" fill="#b9c431"/>
<polygon points="203.83,274.72 205.82,274.14 212.66,263.79 210.67,266.41" fill="#02bac3"/>
<polygon points="287.82,271.78 289.8,272.95 296.64,271.56 294.66,270.64" fill="#02bac3"/>
<polygon points="249.25,251.88 251.23,254.44 258.07,256.61 256.09,254.73" fill="#abc739"/>
<polygon points="218.61,255.32 220.59,253.79 227.43,241.65 225.45,244.25" fill="#abc739"/>
<polygon points="251.23,254.44 253.21,256.68 260.05,258.18 258.07,256.61" fill="#8fcb4e"/>
<polygon points="289.8,272.95 291.79,274.39 298.63,272.81 296.64,271.56" fill="#01b8ca"/>
<polygon points="253.21,256.68 255.2,258.79 262.04,259.69 260.05,258.18" fill="#81cc59"/>
<polygon points="291.79,274.39 293.77,276.06 300.61,274.32 298.63,272.81" fill="#08b5d0"/>
<polygon points="255.2,258.79 257.18,260.75 264.02,261.11 262.04,259.69" fill="#64cd6f"/>
<polygon points="293.77,276.06 295.75,277.92 302.59,276.03 300.61,274.32" fill="#12b1d6"/>
<polygon points="205.82,274.14 207.8,273.53 214.64,260.08 212.66,263.79" fill="#19bfb6"/>
<polygon points="257.18,260.75 259.16,262.51 266,262.42 264.02,261.11" fill="#4acb84"/>
<polygon points="295.75,277.92 297.74,279.92 304.58,277.87 302.59,276.03" fill="#18addb"/>
<polygon points="220.59,253.79 222.57,252.43 229.41,238.58 227.43,241.65" fill="#d1bf27"/>
<polygon points="259.16,262.51 261.15,264.08 267.99,263.61 266,262.42" fill="#3fca8e"/>
<polygon points="297.74,279.92 299.72,282.03 306.56,279.79 304.58,277.87" fill="#1ca9df"/>
<polygon points="299.72,282.03 301.7,284.35 308.54,281.9 306.56,279.79" fill="#23a0e5"/>
<polygon points="261.15,264.08 263.13,265.58 269.97,264.65 267.99,263.61" fill="#37c897"/>
<polygon points="309.64,296.59 311.62,300.2 318.46,296.64 316.48,293.26" fill="#4269fe"/>
<polygon points="301.7,284.35 303.69,287.01 310.53,284.34 308.54,281.9" fill="#2797eb"/>
<polygon points="307.65,293.16 309.64,296.59 316.48,293.26 314.49,290.06" fill="#3875fe"/>
<polygon points="303.69,287.01 305.67,289.96 312.51,287.08 310.53,284.34" fill="#2b91ef"/>
<polygon points="305.67,289.96 307.65,293.16 314.49,290.06 312.51,287.08" fill="#2e87f7"/>
<polygon points="207.8,273.53 209.78,272.83 216.62,257.34 214.64,260.08" fill="#24c1ae"/>
<polygon points="263.13,265.58 265.11,266.97 271.95,265.56 269.97,264.65" fill="#31c69f"/>
<polygon points="222.57,252.43 224.56,251.14 231.4,236.22 229.41,238.58" fill="#e6bb2d"/>
<polygon points="265.11,266.97 267.1,268.21 273.94,266.37 271.95,265.56" fill="#31c69f"/>
<polygon points="209.78,272.83 211.77,271.96 218.61,255.32 216.62,257.34" fill="#31c69f"/>
<polygon points="267.1,268.21 269.08,269.27 275.92,267.11 273.94,266.37" fill="#2cc4a7"/>
<polygon points="224.56,251.14 226.54,250.23 233.38,236.47 231.4,236.22" fill="#f8ba3d"/>
<polygon points="269.08,269.27 271.06,270.15 277.9,267.81 275.92,267.11" fill="#2cc4a7"/>
<polygon points="226.54,250.23 228.52,250.01 235.36,237.67 233.38,236.47" fill="#f8ba3d"/>
<polygon points="211.77,271.96 213.75,270.7 220.59,253.79 218.61,255.32" fill="#3fca8e"/>
<polygon points="271.06,270.15 273.05,270.9 279.89,268.51 277.9,267.81" fill="#2cc4a7"/>
<polygon points="228.52,250.01 230.51,250.41 237.35,239.25 235.36,237.67" fill="#f8ba3d"/>
<polygon points="273.05,270.9 275.03,271.6 281.87,269.22 279.89,268.51" fill="#2cc4a7"/>
<polygon points="230.51,250.41 232.49,250.84 239.33,240.9 237.35,239.25" fill="#f8ba3d"/>
<polygon points="213.75,270.7 215.73,269.18 222.57,252.43 220.59,253.79" fill="#4acb84"/>
<polygon points="275.03,271.6 277.01,272.31 283.85,269.98 281.87,269.22" fill="#2cc4a7"/>
<polygon points="232.49,250.84 234.47,251.26 241.31,242.57 239.33,240.9" fill="#f8ba3d"/>
<polygon points="277.01,272.31 279,273.1 285.84,270.83 283.85,269.98" fill="#24c1ae"/>
<polygon points="234.47,251.26 236.46,251.69 243.3,244.47 241.31,242.57" fill="#f8ba3d"/>
<polygon points="215.73,269.18 217.72,267.61 224.56,251.14 222.57,252.43" fill="#64cd6f"/>
<polygon points="279,273.1 280.98,274.02 287.82,271.78 285.84,270.83" fill="#24c1ae"/>
<polygon points="236.46,251.69 238.44,252.11 245.28,246.57 243.3,244.47" fill="#f8ba3d"/>
<polygon points="280.98,274.02 282.96,275.25 289.8,272.95 287.82,271.78" fill="#19bfb6"/>
<polygon points="238.44,252.11 240.42,252.89 247.26,249.08 245.28,246.57" fill="#f0ba36"/>
<polygon points="240.42,252.89 242.41,254.23 249.25,251.88 247.26,249.08" fill="#e6bb2d"/>
<polygon points="282.96,275.25 284.95,276.84 291.79,274.39 289.8,272.95" fill="#0bbdbd"/>
<polygon points="217.72,267.61 219.7,266.17 226.54,250.23 224.56,251.14" fill="#72cd64"/>
<polygon points="242.41,254.23 244.39,255.93 251.23,254.44 249.25,251.88" fill="#dcbd29"/>
<polygon points="284.95,276.84 286.93,278.74 293.77,276.06 291.79,274.39" fill="#02bac3"/>
<polygon points="244.39,255.93 246.37,257.81 253.21,256.68 251.23,254.44" fill="#c5c22a"/>
<polygon points="286.93,278.74 288.91,280.84 295.75,277.92 293.77,276.06" fill="#01b8ca"/>
<polygon points="246.37,257.81 248.36,259.65 255.2,258.79 253.21,256.68" fill="#abc739"/>
<polygon points="288.91,280.84 290.9,283.08 297.74,279.92 295.75,277.92" fill="#12b1d6"/>
<polygon points="248.36,259.65 250.34,261.26 257.18,260.75 255.2,258.79" fill="#8fcb4e"/>
<polygon points="219.7,266.17 221.68,265.06 228.52,250.01 226.54,250.23" fill="#81cc59"/>
<polygon points="290.9,283.08 292.88,285.37 299.72,282.03 297.74,279.92" fill="#18addb"/>
<polygon points="292.88,285.37 294.86,287.8 301.7,284.35 299.72,282.03" fill="#20a5e3"/>
<polygon points="250.34,261.26 252.32,262.66 259.16,262.51 257.18,260.75" fill="#72cd64"/>
<polygon points="302.8,299.85 304.78,303.32 311.62,300.2 309.64,296.59" fill="#3e6fff"/>
<polygon points="294.86,287.8 296.85,290.49 303.69,287.01 301.7,284.35" fill="#259be8"/>
<polygon points="300.81,296.54 302.8,299.85 309.64,296.59 307.65,293.16" fill="#327cfc"/>
<polygon points="296.85,290.49 298.83,293.41 305.67,289.96 303.69,287.01" fill="#2797eb"/>
<polygon points="298.83,293.41 300.81,296.54 307.65,293.16 305.67,289.96" fill="#2e87f7"/>
<polygon points="252.32,262.66 254.31,264.02 261.15,264.08 259.16,262.51" fill="#64cd6f"/>
<polygon points="221.68,265.06 223.67,264.48 230.51,250.41 228.52,250.01" fill="#8fcb4e"/>
<polygon points="254.31,264.02 256.29,265.35 263.13,265.58 261.15,264.08" fill="#4acb84"/>
<polygon points="256.29,265.35 258.27,266.66 265.11,266.97 263.13,265.58" fill="#3fca8e"/>
<polygon points="223.67,264.48 225.65,264.58 232.49,250.84 230.51,250.41" fill="#8fcb4e"/>
<polygon points="258.27,266.66 260.26,267.98 267.1,268.21 265.11,266.97" fill="#3fca8e"/>
<polygon points="225.65,264.58 227.63,264.87 234.47,251.26 232.49,250.84" fill="#8fcb4e"/>
<polygon points="260.26,267.98 262.24,269.31 269.08,269.27 267.1,268.21" fill="#37c897"/>
<polygon points="262.24,269.31 264.22,270.62 271.06,270.15 269.08,269.27" fill="#31c69f"/>
<polygon points="227.63,264.87 229.62,265.17 236.46,251.69 234.47,251.26" fill="#8fcb4e"/>
<polygon points="264.22,270.62 266.21,271.9 273.05,270.9 271.06,270.15" fill="#31c69f"/>
<polygon points="229.62,265.17 231.6,265.5 238.44,252.11 236.46,251.69" fill="#8fcb4e"/>
<polygon points="266.21,271.9 268.19,273.18 275.03,271.6 273.05,270.9" fill="#31c69f"/>
<polygon points="231.6,265.5 233.58,265.86 240.42,252.89 238.44,252.11" fill="#8fcb4e"/>
<polygon points="268.19,273.18 270.17,274.49 277.01,272.31 275.03,271.6" fill="#2cc4a7"/>
<polygon points="270.17,274.49 272.16,275.87 279,273.1 277.01,272.31" fill="#2cc4a7"/>
<polygon points="233.58,265.86 235.57,266.23 242.41,254.23 240.42,252.89" fill="#8fcb4e"/>
<polygon points="272.16,275.87 274.14,277.36 280.98,274.02 279,273.1" fill="#24c1ae"/>
<polygon points="235.57,266.23 237.55,266.63 244.39,255.93 242.41,254.23" fill="#81cc59"/>
<polygon points="274.14,277.36 276.12,278.96 282.96,275.25 280.98,274.02" fill="#19bfb6"/>
<polygon points="237.55,266.63 239.53,267.08 246.37,257.81 244.39,255.93" fill="#72cd64"/>
<polygon points="276.12,278.96 278.11,280.68 284.95,276.84 282.96,275.25" fill="#0bbdbd"/>
<polygon points="239.53,267.08 241.52,267.75 248.36,259.65 246.37,257.81" fill="#72cd64"/>
<polygon points="278.11,280.68 280.09,282.5 286.93,278.74 284.95,276.84" fill="#02bac3"/>
<polygon points="280.09,282.5 282.07,284.44 288.91,280.84 286.93,278.74" fill="#01b8ca"/>
<polygon points="241.52,267.75 243.5,268.62 250.34,261.26 248.36,259.65" fill="#64cd6f"/>
<polygon points="282.07,284.44 284.06,286.51 290.9,283.08 288.91,280.84" fill="#08b5d0"/>
<polygon points="284.06,286.51 286.04,288.71 292.88,285.37 290.9,283.08" fill="#18addb"/>
<polygon points="243.5,268.62 245.48,269.61 252.32,262.66 250.34,261.26" fill="#57cc7a"/>
<polygon points="286.04,288.71 288.02,291.1 294.86,287.8 292.88,285.37" fill="#1ca9df"/>
<polygon points="295.96,302.77 297.94,306.11 304.78,303.32 302.8,299.85" fill="#3875fe"/>
<polygon points="288.02,291.1 290.01,293.72 296.85,290.49 294.86,287.8" fill="#23a0e5"/>
<polygon points="293.97,299.58 295.96,302.77 302.8,299.85 300.81,296.54" fill="#2f81fa"/>
<polygon points="290.01,293.72 291.99,296.56 298.83,293.41 296.85,290.49" fill="#2797eb"/>
<polygon points="291.99,296.56 293.97,299.58 300.81,296.54 298.83,293.41" fill="#2d8cf3"/>
<polygon points="245.48,269.61 247.47,270.66 254.31,264.02 252.32,262.66" fill="#4acb84"/>
<polygon points="247.47,270.66 249.45,271.8 256.29,265.35 254.31,264.02" fill="#4acb84"/>
<polygon points="249.45,271.8 251.43,273.21 258.27,266.66 256.29,265.35" fill="#3fca8e"/>
<polygon points="251.43,273.21 253.42,274.81 260.26,267.98 258.27,266.66" fill="#37c897"/>
<polygon points="253.42,274.81 255.4,276.55 262.24,269.31 260.26,267.98" fill="#31c69f"/>
<polygon points="255.4,276.55 257.38,278.34 264.22,270.62 262.24,269.31" fill="#31c69f"/>
<polygon points="257.38,278.34 259.37,280.11 266.21,271.9 264.22,270.62" fill="#2cc4a7"/>
<polygon points="259.37,280.11 261.35,281.86 268.19,273.18 266.21,271.9" fill="#24c1ae"/>
<polygon points="261.35,281.86 263.33,283.73 270.17,274.49 268.19,273.18" fill="#19bfb6"/>
<polygon points="263.33,283.73 265.32,285.89 272.16,275.87 270.17,274.49" fill="#0bbdbd"/>
<polygon points="265.32,285.89 267.3,288.86 274.14,277.36 272.16,275.87" fill="#02bac3"/>
<polygon points="267.3,288.86 269.28,292.74 276.12,278.96 274.14,277.36" fill="#01b8ca"/>
<polygon points="269.28,292.74 271.27,296.08 278.11,280.68 276.12,278.96" fill="#12b1d6"/>
<polygon points="271.27,296.08 273.25,298.25 280.09,282.5 278.11,280.68" fill="#18addb"/>
<polygon points="273.25,298.25 275.23,300.16 282.07,284.44 280.09,282.5" fill="#20a5e3"/>
<polygon points="275.23,300.16 277.22,301.85 284.06,286.51 282.07,284.44" fill="#23a0e5"/>
<polygon points="277.22,301.85 279.2,303.35 286.04,288.71 284.06,286.51" fill="#259be8"/>
<polygon points="279.2,303.35 281.18,304.66 288.02,291.1 286.04,288.71" fill="#2797eb"/>
<polygon points="281.18,304.66 283.17,305.81 290.01,293.72 288.02,291.1" fill="#2b91ef"/>
<polygon points="283.17,305.81 285.15,306.89 291.99,296.56 290.01,293.72" fill="#2d8cf3"/>
<polygon points="285.15,306.89 287.13,307.88 293.97,299.58 291.99,296.56" fill="#2e87f7"/>
<polygon points="287.13,307.88 289.12,308.74 295.96,302.77 293.97,299.58" fill="#2f81fa"/>
<polygon points="289.12,308.74 291.1,309.45 297.94,306.11 295.96,302.77" fill="#3875fe"/>
</g>
<text transform="translate(23.6,106.85) scale(1.18,1)" class="tk" text-anchor="end">0</text>
<text transform="translate(65.6,112.85) scale(1.18,1)" class="tk" text-anchor="end">100</text>
<text transform="translate(107.6,118.85) scale(1.18,1)" class="tk" text-anchor="end">200</text>
<text transform="translate(149.6,124.85) scale(1.18,1)" class="tk" text-anchor="end">300</text>
<text transform="translate(160.8,124.25) scale(1.18,1)" class="tk" text-anchor="start">0</text>
<text transform="translate(175.2,118.01) scale(1.18,1)" class="tk" text-anchor="start">10</text>
<text transform="translate(189.6,111.77) scale(1.18,1)" class="tk" text-anchor="start">20</text>
<text transform="translate(204,105.53) scale(1.18,1)" class="tk" text-anchor="start">30</text>
<text transform="translate(218.4,99.29) scale(1.18,1)" class="tk" text-anchor="start">40</text>
<text transform="translate(232.8,93.05) scale(1.18,1)" class="tk" text-anchor="start">50</text>
<text transform="translate(23.3,101.35) scale(1.18,1)" class="tk" text-anchor="end">-3</text>
<text transform="translate(23.3,91.04) scale(1.18,1)" class="tk" text-anchor="end">-2</text>
<text transform="translate(23.3,80.72) scale(1.18,1)" class="tk" text-anchor="end">-1</text>
<text transform="translate(23.3,70.4) scale(1.18,1)" class="tk" text-anchor="end">0</text>
<text transform="translate(23.3,60.09) scale(1.18,1)" class="tk" text-anchor="end">1</text>
<text transform="translate(23.3,49.77) scale(1.18,1)" class="tk" text-anchor="end">2</text>
<text transform="translate(23.3,39.45) scale(1.18,1)" class="tk" text-anchor="end">3</text>
<text transform="translate(304.4,107.65) scale(1.18,1)" class="tk" text-anchor="end">0</text>
<text transform="translate(344.97,113.79) scale(1.18,1)" class="tk" text-anchor="end">100</text>
<text transform="translate(385.53,119.92) scale(1.18,1)" class="tk" text-anchor="end">200</text>
<text transform="translate(426.1,126.05) scale(1.18,1)" class="tk" text-anchor="end">300</text>
<text transform="translate(437.3,124.55) scale(1.18,1)" class="tk" text-anchor="start">0</text>
<text transform="translate(451.54,118.25) scale(1.18,1)" class="tk" text-anchor="start">10</text>
<text transform="translate(465.78,111.95) scale(1.18,1)" class="tk" text-anchor="start">20</text>
<text transform="translate(480.02,105.65) scale(1.18,1)" class="tk" text-anchor="start">30</text>
<text transform="translate(494.26,99.35) scale(1.18,1)" class="tk" text-anchor="start">40</text>
<text transform="translate(508.5,93.05) scale(1.18,1)" class="tk" text-anchor="start">50</text>
<text transform="translate(304.1,101.55) scale(1.18,1)" class="tk" text-anchor="end">-10</text>
<text transform="translate(304.1,80.69) scale(1.18,1)" class="tk" text-anchor="end">-5</text>
<text transform="translate(304.1,59.82) scale(1.18,1)" class="tk" text-anchor="end">0</text>
<text transform="translate(304.1,38.95) scale(1.18,1)" class="tk" text-anchor="end">5</text>
<text transform="translate(166.9,314.45) scale(1.18,1)" class="tk" text-anchor="end">0</text>
<text transform="translate(206.57,322.95) scale(1.18,1)" class="tk" text-anchor="end">100</text>
<text transform="translate(246.23,331.45) scale(1.18,1)" class="tk" text-anchor="end">200</text>
<text transform="translate(285.9,339.95) scale(1.18,1)" class="tk" text-anchor="end">300</text>
<text transform="translate(297.1,338.45) scale(1.18,1)" class="tk" text-anchor="start">0</text>
<text transform="translate(310.78,329.57) scale(1.18,1)" class="tk" text-anchor="start">10</text>
<text transform="translate(324.46,320.69) scale(1.18,1)" class="tk" text-anchor="start">20</text>
<text transform="translate(338.14,311.81) scale(1.18,1)" class="tk" text-anchor="start">30</text>
<text transform="translate(351.82,302.93) scale(1.18,1)" class="tk" text-anchor="start">40</text>
<text transform="translate(365.5,294.05) scale(1.18,1)" class="tk" text-anchor="start">50</text>
<text transform="translate(166.6,307.05) scale(1.18,1)" class="tk" text-anchor="end">0</text>
<text transform="translate(166.6,285.05) scale(1.18,1)" class="tk" text-anchor="end">0.02</text>
<text transform="translate(166.6,263.05) scale(1.18,1)" class="tk" text-anchor="end">0.04</text>
<text transform="translate(166.6,241.05) scale(1.18,1)" class="tk" text-anchor="end">0.06</text>
<text transform="translate(166.6,219.05) scale(1.18,1)" class="tk" text-anchor="end">0.08</text>
<defs><linearGradient id="g247" x1="0" y1="1" x2="0" y2="0"><stop offset="0" stop-color="#3e26a8"/><stop offset="0.02" stop-color="#402ab4"/><stop offset="0.03" stop-color="#422ec0"/><stop offset="0.05" stop-color="#4332cb"/><stop offset="0.06" stop-color="#4537d5"/><stop offset="0.08" stop-color="#463cde"/><stop offset="0.1" stop-color="#4741e5"/><stop offset="0.11" stop-color="#4747eb"/><stop offset="0.13" stop-color="#484df0"/><stop offset="0.14" stop-color="#4852f4"/><stop offset="0.16" stop-color="#4758f8"/><stop offset="0.17" stop-color="#465efb"/><stop offset="0.19" stop-color="#4563fd"/><stop offset="0.21" stop-color="#4269fe"/><stop offset="0.22" stop-color="#3e6fff"/><stop offset="0.24" stop-color="#3875fe"/><stop offset="0.25" stop-color="#327cfc"/><stop offset="0.27" stop-color="#2f81fa"/><stop offset="0.29" stop-color="#2e87f7"/><stop offset="0.3" stop-color="#2d8cf3"/><stop offset="0.32" stop-color="#2b91ef"/><stop offset="0.33" stop-color="#2797eb"/><stop offset="0.35" stop-color="#259be8"/><stop offset="0.37" stop-color="#23a0e5"/><stop offset="0.38" stop-color="#20a5e3"/><stop offset="0.4" stop-color="#1ca9df"/><stop offset="0.41" stop-color="#18addb"/><stop offset="0.43" stop-color="#12b1d6"/><stop offset="0.44" stop-color="#08b5d0"/><stop offset="0.46" stop-color="#01b8ca"/><stop offset="0.48" stop-color="#02bac3"/><stop offset="0.49" stop-color="#0bbdbd"/><stop offset="0.51" stop-color="#19bfb6"/><stop offset="0.52" stop-color="#24c1ae"/><stop offset="0.54" stop-color="#2cc4a7"/><stop offset="0.56" stop-color="#31c69f"/><stop offset="0.57" stop-color="#37c897"/><stop offset="0.59" stop-color="#3fca8e"/><stop offset="0.6" stop-color="#4acb84"/><stop offset="0.62" stop-color="#57cc7a"/><stop offset="0.63" stop-color="#64cd6f"/><stop offset="0.65" stop-color="#72cd64"/><stop offset="0.67" stop-color="#81cc59"/><stop offset="0.68" stop-color="#8fcb4e"/><stop offset="0.7" stop-color="#9dc943"/><stop offset="0.71" stop-color="#abc739"/><stop offset="0.73" stop-color="#b9c431"/><stop offset="0.75" stop-color="#c5c22a"/><stop offset="0.76" stop-color="#d1bf27"/><stop offset="0.78" stop-color="#dcbd29"/><stop offset="0.79" stop-color="#e6bb2d"/><stop offset="0.81" stop-color="#f0ba36"/><stop offset="0.83" stop-color="#f8ba3d"/><stop offset="0.84" stop-color="#febe3c"/><stop offset="0.86" stop-color="#fec338"/><stop offset="0.87" stop-color="#fec934"/><stop offset="0.89" stop-color="#fccf30"/><stop offset="0.9" stop-color="#fad62d"/><stop offset="0.92" stop-color="#f7dc2a"/><stop offset="0.94" stop-color="#f5e327"/><stop offset="0.95" stop-color="#f5e924"/><stop offset="0.97" stop-color="#f6ef20"/><stop offset="0.98" stop-color="#f7f51b"/><stop offset="1" stop-color="#f9fb15"/></linearGradient></defs>
<rect x="247.2" y="6.3" width="11.7" height="111.6" fill="url(#g247)" stroke="#a0a0a0" stroke-width="0.5"/>
<line x1="257.4" y1="116.99" x2="258.9" y2="116.99" stroke="#777" stroke-width="0.4"/>
<text transform="translate(262.1,119.54) scale(1.18,1)" class="tk">-3</text>
<line x1="257.4" y1="98.69" x2="258.9" y2="98.69" stroke="#777" stroke-width="0.4"/>
<text transform="translate(262.1,101.24) scale(1.18,1)" class="tk">-2</text>
<line x1="257.4" y1="80.4" x2="258.9" y2="80.4" stroke="#777" stroke-width="0.4"/>
<text transform="translate(262.1,82.95) scale(1.18,1)" class="tk">-1</text>
<line x1="257.4" y1="62.1" x2="258.9" y2="62.1" stroke="#777" stroke-width="0.4"/>
<text transform="translate(262.1,64.65) scale(1.18,1)" class="tk">0</text>
<line x1="257.4" y1="43.8" x2="258.9" y2="43.8" stroke="#777" stroke-width="0.4"/>
<text transform="translate(262.1,46.36) scale(1.18,1)" class="tk">1</text>
<line x1="257.4" y1="25.51" x2="258.9" y2="25.51" stroke="#777" stroke-width="0.4"/>
<text transform="translate(262.1,28.06) scale(1.18,1)" class="tk">2</text>
<line x1="257.4" y1="7.21" x2="258.9" y2="7.21" stroke="#777" stroke-width="0.4"/>
<text transform="translate(262.1,9.77) scale(1.18,1)" class="tk">3</text>
<defs><linearGradient id="g522" x1="0" y1="1" x2="0" y2="0"><stop offset="0" stop-color="#3e26a8"/><stop offset="0.02" stop-color="#402ab4"/><stop offset="0.03" stop-color="#422ec0"/><stop offset="0.05" stop-color="#4332cb"/><stop offset="0.06" stop-color="#4537d5"/><stop offset="0.08" stop-color="#463cde"/><stop offset="0.1" stop-color="#4741e5"/><stop offset="0.11" stop-color="#4747eb"/><stop offset="0.13" stop-color="#484df0"/><stop offset="0.14" stop-color="#4852f4"/><stop offset="0.16" stop-color="#4758f8"/><stop offset="0.17" stop-color="#465efb"/><stop offset="0.19" stop-color="#4563fd"/><stop offset="0.21" stop-color="#4269fe"/><stop offset="0.22" stop-color="#3e6fff"/><stop offset="0.24" stop-color="#3875fe"/><stop offset="0.25" stop-color="#327cfc"/><stop offset="0.27" stop-color="#2f81fa"/><stop offset="0.29" stop-color="#2e87f7"/><stop offset="0.3" stop-color="#2d8cf3"/><stop offset="0.32" stop-color="#2b91ef"/><stop offset="0.33" stop-color="#2797eb"/><stop offset="0.35" stop-color="#259be8"/><stop offset="0.37" stop-color="#23a0e5"/><stop offset="0.38" stop-color="#20a5e3"/><stop offset="0.4" stop-color="#1ca9df"/><stop offset="0.41" stop-color="#18addb"/><stop offset="0.43" stop-color="#12b1d6"/><stop offset="0.44" stop-color="#08b5d0"/><stop offset="0.46" stop-color="#01b8ca"/><stop offset="0.48" stop-color="#02bac3"/><stop offset="0.49" stop-color="#0bbdbd"/><stop offset="0.51" stop-color="#19bfb6"/><stop offset="0.52" stop-color="#24c1ae"/><stop offset="0.54" stop-color="#2cc4a7"/><stop offset="0.56" stop-color="#31c69f"/><stop offset="0.57" stop-color="#37c897"/><stop offset="0.59" stop-color="#3fca8e"/><stop offset="0.6" stop-color="#4acb84"/><stop offset="0.62" stop-color="#57cc7a"/><stop offset="0.63" stop-color="#64cd6f"/><stop offset="0.65" stop-color="#72cd64"/><stop offset="0.67" stop-color="#81cc59"/><stop offset="0.68" stop-color="#8fcb4e"/><stop offset="0.7" stop-color="#9dc943"/><stop offset="0.71" stop-color="#abc739"/><stop offset="0.73" stop-color="#b9c431"/><stop offset="0.75" stop-color="#c5c22a"/><stop offset="0.76" stop-color="#d1bf27"/><stop offset="0.78" stop-color="#dcbd29"/><stop offset="0.79" stop-color="#e6bb2d"/><stop offset="0.81" stop-color="#f0ba36"/><stop offset="0.83" stop-color="#f8ba3d"/><stop offset="0.84" stop-color="#febe3c"/><stop offset="0.86" stop-color="#fec338"/><stop offset="0.87" stop-color="#fec934"/><stop offset="0.89" stop-color="#fccf30"/><stop offset="0.9" stop-color="#fad62d"/><stop offset="0.92" stop-color="#f7dc2a"/><stop offset="0.94" stop-color="#f5e327"/><stop offset="0.95" stop-color="#f5e924"/><stop offset="0.97" stop-color="#f6ef20"/><stop offset="0.98" stop-color="#f7f51b"/><stop offset="1" stop-color="#f9fb15"/></linearGradient></defs>
<rect x="522.4" y="7.4" width="11.3" height="110.6" fill="url(#g522)" stroke="#a0a0a0" stroke-width="0.5"/>
<line x1="532.2" y1="118" x2="533.7" y2="118" stroke="#777" stroke-width="0.4"/>
<text transform="translate(536.9,120.55) scale(1.18,1)" class="tk">-10</text>
<line x1="532.2" y1="81.13" x2="533.7" y2="81.13" stroke="#777" stroke-width="0.4"/>
<text transform="translate(536.9,83.69) scale(1.18,1)" class="tk">-5</text>
<line x1="532.2" y1="44.27" x2="533.7" y2="44.27" stroke="#777" stroke-width="0.4"/>
<text transform="translate(536.9,46.82) scale(1.18,1)" class="tk">0</text>
<line x1="532.2" y1="7.4" x2="533.7" y2="7.4" stroke="#777" stroke-width="0.4"/>
<text transform="translate(536.9,9.95) scale(1.18,1)" class="tk">5</text>
<defs><linearGradient id="g379" x1="0" y1="1" x2="0" y2="0"><stop offset="0" stop-color="#3e26a8"/><stop offset="0.02" stop-color="#402ab4"/><stop offset="0.03" stop-color="#422ec0"/><stop offset="0.05" stop-color="#4332cb"/><stop offset="0.06" stop-color="#4537d5"/><stop offset="0.08" stop-color="#463cde"/><stop offset="0.1" stop-color="#4741e5"/><stop offset="0.11" stop-color="#4747eb"/><stop offset="0.13" stop-color="#484df0"/><stop offset="0.14" stop-color="#4852f4"/><stop offset="0.16" stop-color="#4758f8"/><stop offset="0.17" stop-color="#465efb"/><stop offset="0.19" stop-color="#4563fd"/><stop offset="0.21" stop-color="#4269fe"/><stop offset="0.22" stop-color="#3e6fff"/><stop offset="0.24" stop-color="#3875fe"/><stop offset="0.25" stop-color="#327cfc"/><stop offset="0.27" stop-color="#2f81fa"/><stop offset="0.29" stop-color="#2e87f7"/><stop offset="0.3" stop-color="#2d8cf3"/><stop offset="0.32" stop-color="#2b91ef"/><stop offset="0.33" stop-color="#2797eb"/><stop offset="0.35" stop-color="#259be8"/><stop offset="0.37" stop-color="#23a0e5"/><stop offset="0.38" stop-color="#20a5e3"/><stop offset="0.4" stop-color="#1ca9df"/><stop offset="0.41" stop-color="#18addb"/><stop offset="0.43" stop-color="#12b1d6"/><stop offset="0.44" stop-color="#08b5d0"/><stop offset="0.46" stop-color="#01b8ca"/><stop offset="0.48" stop-color="#02bac3"/><stop offset="0.49" stop-color="#0bbdbd"/><stop offset="0.51" stop-color="#19bfb6"/><stop offset="0.52" stop-color="#24c1ae"/><stop offset="0.54" stop-color="#2cc4a7"/><stop offset="0.56" stop-color="#31c69f"/><stop offset="0.57" stop-color="#37c897"/><stop offset="0.59" stop-color="#3fca8e"/><stop offset="0.6" stop-color="#4acb84"/><stop offset="0.62" stop-color="#57cc7a"/><stop offset="0.63" stop-color="#64cd6f"/><stop offset="0.65" stop-color="#72cd64"/><stop offset="0.67" stop-color="#81cc59"/><stop offset="0.68" stop-color="#8fcb4e"/><stop offset="0.7" stop-color="#9dc943"/><stop offset="0.71" stop-color="#abc739"/><stop offset="0.73" stop-color="#b9c431"/><stop offset="0.75" stop-color="#c5c22a"/><stop offset="0.76" stop-color="#d1bf27"/><stop offset="0.78" stop-color="#dcbd29"/><stop offset="0.79" stop-color="#e6bb2d"/><stop offset="0.81" stop-color="#f0ba36"/><stop offset="0.83" stop-color="#f8ba3d"/><stop offset="0.84" stop-color="#febe3c"/><stop offset="0.86" stop-color="#fec338"/><stop offset="0.87" stop-color="#fec934"/><stop offset="0.89" stop-color="#fccf30"/><stop offset="0.9" stop-color="#fad62d"/><stop offset="0.92" stop-color="#f7dc2a"/><stop offset="0.94" stop-color="#f5e327"/><stop offset="0.95" stop-color="#f5e924"/><stop offset="0.97" stop-color="#f6ef20"/><stop offset="0.98" stop-color="#f7f51b"/><stop offset="1" stop-color="#f9fb15"/></linearGradient></defs>
<rect x="379.2" y="174.2" width="10.6" height="155.9" fill="url(#g379)" stroke="#a0a0a0" stroke-width="0.5"/>
<line x1="388.3" y1="330.1" x2="389.8" y2="330.1" stroke="#777" stroke-width="0.4"/>
<text transform="translate(393,332.65) scale(1.18,1)" class="tk">0</text>
<line x1="388.3" y1="310.61" x2="389.8" y2="310.61" stroke="#777" stroke-width="0.4"/>
<text transform="translate(393,313.16) scale(1.18,1)" class="tk">0.01</text>
<line x1="388.3" y1="291.12" x2="389.8" y2="291.12" stroke="#777" stroke-width="0.4"/>
<text transform="translate(393,293.68) scale(1.18,1)" class="tk">0.02</text>
<line x1="388.3" y1="271.64" x2="389.8" y2="271.64" stroke="#777" stroke-width="0.4"/>
<text transform="translate(393,274.19) scale(1.18,1)" class="tk">0.03</text>
<line x1="388.3" y1="252.15" x2="389.8" y2="252.15" stroke="#777" stroke-width="0.4"/>
<text transform="translate(393,254.7) scale(1.18,1)" class="tk">0.04</text>
<line x1="388.3" y1="232.66" x2="389.8" y2="232.66" stroke="#777" stroke-width="0.4"/>
<text transform="translate(393,235.21) scale(1.18,1)" class="tk">0.05</text>
<line x1="388.3" y1="213.18" x2="389.8" y2="213.18" stroke="#777" stroke-width="0.4"/>
<text transform="translate(393,215.73) scale(1.18,1)" class="tk">0.06</text>
<line x1="388.3" y1="193.69" x2="389.8" y2="193.69" stroke="#777" stroke-width="0.4"/>
<text transform="translate(393,196.24) scale(1.18,1)" class="tk">0.07</text>
<line x1="388.3" y1="174.2" x2="389.8" y2="174.2" stroke="#777" stroke-width="0.4"/>
<text transform="translate(393,176.75) scale(1.18,1)" class="tk">0.08</text>
<text class="al" x="74.7" y="130.1" text-anchor="middle" textLength="44.25" lengthAdjust="spacingAndGlyphs" style="font-size:7.8px">Length (mm)</text>
<text class="al" x="214.1" y="129.1" text-anchor="middle" textLength="43.76" lengthAdjust="spacingAndGlyphs" style="font-size:7.8px">Height (mm)</text>
<text class="al" transform="translate(10.4,71.7) rotate(-90)" text-anchor="middle" textLength="70.22" lengthAdjust="spacingAndGlyphs" style="font-size:7.8px">Displacement (mm)</text>
<text class="al" x="355.6" y="130.2" text-anchor="middle" textLength="43.83" lengthAdjust="spacingAndGlyphs" style="font-size:7.8px">Length (mm)</text>
<text class="al" x="491.1" y="129.4" text-anchor="middle" textLength="43.75" lengthAdjust="spacingAndGlyphs" style="font-size:7.8px">Height (mm)</text>
<text class="al" transform="translate(289.4,72) rotate(-90)" text-anchor="middle" textLength="70.92" lengthAdjust="spacingAndGlyphs" style="font-size:7.8px">Displacement (mm)</text>
<text class="al" x="209.1" y="341" text-anchor="middle" textLength="47.37" lengthAdjust="spacingAndGlyphs" style="font-size:7.8px">Length (mm)</text>
<text class="al" x="350.2" y="341" text-anchor="middle" textLength="46.79" lengthAdjust="spacingAndGlyphs" style="font-size:7.8px">Height (mm)</text>
<text class="al" transform="translate(147.5,261.6) rotate(-90)" text-anchor="middle" textLength="40.05" lengthAdjust="spacingAndGlyphs" style="font-size:7.8px">Stress (MPa)</text>
<text class="cap" x="125.9" y="150.6">(<tspan font-weight="bold">a</tspan>)</text>
<text class="cap" x="403.2" y="150.6">(<tspan font-weight="bold">b</tspan>)</text>
<text class="cap" x="265.3" y="360.8">(<tspan font-weight="bold">c</tspan>)</text>
</svg>
</body></html>
